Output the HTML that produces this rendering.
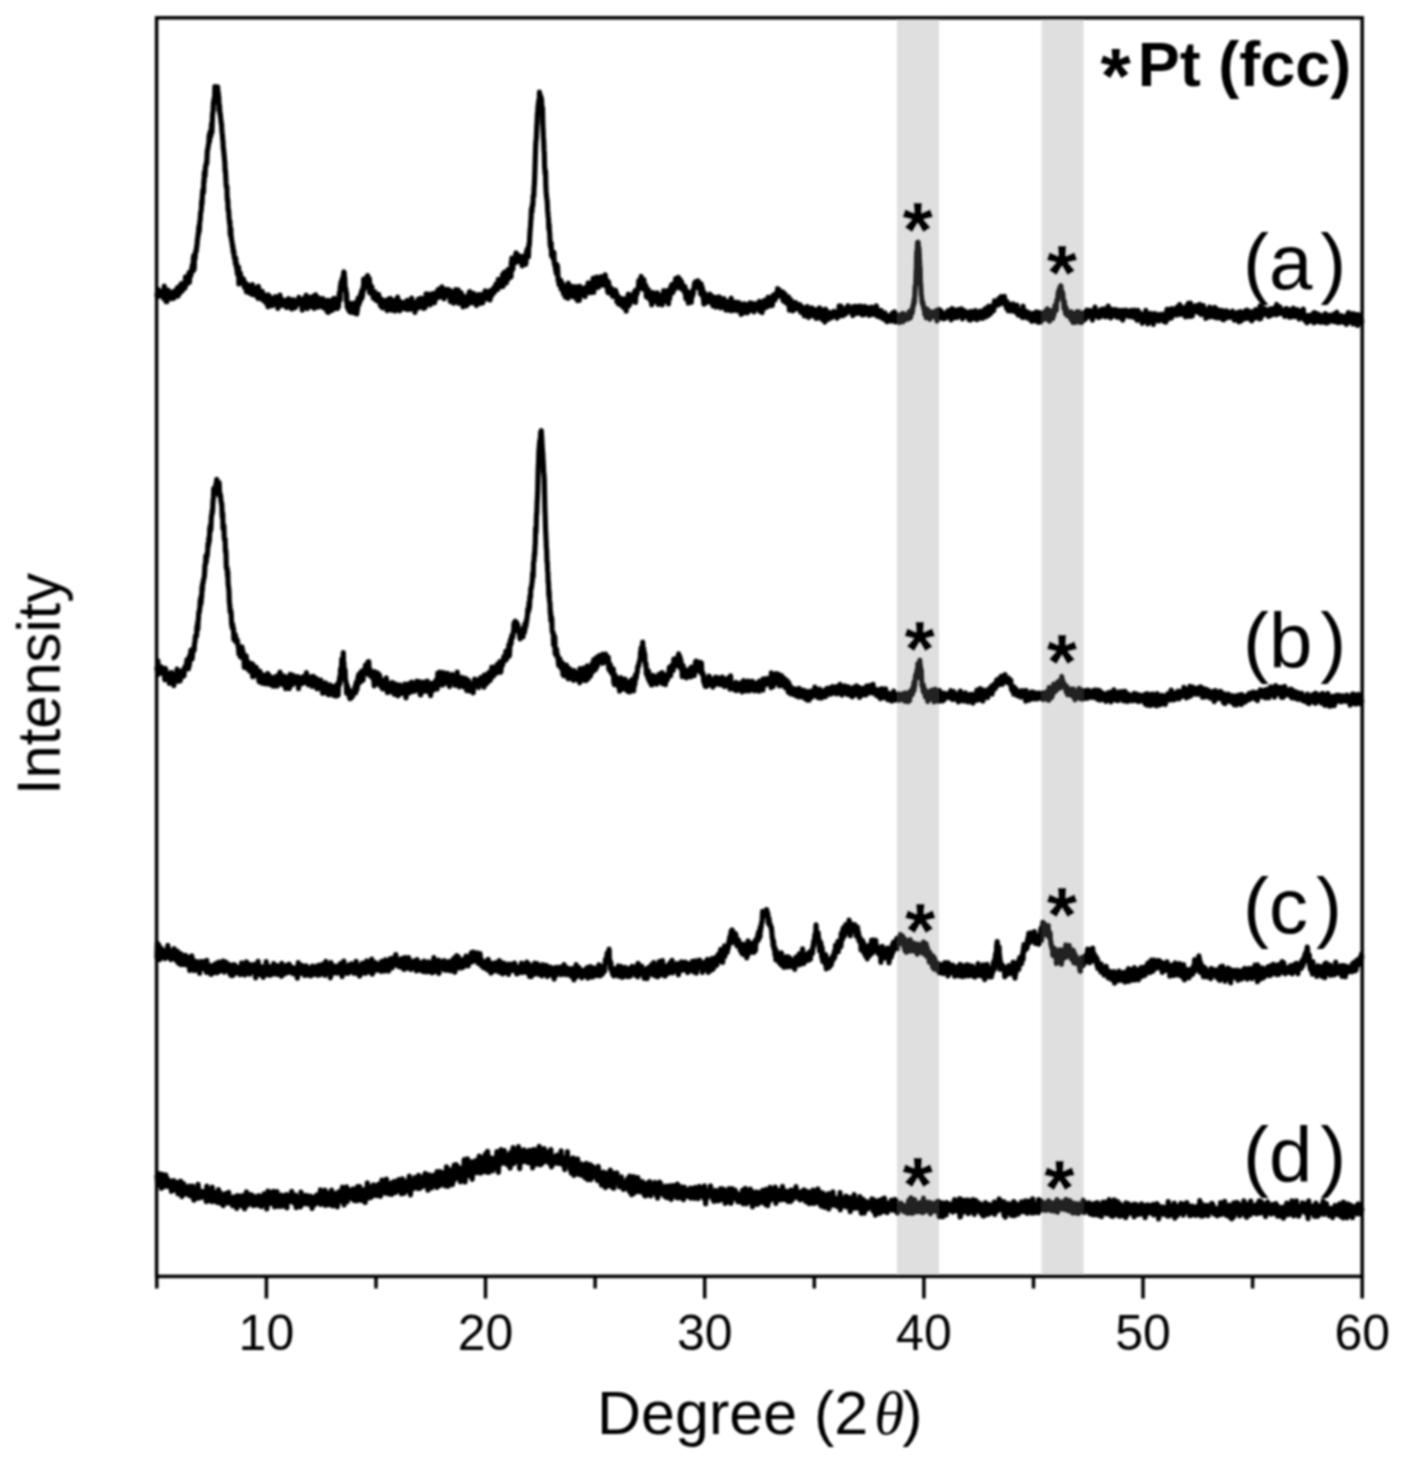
<!DOCTYPE html>
<html><head><meta charset="utf-8"><title>XRD patterns</title>
<style>
html,body{margin:0;padding:0;background:#fff;}
svg{display:block;}
text{font-family:"Liberation Sans",Arial,sans-serif;fill:#000;}
</style></head>
<body>
<svg width="1402" height="1464" viewBox="0 0 1402 1464">
<defs><filter id="bl" x="-5%" y="-5%" width="110%" height="110%"><feGaussianBlur stdDeviation="0.85"/></filter></defs>
<rect width="1402" height="1464" fill="#fff"/>
<g filter="url(#bl)">
<g fill="none" stroke="#000" stroke-width="5.2" stroke-linejoin="round" stroke-linecap="round">
<path d="M157 294.7l.3 1.5 .3-1.5 .3-5.3 .3 7.1 .3-1.5 .3-3.1 .3 3.6 .3-.7 .3-.2 .3-.8 .3 1.7 .3-4.1 .3 1.9 .3-1 .3 3.5 .3-1.7 .3-1 .3-1.5 .3 1.7 .3 .9 .3-.8 .3 5.1 .3-.9 .3-11.4 .3 2.3 .3 5.6 .3-.7 .3 2.1 .3 .1 .3 6.1 .3-10.2 .3 2.4 .3 7.8 .3-4.4 .3 .1 .3-3.7 .3-3.5 .3 5.8 .3-.1 .3-4.2 .3 1.8 .3 2 .3-2.8 .3 2.7 .3 .7 .3-.2 .3-1.7 .3 3.5 .3 .9 .3-1.8 .3-3.7 .3 4.9 .3-4 .3 4.3 .3-6.4 .3 6.3 .3-3.2 .3-4 .3 2.8 .3 1 .3 .5 .3-4.2 .3-.6 .3 3.9 .3-2.3 .3 2 .3 1.4 .3-7.9 .3 5.8 .3 2.8 .3-5.1 .3-1.9 .3 4.7 .3-1.9 .3 1.8 .3-4.3 .3-3.9 .3 4 .3-1.3 .3 3.6 .3-2.2 .3-6.1 .3 1.1 .3 6.3 .3-.9 .3-4.6 .3 1.7 .3 1.1 .3-.3 .3 .9 .3-2.4 .3-1.5 .3-1 .3 3.8 .3-11 .3 6.3 .3 0 .3-5.1 .3 5.1 .3-3.7 .3 4.3 .3-3.7 .3 1.9 .3 1.2 .3-3.3 .3-4.6 .3-2.7 .3 9.8 .3-6.7 .3-2.6 .3 1.9 .3-1.9 .3 2.6 .3-3.5 .3-1 .3-3.2 .3 2.8 .3-5.8 .3 4.4 .3 1.6 .3-10.8 .3-4.2 .3 8.7 .3 4.9 .3-12.8 .3-2.3 .3 4.3 .3-6.3 .3-.7 .3-1.3 .3 .9 .3-5 .3 .1 .3-3.6 .3-4.2 .3-.5 .3-4.2 .3 .7 .3-6 .3-2.5 .3 5.4 .3-7.5 .3-2.9 .3-1 .3-5.9 .3-2.3 .3-.7 .3-3.3 .3-7.4 .3 3.6 .3-7.4 .3-4.3 .3-2.4 .3-1.2 .3 3.6 .3-11.8 .3 1.5 .3-10.1 .3 4.1 .3 .1 .3-6.4 .3-4 .3 0 .3-1.2 .3-2.8 .3 1.6 .3-8.1 .3-5 .3-.8 .3-1.9 .3-1.5 .3-2.3 .3-1.1 .3-7.5 .3 6.3 .3-6.1 .3-3.5 .3 4.1 .3 .5 .3-4.5 .3-2.9 .3-5.6 .3 9.1 .3-8.1 .3-9.6 .3-2.5 .3-1.2 .3-9.1 .3 1.8 .3-5.2 .3 2.8 .3-2.4 .3-12.4 .3 7.4 .3-6.2 .3 7.9 .3-3.7 .3 .6 .3-5.6 .3 8.9 .3 .5 .3-9.6 .3 6.1 .3-.9 .3 5.2 .3-.5 .3 13.5 .3-5.8 .3 4.9 .3 5.3 .3-.9 .3 4.1 .3 1.7 .3 4.3 .3-.5 .3 5.3 .3 3.8 .3 2.7 .3 4.5 .3 2.2 .3 6.9 .3 .2 .3 4.4 .3 2.3 .3 4.4 .3 1.6 .3 9.7 .3-1.4 .3 5.2 .3 7.2 .3 3.9 .3 1.3 .3-1.3 .3 11.7 .3 3.3 .3-1.5 .3 10.6 .3-1.2 .3 2 .3 7 .3 2 .3 3.9 .3-3.1 .3 13.5 .3-5.2 .3-.6 .3 9.2 .3-.8 .3 4.3 .3 0 .3 3 .3 2.9 .3-1.3 .3 6.3 .3-1.9 .3 .4 .3 4.7 .3 2.8 .3-.5 .3-.4 .3 6.3 .3-6.1 .3 3.8 .3 4.9 .3-3.1 .3 5.7 .3 1 .3 4.2 .3-4.8 .3 2 .3 3.9 .3-8.1 .3 16.8 .3-9.9 .3 .6 .3 5.6 .3-2.3 .3-4.9 .3 8.2 .3 1.2 .3-3.7 .3 1 .3 2.9 .3-4 .3 4.7 .3-.3 .3-2.4 .3-1.9 .3 4.1 .3-1.8 .3 6.3 .3-2.4 .3 2.4 .3-1.8 .3 .7 .3-3 .3 4.9 .3 3.8 .3-6.4 .3-.7 .3 1.6 .3-.8 .3-.5 .3 2.9 .3-1.1 .3 5.7 .3-4.4 .3 1.2 .3 2.2 .3-3.8 .3 5.7 .3-6.4 .3-.4 .3 1.5 .3 1 .3-3.9 .3 4.5 .3-5.1 .3 9.9 .3-4.5 .3-1.6 .3-.7 .3 1.8 .3 .7 .3-2.5 .3 .6 .3 2.5 .3-.9 .3 4.8 .3 .8 .3-3.4 .3 1.7 .3-5.6 .3 6.5 .3-2 .3 1.9 .3 3.8 .3-12.2 .3 8.3 .3-4.1 .3 5.7 .3-5.9 .3 2.9 .3 2.4 .3 1.6 .3-1.5 .3-2.5 .3 1 .3 4.8 .3-2.6 .3-5.1 .3 8.3 .3-1.1 .3 1.7 .3-3.6 .3 3.9 .3-5.8 .3 5.4 .3-3.2 .3 3.9 .3 1.3 .3-5.4 .3 2.3 .3 .5 .3 3.8 .3-1.4 .3-6 .3 5.5 .3 1 .3 4.4 .3-11.9 .3 3.7 .3 6 .3-8.4 .3 .5 .3 5.6 .3 1.7 .3-5.3 .3 3.9 .3-1.2 .3 4.5 .3-4.7 .3 3.2 .3-6 .3 2.4 .3 .4 .3 4 .3-1.8 .3-4.1 .3 4.6 .3 .3 .3-2.7 .3-.4 .3 .2 .3-4.7 .3 6 .3 .2 .3-3.5 .3 5.2 .3-6.7 .3 2.6 .3 .3 .3 7.8 .3-11.4 .3 6.9 .3 1.2 .3-1.8 .3 2.6 .3-7 .3-4 .3 9.6 .3-6.2 .3 2.8 .3-2.7 .3 7 .3-.6 .3-5 .3 5.2 .3-2.5 .3-.8 .3 .6 .3-.8 .3 2.6 .3-1 .3-2.1 .3 4.3 .3-5.1 .3 2.8 .3 .4 .3 3.4 .3-6.3 .3 7.1 .3-4.9 .3-1.2 .3-1.5 .3 4 .3-1.7 .3-3.7 .3-.1 .3 1.8 .3-.3 .3 5.6 .3 .9 .3-1.6 .3-1.7 .3-2.5 .3 1.6 .3 2.6 .3 4 .3-3.9 .3-3.8 .3 1 .3-1.6 .3-1 .3 1.9 .3 1.2 .3 5.2 .3-5.6 .3 4.1 .3 1.3 .3-5.3 .3 4.8 .3-2.8 .3-3.6 .3 2.1 .3-.7 .3-.8 .3 .1 .3 1.1 .3 .9 .3-4.2 .3 2.8 .3-4.8 .3 5.6 .3 1.2 .3-1.5 .3 .4 .3 1 .3-4 .3 1.3 .3 2.4 .3 1.5 .3-1.9 .3 6.8 .3-8.4 .3 3.5 .3 .8 .3-4.5 .3-2.1 .3-1.2 .3 4.2 .3 3 .3-2.7 .3-.3 .3-1.8 .3 3 .3-8.6 .3 7.5 .3-.7 .3-4.5 .3 11.3 .3-11.4 .3 1 .3-.4 .3 7.3 .3-6.4 .3 4.9 .3-.3 .3-1.1 .3-5 .3 2.2 .3 7.2 .3-9.4 .3 1.4 .3 2.1 .3 3.1 .3-1.8 .3 1.5 .3-5.7 .3 6.3 .3-1.2 .3-6.8 .3 9.9 .3 2.3 .3-9.7 .3 2.6 .3 4.3 .3-9.2 .3-1.6 .3 2.2 .3 2.3 .3 0 .3 3.7 .3-1 .3-4.8 .3 5.8 .3 4.2 .3-2.1 .3-.6 .3-3 .3 3.2 .3-6.1 .3 5.5 .3-2.5 .3 4 .3-1.9 .3-4.8 .3 4 .3 3.6 .3-7.3 .3 2 .3-.5 .3-2.1 .3 8 .3 1.3 .3-1.4 .3-1.6 .3-.8 .3 1.2 .3-2.9 .3 5.3 .3 .7 .3-.2 .3-4.5 .3 2.2 .3-.6 .3 6.3 .3-4.9 .3-6.4 .3 7.4 .3 4.8 .3-3.6 .3 .7 .3-2.5 .3-6.3 .3 .6 .3 1.9 .3 3.6 .3 1.5 .3 1.2 .3-3.2 .3 4.1 .3-3.9 .3-1.3 .3 4.8 .3-5.7 .3-5.4 .3 4.7 .3 3.5 .3-8.8 .3 6.9 .3-.2 .3-3.7 .3-.5 .3 2.8 .3-.6 .3 5.3 .3-3.2 .3-6.6 .3 1.9 .3 4.5 .3 3.3 .3-5.3 .3-.7 .3 4.3 .3-6.9 .3-2.2 .3-5 .3 1.1 .3 6.7 .3-13.4 .3 2.4 .3-6.6 .3 2.7 .3 .3 .3-5.5 .3 1.3 .3-1.7 .3-2.2 .3 2.9 .3-3.7 .3-3.7 .3-1.1 .3 .5 .3 6 .3-.2 .3 12.1 .3 .7 .3-3.1 .3 3.1 .3 9.8 .3-8.1 .3 7.4 .3 6.9 .3-4 .3 2.6 .3 .8 .3 3.3 .3-1.5 .3 1 .3 .8 .3-1.6 .3 3.5 .3-5.7 .3-2.1 .3-.9 .3 .6 .3 3.4 .3 5.1 .3-2.6 .3-2.4 .3-1.4 .3 1.8 .3 .4 .3-.4 .3-2.7 .3 3 .3 4.8 .3-10.1 .3 6.1 .3-5.9 .3 7.2 .3-3.1 .3-4.5 .3 6.5 .3 4.9 .3-6.1 .3 2.6 .3-4.7 .3-7.4 .3 7.5 .3-3.8 .3-4.3 .3 6.2 .3-2.5 .3-3.5 .3 3.5 .3-6.4 .3 4 .3-5.8 .3 3.8 .3-6.1 .3 7.3 .3-5 .3 2.7 .3-8.1 .3 0 .3 3.2 .3-11.9 .3 4 .3 5.8 .3-2.6 .3 1 .3-4.6 .3 2.3 .3-4.3 .3-2.1 .3-1 .3 3.7 .3 .1 .3 0 .3-6 .3 2.2 .3 4.9 .3 3 .3-2.4 .3-.5 .3-4.1 .3 14.2 .3-9.4 .3 9.4 .3 .1 .3-3.5 .3-2.2 .3 2.8 .3-3.5 .3 5 .3-.3 .3 2.2 .3 1.8 .3 3 .3-6.2 .3 4.9 .3-5.3 .3 0 .3 1.3 .3-.8 .3 6.5 .3 .2 .3 1.5 .3-3.7 .3 1.3 .3-2.2 .3-1.5 .3 5.5 .3-.2 .3-3.9 .3 5.7 .3-6.9 .3 5.3 .3-1 .3 .7 .3-1.4 .3 6.8 .3-.9 .3 2.3 .3-3 .3-4.2 .3 3.2 .3-2.3 .3 5.5 .3 2.6 .3-2.6 .3-2.7 .3 .9 .3 2 .3-5.1 .3 5.2 .3 .2 .3-2.3 .3 .4 .3 1.9 .3-3.1 .3-.1 .3 5.1 .3-1.8 .3 4.6 .3-8.4 .3-2.5 .3 8.6 .3 0 .3-5.3 .3-2.3 .3 4.5 .3-5.4 .3 4.4 .3-5.8 .3 6.2 .3-6 .3 6 .3 5.5 .3-5.6 .3 3.2 .3-4.4 .3-.8 .3-1.9 .3 8 .3-3.5 .3 5.3 .3-8.9 .3 3.1 .3 .9 .3 4.2 .3 1.3 .3-7.8 .3-1.5 .3-1.9 .3 9.7 .3-4.5 .3-1.8 .3 1.9 .3-7.9 .3 2.6 .3 8.4 .3-1.7 .3-.8 .3-3.6 .3 5 .3 3.7 .3-9.4 .3 3.9 .3-1.4 .3 2.5 .3-1.1 .3-.5 .3-2.4 .3 2.8 .3-1.9 .3 1.5 .3 .2 .3 2.3 .3-3.9 .3 .8 .3 4.4 .3-4.1 .3-.1 .3 3.6 .3-1.9 .3-.6 .3 .4 .3-4.6 .3 5.4 .3 2.7 .3-2.3 .3-6.8 .3 5.8 .3-3.7 .3 2.1 .3 1.1 .3-4.2 .3 8 .3-4.5 .3 2.7 .3-.6 .3 2.2 .3-.5 .3-8.4 .3 4.7 .3-6.9 .3 5.3 .3 3.6 .3 .6 .3 1.1 .3-5.3 .3 2.1 .3-.8 .3 3.6 .3 1 .3-6.2 .3 9.3 .3-8.4 .3-1.2 .3 3 .3 .4 .3-.7 .3-3.9 .3 6.6 .3-4.5 .3 4.5 .3-.5 .3-8.5 .3 .8 .3-.1 .3 3.8 .3-.7 .3 .6 .3-3.5 .3 3.8 .3 3 .3-8.7 .3 3.4 .3 1.3 .3-1.2 .3-.4 .3 6.1 .3-1.6 .3-1.5 .3-5.1 .3 9.3 .3-6 .3-3.1 .3 .7 .3-.6 .3 8.1 .3-6.1 .3-.6 .3-7 .3 9 .3-5.8 .3-.3 .3 5.4 .3-4.8 .3 5.3 .3 .8 .3-9.3 .3 5.1 .3-4.6 .3 4.6 .3 3 .3-7.3 .3 9.8 .3-6.8 .3-2.8 .3 3.1 .3 2.8 .3-7 .3 4.2 .3-4.5 .3 8 .3-3.5 .3-2 .3 4.5 .3-7.5 .3 2.6 .3 6.9 .3-6.4 .3 4.5 .3-3.8 .3-3 .3 1.3 .3 .8 .3-1.6 .3-1.5 .3 0 .3-2.4 .3 4.9 .3 .7 .3 1 .3-8.2 .3 8.1 .3-2.8 .3-4.6 .3 4.7 .3 2.2 .3-1.1 .3 .5 .3 .6 .3-.2 .3-3.1 .3-6.5 .3 4.1 .3 3.4 .3-2.7 .3 3.6 .3 .3 .3-2.4 .3 5.7 .3-9 .3 6 .3-4.4 .3-1 .3 4.3 .3-3.8 .3 4.7 .3-6.3 .3 3.8 .3-2.7 .3 2 .3-.3 .3-2.3 .3 5.7 .3-5.9 .3 1 .3 6 .3 .4 .3-.8 .3-.9 .3 6.2 .3-10.8 .3 1.6 .3-.6 .3 6.1 .3-1.7 .3 2.7 .3-.3 .3-3.6 .3-1.7 .3-.4 .3 10.3 .3-3.8 .3-1 .3-2.8 .3 .6 .3-.3 .3 .2 .3-6.4 .3 7.4 .3-.9 .3 2.3 .3-.2 .3 2.1 .3-2.6 .3 2.6 .3-10.5 .3 4.6 .3 9 .3-9.2 .3 3 .3 3.2 .3-5 .3 5.1 .3-6.7 .3-1.4 .3 1.9 .3-1 .3 5.2 .3-.9 .3 2.1 .3-4.2 .3 11.3 .3-8.2 .3 .2 .3 1.6 .3-2.1 .3-1.2 .3 2.3 .3 2.7 .3-.8 .3 .9 .3-4.7 .3-.6 .3 8.8 .3-7 .3 2.3 .3 .8 .3 2.2 .3-8.7 .3 2.8 .3 .2 .3 .4 .3-6.6 .3 7.3 .3-7.8 .3 9.1 .3 .8 .3 .2 .3-5.7 .3 6.8 .3-5.7 .3-1.1 .3 .8 .3 .4 .3 3.2 .3 2.1 .3-9.2 .3 4.8 .3 4.6 .3-2.3 .3 1 .3-6.4 .3 7.7 .3-8 .3 5.5 .3 3.6 .3 1.6 .3-4.4 .3 1.1 .3-4.7 .3 .3 .3 5.1 .3-3.8 .3-.5 .3-4.1 .3 4.8 .3 1.5 .3-4.7 .3 .8 .3 6.5 .3-4.5 .3-1.6 .3-2.8 .3 1.5 .3 1 .3 5 .3-6.4 .3 7.4 .3-8.7 .3 1.7 .3 3.6 .3-3.5 .3-2 .3 2 .3 1.7 .3-7 .3 4.5 .3 .3 .3-1.1 .3 3.4 .3-4.3 .3 .5 .3 1.1 .3 2 .3-3.1 .3 5.2 .3-7.7 .3 6.7 .3-6.9 .3 2 .3 1.5 .3 5.1 .3-3.8 .3-4.3 .3 5.1 .3-5 .3-2 .3 3.6 .3-1.4 .3 2.4 .3-5 .3 2.6 .3 .4 .3-1.4 .3-1.3 .3-2.5 .3 4.7 .3-2.7 .3 .7 .3-3 .3 .8 .3-3.7 .3 3.1 .3 1.8 .3-2.5 .3 2 .3-2.1 .3 2.9 .3-5.2 .3-4.9 .3 6.1 .3-2.2 .3-2.9 .3 4.7 .3-1.5 .3 .2 .3-2.7 .3 1.3 .3-.1 .3 4.5 .3-8 .3 1.8 .3 .9 .3-6.8 .3 .1 .3 11.6 .3-12.6 .3 7.1 .3-4.7 .3 0 .3-4.1 .3 3.1 .3 5 .3-7.1 .3 6 .3-1.2 .3 5.1 .3-8.2 .3 5.2 .3-1.5 .3-4.1 .3-4.6 .3 9.5 .3-9.4 .3 2.4 .3 3.9 .3 .2 .3-6.7 .3 1.8 .3-1.5 .3 3.7 .3 3.3 .3-14.6 .3 7.7 .3-12 .3 7.2 .3-4.5 .3 8.8 .3-6.7 .3-3.6 .3-.1 .3-.9 .3 1.7 .3-1.6 .3 2.2 .3 2.5 .3-2.8 .3-6 .3-1.2 .3 2.9 .3 5.8 .3-4.1 .3-.8 .3 2.8 .3-4.7 .3 1.2 .3 5.4 .3-2.4 .3-.2 .3 2.5 .3-2.7 .3-.4 .3 .7 .3 3.3 .3-1.7 .3-4 .3 2.7 .3 2.9 .3 3.7 .3-9.6 .3 4.5 .3-2.1 .3 3.2 .3-1.4 .3 2.9 .3-3.2 .3-3.7 .3-.3 .3 2.6 .3-.4 .3 5.9 .3-2.7 .3-9.4 .3 4.3 .3-5.8 .3-1.5 .3 6.9 .3-1.2 .3-5.6 .3 7.7 .3-9.7 .3-3.5 .3 1.8 .3-5.9 .3-6.1 .3-4.4 .3-3.3 .3-4.6 .3-3.3 .3-8.3 .3-1.2 .3 3.4 .3-7 .3 1 .3-1 .3-8.3 .3-1.8 .3 1.5 .3-9.3 .3-2.4 .3-7.7 .3-9.5 .3-9.8 .3-9.1 .3-7.1 .3-1 .3-6.2 .3-8.2 .3-2.7 .3-9.9 .3 .8 .3-6.8 .3-2.7 .3-2.2 .3-2.4 .3 6.3 .3-14.4 .3 4.6 .3 2.8 .3-1.4 .3-2 .3 8.3 .3-6.1 .3 2.3 .3 9.3 .3-2.7 .3 1 .3 15.6 .3 6.1 .3 7.1 .3 3.7 .3 9.3 .3 3.1 .3 14.1 .3 2.4 .3 4.9 .3-3.5 .3 13.5 .3 6.8 .3 3.6 .3 3.1 .3 1.7 .3 3.1 .3 7 .3 3.2 .3 3.6 .3 2.2 .3 10.2 .3-5.1 .3 7.2 .3 1.8 .3 8.2 .3 4.2 .3 2 .3 .7 .3-4.9 .3 12.7 .3-3.2 .3-.4 .3 1.9 .3 .3 .3 3.8 .3 .9 .3-.9 .3-5.7 .3 9.1 .3 2.7 .3 1.2 .3-1.1 .3 3 .3 2.8 .3-3.6 .3 7.1 .3-9.6 .3 3.3 .3 2.2 .3-3.6 .3 5.6 .3 8.2 .3 1.1 .3-2.4 .3 6.2 .3-3.6 .3-1.2 .3 3.3 .3-.2 .3 3.6 .3-6.2 .3 8.6 .3-3.9 .3 4.7 .3-7 .3 3.9 .3 1.9 .3 2.7 .3-6.4 .3 9.2 .3-3.5 .3-3 .3 5.7 .3-3.4 .3 3.5 .3 3.8 .3-4.7 .3-3.9 .3 .5 .3 3.3 .3-.8 .3-3.4 .3 .7 .3 4.3 .3 5.3 .3-15.3 .3 10.5 .3-2.8 .3 3.2 .3 .4 .3-2.5 .3-3.3 .3-1.1 .3-1.4 .3 9.8 .3-4.4 .3-1 .3 .9 .3-3.3 .3 5.2 .3 3.2 .3-.5 .3-8.4 .3 9.2 .3-6.6 .3-3.6 .3 2.1 .3 .9 .3 3 .3-3.2 .3-1.5 .3 3.9 .3 6.8 .3-8.2 .3 3.6 .3-1.2 .3 7.8 .3-14 .3 9.3 .3-7.4 .3 2.1 .3 1.5 .3 8.4 .3-10.6 .3-3.5 .3 9.9 .3-6.7 .3 1.8 .3 .6 .3 .4 .3-.9 .3 1.3 .3 .3 .3 1.4 .3-4.1 .3-1 .3-1.1 .3 5.1 .3-2 .3 1.8 .3-.1 .3 3.5 .3-4.7 .3 1.6 .3-6.2 .3 .3 .3 2.3 .3-2.9 .3 5.9 .3-6.4 .3 4.3 .3-8 .3 4.2 .3 2.2 .3 .1 .3-4.9 .3 5.7 .3 2.5 .3-1.2 .3-4.4 .3 0 .3-2.2 .3 5.4 .3 2.2 .3-6.5 .3-4 .3 5.6 .3 1.2 .3-10.6 .3 8.2 .3 6 .3-4.5 .3-1.2 .3-.8 .3 1.8 .3-6.5 .3 .1 .3 3.6 .3-3.6 .3 2.8 .3-6.9 .3 8.2 .3 .1 .3-2.6 .3 .3 .3 4.4 .3-8.6 .3 .5 .3-.7 .3 2 .3-2 .3 3.2 .3-2.2 .3-2.6 .3-.4 .3 8.5 .3-4.1 .3-.5 .3 .7 .3-.4 .3 2.6 .3-.7 .3-3.6 .3-.7 .3-.9 .3-.5 .3 8.3 .3-7.2 .3-3.3 .3 3.9 .3 .4 .3 3.7 .3-3.5 .3 4.8 .3 0 .3 3.1 .3 3.2 .3 1.9 .3-3.5 .3-7.3 .3 2.8 .3 2.6 .3 6.2 .3-3.9 .3 2.2 .3-3.9 .3 2.9 .3 .8 .3-3.2 .3 4.2 .3 1.3 .3-3.5 .3 4.1 .3 2.3 .3-4.6 .3 .2 .3-.6 .3-.6 .3 2.8 .3-1.3 .3 .7 .3-1.1 .3-1.9 .3 2.2 .3 4.4 .3-4.3 .3 2 .3 7.6 .3-1.2 .3-5.3 .3 4.4 .3-3.5 .3 7.4 .3-6.5 .3 2.4 .3 4.4 .3-6.5 .3 7 .3-6.4 .3 3.6 .3-1.4 .3 1 .3 1 .3-.5 .3-2.7 .3 6 .3-.3 .3 2 .3 .4 .3-8.4 .3 8.3 .3 .1 .3-5.7 .3 4.9 .3 1.4 .3-6.3 .3-2.7 .3 3.1 .3 9.1 .3-7.4 .3-4.7 .3 2.9 .3-2.5 .3 1.7 .3 1.3 .3-8.4 .3 8.8 .3 3.1 .3-5.3 .3-.8 .3 4.3 .3-7.6 .3-.2 .3-.8 .3 3.6 .3 1.4 .3-1.8 .3 1.6 .3 .6 .3-1.4 .3-4.4 .3 1.4 .3 4.3 .3-7.4 .3 2.1 .3-.9 .3 .4 .3-3.1 .3-1.2 .3 11.8 .3-5.4 .3-5.6 .3 1.6 .3 1.7 .3-3.8 .3 2.4 .3-4.5 .3 .2 .3 .1 .3-1.8 .3-6.9 .3 7 .3 .1 .3 0 .3-5.2 .3 3.5 .3-.9 .3-6.7 .3-1.8 .3 7.9 .3-4.8 .3 5.8 .3 3.4 .3-8.6 .3-.3 .3 2.2 .3 2.5 .3-5.1 .3 8.1 .3-.1 .3-.2 .3-2.8 .3 5.5 .3 .8 .3-5.3 .3 11.2 .3-6.5 .3 3 .3-2 .3 3.5 .3 3 .3-5.7 .3-2.4 .3 4 .3-2.5 .3 2 .3 2.1 .3 .4 .3 4.4 .3-7 .3 4.5 .3-2.5 .3 6 .3 3.8 .3-6.8 .3 4.4 .3-6.7 .3-3.2 .3 1.2 .3-.8 .3 2 .3 2.4 .3 4.4 .3-1.3 .3-.6 .3-2.7 .3-.8 .3 2.4 .3 .4 .3 .4 .3 .5 .3-1.5 .3-5.6 .3 2.6 .3 .9 .3 7.9 .3-6.6 .3 3.4 .3 2.4 .3-3.5 .3-2.2 .3 .2 .3-2.3 .3 4.1 .3 2.6 .3-1.8 .3 .5 .3-.2 .3 3.9 .3-8.2 .3 2.4 .3 1.6 .3 1.6 .3-11.5 .3 5.8 .3 .9 .3-2.7 .3 5.8 .3-2.1 .3-2 .3-4 .3 .9 .3 .9 .3 4.3 .3-5.3 .3-2.7 .3 1.7 .3 2.5 .3 6.8 .3 2.3 .3-9.6 .3 4.1 .3 1 .3-.8 .3-4.9 .3-4.2 .3 2 .3-4.8 .3 5.9 .3 1.1 .3-8.9 .3 5 .3 .5 .3 2.3 .3-.2 .3-2.4 .3-5.3 .3 .4 .3 4.3 .3-6.2 .3 1.2 .3 4.5 .3-5 .3-5.1 .3 3 .3 2.5 .3-2.9 .3 3.9 .3 .1 .3-6.1 .3 .3 .3 1.2 .3-3.4 .3 5 .3-1.6 .3 3.2 .3-4 .3-.6 .3 8.8 .3-8 .3 1.4 .3 0 .3 1.9 .3-1.3 .3 3.3 .3-1.5 .3 1.5 .3 3.1 .3 1.7 .3-.1 .3-3 .3 4.1 .3-.9 .3 .7 .3-4.4 .3 8 .3-1.9 .3 6.2 .3-2.7 .3-5 .3-.4 .3 8.3 .3-6 .3 5.2 .3-2.8 .3 7.6 .3-6.1 .3 4.5 .3-.6 .3-5.7 .3 .2 .3 5.4 .3-5 .3-3.1 .3 5.9 .3 3.7 .3-8.7 .3 3.9 .3-5.5 .3 4 .3-5.7 .3 4.2 .3-3.2 .3-2.9 .3 .5 .3-3.1 .3-2.4 .3-.5 .3 2.6 .3-3.7 .3 4.2 .3-.2 .3-.5 .3-3.3 .3 1.5 .3-.4 .3 4.2 .3-6.5 .3 1.5 .3 .8 .3 .6 .3-1.4 .3 .9 .3 5.7 .3-4.5 .3 5.5 .3 4.2 .3-1.5 .3-8.8 .3 8.8 .3-.1 .3 1 .3-5.9 .3 8.2 .3-4.9 .3 8.1 .3 0 .3 5.2 .3-8.4 .3-2.9 .3 8.4 .3-.1 .3-3.6 .3 5.6 .3-1.9 .3-6 .3 3 .3-.2 .3 1.1 .3 1 .3-2.7 .3 1.6 .3 2.5 .3-2 .3-.5 .3-.1 .3 .7 .3-5.5 .3 6.4 .3-3.6 .3 3.5 .3-4.8 .3 7.4 .3-2.1 .3-4.8 .3 4.9 .3-3 .3 7.8 .3-3.9 .3-3.9 .3 3.1 .3-.7 .3 3.7 .3-2.5 .3 .5 .3-4.9 .3 5.8 .3 4 .3-4.3 .3-2.1 .3 .7 .3-3.3 .3 3.5 .3-3.9 .3 3.5 .3-1.2 .3-1.3 .3 4.4 .3-6.2 .3 4.4 .3-3.7 .3 9.6 .3 .5 .3-3.3 .3 3.3 .3-3.8 .3 0 .3-2.8 .3-1.3 .3 3.2 .3-1.9 .3 .5 .3 3.6 .3-2.4 .3-4.1 .3 4.1 .3-1.5 .3 1.6 .3-2.3 .3 7.1 .3 2.2 .3-8.9 .3 5.4 .3 0 .3-4.8 .3 3.6 .3 4 .3-1.5 .3 2.4 .3-8.2 .3 1.4 .3 3.2 .3 .2 .3-.9 .3-1.1 .3 0 .3-.6 .3 3.2 .3-9.1 .3 12.6 .3-6.3 .3-2.6 .3 5.9 .3-5.8 .3 5.3 .3-2.3 .3 3 .3 .6 .3 1.5 .3-5.3 .3 .7 .3 .8 .3-4.1 .3 6 .3-1.4 .3-4.3 .3 7.5 .3 .5 .3-7.9 .3 5.6 .3 2 .3-1.2 .3-5.3 .3-1.2 .3 3.8 .3-1.1 .3 1.4 .3-.2 .3 1.8 .3-3.1 .3 1.2 .3 8 .3-7.9 .3 2.5 .3-1.3 .3-.2 .3-3.2 .3 4.2 .3-1.7 .3 2.5 .3 3.7 .3-5.5 .3 1.7 .3-5.2 .3 3.4 .3 4.1 .3-4.6 .3-1.7 .3 2.5 .3-1.2 .3-.1 .3-.4 .3 6.9 .3-8.3 .3 1.3 .3-.4 .3 5.2 .3-4.4 .3 4.6 .3-3.3 .3-.5 .3-4.2 .3 7.7 .3-1.9 .3-.4 .3-1.5 .3-.8 .3-2.5 .3 6.4 .3-2 .3-1.8 .3-.8 .3 2.2 .3-.6 .3 5 .3-2.6 .3-3.9 .3-1.5 .3 2.5 .3-2 .3 2.8 .3 .9 .3 .6 .3-.7 .3-1.8 .3 2.2 .3-4.3 .3 2.3 .3 2.4 .3-1.5 .3-4.5 .3 .2 .3-1.4 .3 9.7 .3-9.7 .3 4 .3 5.5 .3-2.2 .3 .5 .3-5.2 .3 3.4 .3 5.1 .3-7.5 .3 1.1 .3-2.1 .3 .7 .3 1 .3 2.7 .3-6.6 .3-1.6 .3 4 .3 .4 .3 3.3 .3-2.1 .3-4 .3 3.3 .3 1.4 .3-2.5 .3-1.9 .3 2.7 .3-3.1 .3-4.4 .3 8.9 .3-7.5 .3 2.5 .3-.1 .3-.2 .3 0 .3-3.4 .3 5.3 .3-1.5 .3-.2 .3 2.8 .3-.1 .3 .5 .3 1.2 .3-4.1 .3-5.8 .3 4.6 .3-.9 .3-.2 .3-2.2 .3-1.2 .3 4.3 .3 0 .3-6.2 .3 4.2 .3-2.4 .3-1 .3 2.6 .3-2.4 .3-1.8 .3 1.4 .3-6 .3 3.6 .3 .2 .3-2.9 .3 4.3 .3 .1 .3-2.4 .3 1.2 .3 2.4 .3 1.1 .3-4.9 .3 3.2 .3 2.1 .3-2.7 .3-1.9 .3 .3 .3 1.5 .3-1.7 .3 8.7 .3-6.8 .3 3 .3-.2 .3 1.6 .3-2.4 .3-2.1 .3 8.4 .3-4.3 .3 1 .3 .6 .3 3.3 .3-.9 .3 1.5 .3-.6 .3-1.4 .3 .7 .3-2.4 .3-2.9 .3 5 .3-1.9 .3 10.3 .3-2.5 .3-.7 .3-4.4 .3 7.3 .3-10 .3 1.6 .3 1.3 .3-.3 .3 3.1 .3 .4 .3 4.8 .3-2.3 .3 .8 .3-2 .3-1.4 .3-1.3 .3-2.1 .3 1.9 .3 1.5 .3 3.2 .3-6.4 .3 1 .3 4.4 .3-3.3 .3 3.9 .3-1.9 .3-.8 .3-1.4 .3 3.5 .3-1.6 .3 .4 .3 .1 .3 2.3 .3 0 .3-4.8 .3 4.3 .3 1.6 .3 1.8 .3-.6 .3-1.4 .3-3.5 .3 1.1 .3 4.6 .3-4.2 .3 4.7 .3 .8 .3-6.2 .3 4.1 .3-1.4 .3 5.8 .3-3 .3-3.5 .3 2.5 .3-3.4 .3 2.1 .3 1 .3 0 .3 .5 .3-3.2 .3-2.4 .3 4 .3-1.3 .3 .6 .3 7.6 .3-2.5 .3-3.4 .3-3.3 .3 .5 .3 4.4 .3 2 .3-3.5 .3 1.2 .3 .4 .3 2.2 .3-7.7 .3 5.5 .3 .7 .3 1.5 .3-1.3 .3-3.9 .3 1.4 .3-2.4 .3 4.6 .3 .1 .3 .9 .3-3.8 .3-.4 .3 7.1 .3-3.4 .3 4.1 .3-3.3 .3-4.9 .3 6 .3 1.2 .3-4.4 .3-3.8 .3 6.9 .3-2.1 .3 1.2 .3-7.5 .3 8.1 .3-7.9 .3 4.5 .3 4.6 .3-7 .3 0 .3 3.7 .3 5.5 .3 0 .3-5.8 .3 4.3 .3-1.1 .3-.8 .3 .3 .3-2.8 .3 4 .3 .7 .3 4 .3-4.3 .3-8.8 .3 3.3 .3 4 .3-.7 .3-5 .3 4.5 .3-.5 .3 .8 .3-.2 .3 2.7 .3 1.4 .3-2.1 .3-4.7 .3 .7 .3 .4 .3 1.6 .3-1 .3 .1 .3-1.5 .3 4.8 .3-.3 .3 .2 .3-2.8 .3 1.3 .3-3.6 .3-.3 .3 1.1 .3 2.9 .3-2 .3-2.7 .3 3.1 .3 .8 .3-.8 .3-2.3 .3 1.8 .3-1.3 .3 .1 .3 .5 .3 2.1 .3 2.7 .3-.8 .3-2.6 .3-2.7 .3 .1 .3 0 .3 3.6 .3-9.9 .3 7.3 .3-5.9 .3 5 .3 3.4 .3-6 .3-3.6 .3 9.2 .3 .4 .3-2.7 .3 1.9 .3-5.5 .3 5.1 .3 1.2 .3-2.8 .3-1 .3 2.5 .3-.5 .3-4.9 .3 5.4 .3-1.7 .3-1.6 .3 2.9 .3-1 .3-.5 .3-3.3 .3 3.4 .3-5.1 .3 2.5 .3-4.1 .3 0 .3 5.6 .3-1.4 .3 .4 .3 1.3 .3-.6 .3-3.2 .3 2.5 .3-.4 .3-1.1 .3 1 .3-.6 .3-.8 .3 .9 .3 1.4 .3 4.8 .3-7.5 .3 3.5 .3-5.1 .3 7.9 .3-5 .3 1.2 .3 3 .3-.7 .3-6.5 .3 5.4 .3-2.1 .3 2.2 .3-1.2 .3 1.6 .3-1.2 .3-1.1 .3 3.5 .3-7.1 .3 2.9 .3-1.4 .3 2.2 .3-.8 .3 .8 .3-.9 .3 .1 .3-3.1 .3 4.2 .3 1 .3-2.4 .3-.1 .3 0 .3 6.1 .3-3.9 .3 .6 .3-1.8 .3-.5 .3-1 .3 6.3 .3-8.4 .3 5.3 .3-.9 .3-.6 .3-3.3 .3 .8 .3 5.8 .3-4.3 .3 4.1 .3-.5 .3-.2 .3 .5 .3-5.1 .3 1.9 .3 3 .3-5 .3 7.6 .3-5.7 .3 1.3 .3-2.5 .3 3.6 .3-2.8 .3 1.3 .3-2.3 .3 6.1 .3-7.3 .3 5.5 .3-.5 .3 .6 .3-3.7 .3 5.4 .3-.1 .3-2 .3 .5 .3-1.2 .3 2.2 .3-3.7 .3 3.7 .3-.3 .3-4.6 .3-3 .3 6.6 .3 0 .3 3.7 .3-2.9 .3-1.4 .3-2.1 .3 3.5 .3-1.2 .3-1.2 .3 2.7 .3 3.2 .3-2.4 .3-2.8 .3 3.7 .3-3.6 .3-1.1 .3 5.5 .3-2.6 .3 4.5 .3-1.9 .3-2.8 .3 2.8 .3 2.9 .3-3.7 .3-2.1 .3 1.1 .3-.2 .3-.8 .3-.2 .3 4.6 .3 1.9 .3-3.7 .3 3.1 .3 .4 .3 2.2 .3-4.8 .3-.3 .3 2.1 .3-.7 .3 .6 .3 2.7 .3-4.4 .3 1.7 .3-3 .3 2.2 .3-1.2 .3-.2 .3 1.5 .3-.6 .3 2.2 .3 1.2 .3-5.9 .3 6.5 .3-8.4 .3 6.5 .3 1.2 .3-3.5 .3 1.1 .3-1.4 .3 4.3 .3-9.1 .3 4.3 .3-2.6 .3 5.6 .3 2.8 .3-.3 .3-1.3 .3-1.2 .3-2.6 .3 5.1 .3-1.5 .3-3.9 .3-1.2 .3 1.7 .3 4.4 .3 .4 .3 .9 .3-6.2 .3 1 .3 4.5 .3-3.1 .3 1.4 .3-5.5 .3 2.4 .3 .8 .3-.9 .3-.2 .3-3.3 .3 8.4 .3-3.9 .3-4.2 .3 6.5 .3-2.7 .3 1.6 .3-2.5 .3-1.6 .3 0 .3 2.7 .3 1 .3-.8 .3 .3 .3 1.3 .3-2.5 .3 1.8 .3 .1 .3-2.2 .3-1.1 .3-1.1 .3-2.1 .3-1.1 .3 7.1 .3-3.9 .3-1.9 .3 5 .3-2.3 .3-3.2 .3 1.6 .3-4 .3 .4 .3 2.6 .3-3.2 .3-4.7 .3 1.2 .3-.2 .3-4.9 .3-2.3 .3 4.2 .3-8.7 .3-7.2 .3-1.8 .3-.7 .3-11 .3-6 .3-14.7 .3-1.8 .3-.4 .3-8.1 .3 2.3 .3-2.6 .3 1.2 .3 6.2 .3-1.6 .3 5.1 .3 7.1 .3 6.4 .3 1.3 .3 13.8 .3 3.2 .3 4.3 .3 6.5 .3 .6 .3 6.3 .3-1.3 .3 3.3 .3-2.6 .3 3 .3 3.1 .3-2.2 .3 1.9 .3 2.6 .3 4 .3-.2 .3 1.1 .3-1.1 .3 1.9 .3 1.8 .3-3.5 .3 .8 .3 .5 .3-6.6 .3 5.1 .3 1.4 .3 1 .3-2.7 .3 3.5 .3-4.2 .3 1.3 .3 4.9 .3-7.8 .3 3.4 .3-.1 .3 .2 .3-1.1 .3 3.1 .3-4.4 .3-.6 .3 4.7 .3-4.3 .3 4.1 .3-.9 .3-1.8 .3 .9 .3 .7 .3 1.4 .3-2.8 .3 1.1 .3-3.1 .3 3 .3-4.3 .3 4.9 .3-1.1 .3 6.6 .3-2.1 .3-3.7 .3 2.8 .3-1.7 .3-3.8 .3-3.3 .3 9.1 .3-1.9 .3-6.1 .3 6.7 .3 .7 .3-4.2 .3 3.8 .3-6.5 .3 3.8 .3 .6 .3 1.9 .3-1 .3-.5 .3 .8 .3-3.2 .3 5.5 .3-4.7 .3 2.9 .3-2.2 .3-.6 .3 2.1 .3-.4 .3 2.2 .3-.7 .3-4.3 .3 2.7 .3-1.1 .3-2.4 .3-.8 .3 3.5 .3-2.1 .3-2.3 .3 3.3 .3 .8 .3-.4 .3-3.4 .3 1.6 .3 5 .3-5.6 .3 1.1 .3 6.8 .3-5.1 .3-2.3 .3-3.8 .3 5.9 .3-4.5 .3 3.5 .3-2.2 .3-2.1 .3 8.6 .3-4.6 .3 2.7 .3-.5 .3-3.9 .3 2.2 .3-1.2 .3 3.4 .3-1.4 .3-2 .3 5.2 .3-2.9 .3-.2 .3-3.2 .3 3.1 .3-4.8 .3 5 .3-3.6 .3 2.9 .3-1.2 .3 1.4 .3 .3 .3-1 .3 0 .3-3.7 .3-1 .3 8.2 .3-1.7 .3-5.3 .3 8.8 .3-6.8 .3 3.3 .3-.2 .3-.8 .3 1.3 .3-5.1 .3 3.5 .3-.5 .3 .9 .3-.9 .3-.9 .3-.2 .3 4.3 .3-4.5 .3 3.2 .3 0 .3-1.1 .3 1.4 .3 .4 .3-2.8 .3 2.3 .3 4.1 .3-7.7 .3 2.1 .3-1.2 .3 7.2 .3-8.8 .3 3.7 .3 2.5 .3-4.7 .3 2 .3-1.5 .3-1.6 .3 3.3 .3 1.5 .3-2.2 .3 1.4 .3 1.4 .3 1.4 .3-6.3 .3 4.8 .3-3.2 .3-3.3 .3 2.9 .3 3.7 .3-.8 .3-3.7 .3 7.1 .3-3.2 .3-1.2 .3-1.2 .3 2.5 .3-2.1 .3 3.9 .3-2.2 .3 .8 .3-2.5 .3-3.1 .3 5.2 .3-4.1 .3 2.3 .3 .2 .3-2.1 .3 4.2 .3-6.1 .3 7.5 .3-5.5 .3 3.9 .3 .7 .3-5.7 .3 .2 .3 4.2 .3-2 .3-.5 .3-5 .3 .3 .3 5.5 .3 2.2 .3-5.7 .3-.6 .3 2.6 .3 .5 .3 .1 .3-2.8 .3-4 .3 8.6 .3-5.3 .3 4.4 .3-8.6 .3 5.9 .3-2.4 .3-1.7 .3 5.1 .3 .7 .3-5.1 .3 3 .3-4.6 .3 1 .3 .8 .3-.5 .3 2.3 .3-5 .3 5.4 .3-.4 .3-3.4 .3-2.8 .3-3.5 .3 5.6 .3-2.1 .3 1.7 .3-3.5 .3 2.3 .3-.6 .3-.2 .3 .3 .3-.5 .3 1.4 .3-4.9 .3 3.5 .3-1.8 .3-1.8 .3-1.8 .3 6 .3-3.3 .3-2.1 .3 1.3 .3-.2 .3-1.4 .3-2.2 .3 4 .3-.8 .3-.2 .3 3.4 .3-5.7 .3 1.1 .3 3.1 .3 1.9 .3-.3 .3 .6 .3-7.3 .3 7.3 .3 .1 .3 1 .3-3.2 .3 3.4 .3 1.6 .3 1.9 .3-3.2 .3-3.7 .3 3.8 .3 1.9 .3-.1 .3 3.9 .3-5.2 .3-1.8 .3 1.2 .3 3.5 .3-3.5 .3-.5 .3 .7 .3 5.5 .3-2.3 .3-1.3 .3 3.2 .3-.2 .3-4.1 .3 4.8 .3-1.3 .3-5.8 .3 2.4 .3 3.9 .3 .8 .3-1.9 .3-1.6 .3 3.3 .3-5.2 .3 6.3 .3-1.7 .3 .4 .3-1.5 .3 4 .3-8 .3 3.8 .3 3.8 .3-3.2 .3 5.7 .3-2.6 .3-2.9 .3 4.9 .3-3 .3 1.9 .3-3 .3 .1 .3 3.5 .3-1.5 .3-2.1 .3-.2 .3 4.1 .3 2.9 .3-6.6 .3 4 .3-8.5 .3 3.4 .3 5.4 .3 2.4 .3-3.8 .3 1.4 .3-.7 .3 2 .3-5.3 .3 4.5 .3-2.6 .3 .3 .3 1 .3-.5 .3-1.3 .3 1.4 .3-1.7 .3 6.3 .3-1.9 .3-2.8 .3 5.2 .3-.7 .3-2 .3-2.5 .3 2.1 .3 .8 .3 2.2 .3-4 .3-.9 .3 7.4 .3-2.2 .3-2.7 .3-3.1 .3 3.6 .3 1.7 .3-.9 .3 .3 .3-2 .3 2.9 .3-4.5 .3 .5 .3-.1 .3-.3 .3 6.7 .3-9.4 .3 5 .3-3.1 .3-.6 .3 3.5 .3-4.3 .3 3.8 .3 6.2 .3-6.2 .3 1.5 .3-3.3 .3 3.4 .3-5.1 .3 4.4 .3-.8 .3 5.9 .3-5.8 .3-.8 .3-.5 .3-1.6 .3 5 .3 1.8 .3-4.8 .3 2.8 .3-2.8 .3 1.9 .3 .1 .3-4.9 .3 1.7 .3 4.3 .3-7.4 .3 4.9 .3-1 .3-1.6 .3 2.5 .3 .5 .3 .6 .3-8.3 .3 11 .3-5.7 .3 3.8 .3-3.1 .3-1.3 .3 1.2 .3 6.8 .3-2.8 .3-5.1 .3 1.3 .3 2.2 .3-1.6 .3-1.4 .3-.9 .3-2.5 .3 4.6 .3 .7 .3 2.8 .3-7.4 .3 2.9 .3-2 .3 3.1 .3-4.1 .3-2.1 .3-3.6 .3 5.2 .3-2.7 .3 1.3 .3-5.7 .3 6.7 .3-10.1 .3 1.7 .3-1.7 .3 .3 .3-4.7 .3-3.3 .3-1.5 .3 3.6 .3-2.9 .3-.3 .3-3.7 .3 2 .3-.1 .3 1 .3-5.1 .3 2.4 .3 7.4 .3-4.4 .3 2.1 .3 .7 .3-1.2 .3 2.8 .3 5.5 .3-1 .3 8.7 .3-7.5 .3 .4 .3 5.4 .3-.9 .3 7.7 .3-4 .3 2.9 .3-4.7 .3 5.7 .3 .3 .3 1.9 .3-2.4 .3 1.1 .3-.6 .3 2.2 .3-3.2 .3 2.8 .3-2.7 .3 3.6 .3-2.3 .3-.7 .3 .1 .3 5.8 .3-7.7 .3 .4 .3 5.7 .3-4.1 .3 1.6 .3 .1 .3 7.3 .3-7.5 .3 0 .3 .9 .3 1.8 .3 .7 .3-5 .3 5.1 .3 3.9 .3-9.6 .3 6.1 .3 .6 .3-1.6 .3-.9 .3-5.6 .3 9.2 .3-4 .3 .3 .3 3.7 .3-9.3 .3 5.9 .3 1.6 .3 .3 .3-.3 .3 3.6 .3-4.6 .3 1.9 .3-.8 .3-5.9 .3 1.8 .3 7.3 .3-6.2 .3 .5 .3-3.4 .3 2.5 .3-2.6 .3 1.7 .3 2.9 .3-3.7 .3 .5 .3 4.9 .3-2.3 .3 0 .3 1.1 .3-4.1 .3 .3 .3-4.4 .3 7.1 .3-2.5 .3 .4 .3-3 .3 4.4 .3-.1 .3-1.3 .3-4.7 .3 1.8 .3 2 .3-2.2 .3 3.1 .3 1.5 .3-4.7 .3 1.4 .3-1.4 .3 4.4 .3-.5 .3 4.4 .3-6.9 .3-2.5 .3 3.4 .3-1.7 .3 1 .3 2.7 .3-4.1 .3 2.6 .3-7.5 .3 8.2 .3-2.4 .3-1 .3-.8 .3 5 .3-5 .3 4.6 .3-4.7 .3 1.4 .3 .8 .3 4.4 .3-4.6 .3-.1 .3-.7 .3-.7 .3-.7 .3 6.2 .3-.8 .3-5.6 .3 2.2 .3-3.5 .3 5.5 .3-.6 .3-1.5 .3-2.4 .3 4.1 .3-.4 .3-2.1 .3 2.4 .3-5.4 .3 2 .3-.9 .3 2.8 .3 4 .3-4.2 .3 2.8 .3-3 .3-1 .3 3.8 .3-1.3 .3 2.3 .3-1.1 .3-4.6 .3-4.5 .3 6.9 .3-3.4 .3-.5 .3-.2 .3 2.2 .3 1.1 .3 .6 .3 5.3 .3-8.4 .3 3.1 .3-3.2 .3 .7 .3 2.7 .3 1 .3-4.4 .3 6.3 .3-5.4 .3 5 .3-2.7 .3 2.6 .3-.9 .3-2.2 .3 2 .3-4.7 .3 .1 .3 2.5 .3 4.5 .3-5.5 .3 .4 .3 5.9 .3-4.2 .3-.1 .3-2.7 .3 2.9 .3 1.4 .3-1.6 .3 2.1 .3-1.1 .3 1.9 .3-.5 .3-2.5 .3 2.6 .3 2.5 .3-3.9 .3-3.9 .3 3.6 .3-.9 .3 7.2 .3-4.7 .3-4.8 .3 2.4 .3 4.3 .3-6.8 .3 1.7 .3 1.3 .3-.3 .3-1.2 .3 1.9 .3-3.9 .3 2.1 .3 0 .3 .8 .3 .1 .3 .8 .3-.9 .3-.2 .3 2.1 .3 1.4 .3 .2 .3-5.4 .3 3.7 .3 1.3 .3-2.6 .3 2 .3-1.8 .3 1.6 .3-4.9 .3 5.3 .3-2.4 .3-.6 .3 1.1 .3 3.4 .3 0 .3-1.8 .3 1.7 .3-3.3 .3-2.1 .3-1.5 .3 4.8 .3-.2 .3 .5 .3 .1 .3 3.1 .3-5.5 .3 .4 .3 7.1 .3-2.9 .3-2.8 .3-4.4 .3 3.1 .3 1.4 .3 .7 .3 .8 .3-1 .3 3.6 .3-6 .3 2.4 .3-1 .3 3.9 .3-1.5 .3 1.6 .3-1.8 .3 6.7 .3-4.9 .3-3.8 .3 2 .3-.9 .3 3 .3 .6 .3-1.4 .3-1.5 .3-1.2 .3 6 .3-1.2 .3-9.6 .3 6.9 .3-2.3 .3 1.3 .3 5.4 .3-7.3 .3 .2 .3 9.2 .3-7.6 .3 .6 .3 3.7 .3-4.3 .3 1.4 .3 .6 .3 3.1 .3-7.9 .3 2.1 .3 1.8 .3 2.7 .3-4 .3 2.9 .3-2.5 .3 .3 .3 4.3 .3-3.9 .3 7.4 .3-5.9 .3 2 .3-1 .3-6 .3 0 .3 5.3 .3-4.2 .3 1.4 .3 .5 .3-1.5 .3 5.4 .3-1.1 .3-1.6 .3 1 .3-3.9 .3 4.6 .3-4.5 .3 6.2 .3-5.8 .3 .2 .3 4.4 .3-1.4 .3-4.2 .3 4 .3-1.7 .3 0 .3 1.5 .3-.1 .3 1 .3-1.5 .3-.4 .3-1.2 .3 4.1 .3-6 .3 6.9 .3 .6 .3-.1 .3-6.1 .3 5.8 .3-2.6 .3-.3 .3 3.9 .3-6.3 .3 .9 .3-4.9 .3-2.6 .3 6.4 .3 .3 .3 .6 .3-1.1 .3-6.1 .3 6.1 .3 1.9 .3 1 .3-6.6 .3 0 .3 .4 .3 .1 .3-2.7 .3 2.4 .3 5.8 .3-7 .3-2.2 .3 4 .3-.6 .3 2.9 .3-3.8 .3 1.4 .3-1.8 .3-.4 .3 3.4 .3-.8 .3-.5 .3 1.4 .3-3.6 .3 2.1 .3 .4 .3 2.4 .3-8.1 .3 4 .3 2 .3-2.8 .3 1.6 .3 1.5 .3-.6 .3-5.8 .3 1.2 .3-3.6 .3 8.3 .3-1.2 .3 2.9 .3-3.5 .3-3.2 .3 5.7 .3-6.3 .3 3.4 .3-.6 .3 2.5 .3 .3 .3-3.5 .3-.9 .3 1.7 .3-1.4 .3 3.9 .3-1.5 .3 2.6 .3 3.1 .3-9.1 .3 .6 .3 2.8 .3-.2 .3-2 .3-3.6 .3 11.1 .3-6.5 .3-3.3 .3-3.2 .3 9.9 .3-2.8 .3-.9 .3-2.7 .3 2.4 .3-.7 .3-5.5 .3 13.3 .3-5.7 .3-2 .3-1.6 .3 .9 .3 8 .3-5.3 .3-4.6 .3 5.9 .3-1 .3 .1 .3-1.7 .3-.1 .3 1 .3-1.1 .3-3.1 .3 1.1 .3 2.7 .3-4.2 .3 3.9 .3-.5 .3 2.8 .3-1.5 .3-1.1 .3 0 .3 2 .3 1.3 .3-5.2 .3-1.2 .3 2.2 .3-4.1 .3 4 .3 4.3 .3 .5 .3 1.5 .3-3.8 .3 .3 .3-1.9 .3 .2 .3 2.2 .3 1.7 .3-1.2 .3-6.4 .3 6.7 .3-1.3 .3-1.5 .3 2 .3 2 .3-1.9 .3-2.2 .3 8.8 .3-8.4 .3 2.9 .3 2.2 .3-5.5 .3 3.7 .3-3.6 .3 1.6 .3-1.2 .3 6.7 .3-8.2 .3 5.1 .3-1.2 .3-5.3 .3 9.9 .3-6 .3 .9 .3 1.3 .3-2.9 .3 .4 .3 2 .3-2.1 .3 2.6 .3 3.2 .3-5.9 .3-1.5 .3 3.9 .3 1.5 .3 .7 .3-4.5 .3-3.2 .3 8.5 .3-.4 .3 2.2 .3-6.4 .3 4 .3 1.3 .3-7.4 .3 7.6 .3 1.1 .3-2.2 .3 0 .3 .6 .3-2.6 .3-3 .3 1.4 .3 2 .3-1.7 .3 5 .3-3.7 .3 .8 .3-4.2 .3 5.7 .3-2.8 .3 5.8 .3-8.4 .3 5.4 .3-1.8 .3 .1 .3 5.5 .3-1.9 .3-4.7 .3 5.9 .3-5.3 .3 3.9 .3-6.6 .3 3.7 .3 .2 .3-.1 .3-3.2 .3-.8 .3 4.9 .3 1.7 .3-1.5 .3-.9 .3-3 .3 3.3 .3-.8 .3-.4 .3 2.4 .3 0 .3 .6 .3-1.7 .3-1.4 .3 1.6 .3-.2 .3-3.5 .3 3.4 .3-3.4 .3-.8 .3 3 .3 .5 .3 3.4 .3-2.6 .3 2.2 .3 2.4 .3-3.5 .3 .7 .3-2.8 .3 4 .3-2 .3 0 .3-3.2 .3 .5 .3 .7 .3 2 .3 2.6 .3-6.8 .3 2.9 .3 .1 .3 6.7 .3-6.4 .3-.9 .3 3.3 .3-4.9 .3 4.3 .3-5.8 .3 9.6 .3-5.4 .3-1.1 .3-2.3 .3 3 .3 .5 .3-2.1 .3 4.9 .3-4 .3 1.1 .3 .5 .3 2.7 .3-4.6 .3 1.2 .3 .5 .3 .8 .3-6.4 .3 7.7 .3-3.4 .3-1.6 .3 1.8 .3-5 .3 3 .3 2.4 .3 3 .3-3.8 .3 1.2 .3-1.9 .3 3 .3-3.4 .3 2.2 .3-2.1 .3-1.7 .3-.1 .3 .8 .3 4.7 .3 3.7 .3-7.4 .3-1.5 .3 3.3 .3-.2 .3-2.7 .3 6.3 .3-2.7 .3 .1 .3-2.4 .3 .1 .3 2.2 .3-6.2 .3 1.4 .3 2.3 .3-4.1 .3 8 .3-5.9 .3 .4 .3 1.9 .3 3.1 .3-4.1 .3-2 .3-.5 .3 3 .3-2.2 .3 7.7 .3-3 .3-10.1 .3 4.3 .3 3.3 .3 5 .3-11.3 .3 4.1 .3 4.2 .3-5 .3 1.9 .3-1.5 .3 3 .3-4.7 .3 2.9 .3-3.9 .3 6.3 .3-1 .3-1.7 .3 .1 .3 0 .3-1.1 .3 1.3 .3 .5 .3-1.1 .3-1.4 .3 .4 .3-.2 .3 2.4 .3-.8 .3 4.7 .3-5.7 .3 .7 .3-1.9 .3 1.9 .3-1.5 .3-1.1 .3 2.7 .3 3.7 .3-6.4 .3 .5 .3 1.6 .3 .7 .3 2.7 .3-5.1 .3 1.4 .3-1.8 .3-.2 .3 1.1 .3-1.7 .3 4 .3 1.6 .3-4.1 .3-.5 .3 5.3 .3-4 .3 4.4 .3-10.5 .3 6.3 .3-2.2 .3 1.2 .3 3.5 .3 .8 .3-3.3 .3 2.9 .3-5.3 .3 3.7 .3-1.1 .3-4 .3 6.8 .3-4.1 .3 2.9 .3-3 .3 2.4 .3 1.2 .3-1.5 .3-1.2 .3 2.8 .3-1 .3-1.6 .3 1.3 .3-.3 .3-.6 .3 3.3 .3 2.2 .3-5.8 .3 1.1 .3-2.1 .3-1 .3 6.5 .3-4.6 .3 2.7 .3-4.4 .3 1.9 .3 3 .3 0 .3-.5 .3 .5 .3-.4 .3 2.1 .3 1.8 .3-2.9 .3-1.6 .3-2.4 .3 1.5 .3 .5 .3 4.6 .3-7.6 .3 2 .3-.6 .3 5 .3-4 .3-2.9 .3-.5 .3 6.2 .3-4.9 .3 7.1 .3 0 .3-5.6 .3 2.1 .3 1 .3-3.9 .3 .8 .3 1.6 .3 1.6 .3 .9 .3-5.5 .3 5.5 .3-.8 .3-.4 .3-.4 .3 3.9 .3 1.5 .3-5.2 .3 .8 .3-3.6 .3 3.2 .3 2.9 .3-2 .3 1.2 .3-1.1 .3 .6 .3 1.6 .3 .3 .3-7 .3 4.6 .3-6.1 .3 6.8 .3-1.4 .3 0 .3 5.6 .3-3 .3 2.1 .3-1.3 .3 2.8 .3-4.9 .3 0 .3 .5 .3 6.6 .3-7.4 .3 1.3 .3 3.5 .3-1.1 .3-3.7 .3 5.9 .3-3.2 .3 2.5 .3-2.1 .3 .5 .3-3.9 .3 5.6 .3-5.4 .3 2 .3 2.7 .3-3.7 .3 1.2 .3-.2 .3 .4 .3 1.2 .3-5.4 .3 2.5 .3 6.8 .3-10.5 .3 3.5 .3 3.7 .3-6.8 .3 2.6 .3 .1 .3 6.2 .3-6.3 .3 3.9 .3-3.3 .3 1.7 .3-2.9 .3-.9 .3 2.6 .3-2.3 .3 3.1 .3 .8 .3 .8 .3 2.9 .3-.3 .3-6.5 .3 .9 .3 6.4 .3-4.6 .3-.8 .3 3.8 .3-4.4 .3 4.1 .3-3.2 .3 4.1 .3-3.7 .3 2.5 .3 .7 .3 1.4 .3-6.2 .3 1.1 .3-2.7 .3-.8 .3 3.2 .3 1.7 .3 2.9 .3-4.4 .3 6.1 .3-4.5 .3 1.9 .3-3 .3-2.6 .3 7.4 .3-4.8 .3 3.6 .3-3.8 .3 2.5 .3-2 .3-.4 .3 .5 .3 2.2 .3-4.9 .3 .6 .3 5.1 .3-4.5 .3 2.4 .3-3.9 .3 2.9 .3 3.4 .3-2.6 .3 .3 .3-1.5 .3 1.3 .3-4.9 .3 .4 .3 5.3 .3-5.6 .3 8 .3-1.2 .3-5.4 .3-2.5 .3-.6 .3 7.1 .3-1 .3 3.7 .3-2.2 .3 2.8 .3-1.8 .3-4.7 .3 2 .3-1.7 .3 1.4 .3-.6 .3 .8 .3 4.1 .3-4.9 .3-1.7 .3 1.5 .3 .4 .3-.3 .3 1.1 .3-.7 .3 4.1 .3-.5 .3-4.4 .3 4.6 .3 1.1 .3-3.7 .3-2.2 .3 3.4 .3-1.4 .3 1.1 .3-3.6 .3 8.2 .3-5.9 .3 1.9 .3-2.9 .3 1.9 .3-6.3 .3 2.6 .3-3.1 .3 9 .3-6.1 .3-.5 .3 7 .3-4.2 .3 .9 .3 3.2 .3-1.5 .3-.5 .3 .9 .3-6.7 .3 8.4 .3 .1 .3 1.4 .3-10.3 .3 3.3 .3 .7 .3 5.9 .3-2.9 .3 3.1 .3-3.4 .3-2.8 .3-1.8 .3 1.9 .3 5.2 .3-5.9 .3-2.4 .3 5.4 .3 2.8 .3 2.8 .3-3.1 .3-.7 .3-7.2 .3 3.7 .3 0 .3 1.3 .3-2.8 .3 4.5 .3 1.2 .3-3 .3-1 .3 1.3 .3 .4 .3 1.1"/>
<path d="M157 669.2l.3-2.3 .3 .4 .3-6.5 .3 13.6 .3-2.1 .3-4.7 .3 3.5 .3-1.5 .3-2.6 .3 5.1 .3-4 .3 .1 .3-1.3 .3 4.2 .3-1.5 .3 2.3 .3-3.5 .3 2.7 .3-3 .3 5.8 .3-1.7 .3 .7 .3 .6 .3-4.2 .3 6.1 .3 4.4 .3-11.5 .3 .1 .3 1 .3 7.9 .3-2 .3 3.4 .3-.8 .3-1.4 .3 .6 .3-1.2 .3 3.6 .3-6.2 .3 2.5 .3 2.4 .3 5.2 .3-8.1 .3-.8 .3 1.8 .3 5 .3-3.8 .3 5 .3-10.2 .3 9.6 .3-.3 .3-7.9 .3 5 .3 3.4 .3-3.7 .3 2.9 .3 4.3 .3-6.7 .3-1.9 .3-1.6 .3 4.4 .3-2.8 .3 0 .3 .1 .3 2.3 .3-5.6 .3-1.6 .3-3 .3 11.4 .3-3.7 .3 4.4 .3-5 .3-2.5 .3 3.8 .3-2 .3-3.9 .3 1 .3 8.3 .3-4.7 .3 0 .3-2.4 .3-1.6 .3 4.9 .3-3.4 .3-2.3 .3 1.7 .3-2.8 .3 3.2 .3 2.5 .3-6.8 .3 6.7 .3-7.2 .3 2 .3-3.8 .3 1.3 .3 .2 .3-2.3 .3-1.5 .3-.7 .3-1.2 .3-3.1 .3 3.4 .3 1.4 .3 1 .3-1.6 .3 5.1 .3-7.4 .3-3.1 .3 6.8 .3-9.9 .3 5.8 .3-6.7 .3 3.6 .3-8.1 .3 8.6 .3-4.1 .3-3.2 .3 7.7 .3-3.7 .3-3.1 .3-3.4 .3 1.4 .3-1.4 .3 1.8 .3-.9 .3-6.1 .3-1.3 .3-1.7 .3-4.5 .3 .4 .3-.6 .3 .3 .3-.3 .3-9.1 .3 2.1 .3-5.4 .3 5.8 .3-9 .3-.3 .3-6.8 .3-1.8 .3 1.1 .3-4.1 .3 .1 .3-8.4 .3 4.8 .3-7.3 .3 6.1 .3-8.7 .3 2.2 .3-10.3 .3 3.6 .3-6.4 .3-1 .3-.6 .3-3.3 .3-.4 .3-.7 .3-2.5 .3-4.6 .3-6.4 .3-.4 .3-.3 .3-8.4 .3 6.9 .3-5.4 .3-2.2 .3 1.6 .3-3.1 .3-3.6 .3-6 .3 2.1 .3-2 .3-6.1 .3 4 .3-3.9 .3-10.2 .3 4.4 .3-6.8 .3 5.2 .3-3.6 .3-8.9 .3-2.6 .3-.3 .3-4.7 .3 1.9 .3-6 .3-6.6 .3-.3 .3-10.9 .3 5.6 .3 .5 .3-4.4 .3-2.7 .3 3.1 .3 3.6 .3-6.4 .3-4.9 .3 7.7 .3-11.1 .3 7.4 .3-3.6 .3 4.8 .3-5.3 .3 7.5 .3-2.5 .3-5.4 .3 .4 .3 6.6 .3 6.5 .3-2.2 .3 1.4 .3 .6 .3 5 .3 1.3 .3 2.5 .3-.9 .3 10.3 .3 4.2 .3-4.8 .3 15.2 .3-1.3 .3-.3 .3-1.2 .3 11.5 .3 2.9 .3-.4 .3-.6 .3 12.6 .3-2.1 .3 3.8 .3 13.3 .3 2.2 .3 0 .3-.6 .3 8 .3-4.7 .3 12.4 .3 1.9 .3 2.8 .3 3.1 .3 10.2 .3 1.8 .3 3.4 .3 5.2 .3-2.5 .3 1.6 .3 .8 .3 7.1 .3 5.7 .3-.9 .3 4.3 .3-4.2 .3 3.8 .3 .4 .3-.1 .3 11.2 .3-2 .3-4 .3 1.2 .3 3.3 .3-3.4 .3 7 .3-4.6 .3 3.9 .3-1.2 .3 2.6 .3-1.9 .3 0 .3 2.7 .3 1.7 .3 2 .3 1.8 .3 5.4 .3-1.6 .3-2.7 .3 3.7 .3-3.8 .3 7.4 .3-2.3 .3-5.5 .3 7.3 .3 .8 .3-10.4 .3 6.5 .3 1.4 .3-4.2 .3 3.3 .3 .8 .3 5.1 .3-.2 .3 7.8 .3-9 .3 5.3 .3-3 .3 1.1 .3-4.1 .3-2 .3 4.1 .3 5.3 .3 3 .3-2.7 .3 0 .3-3.8 .3 7.9 .3-.2 .3-5.6 .3 1.9 .3-2.6 .3 8.2 .3-3 .3-1.3 .3 2 .3 .4 .3-2.4 .3-2.3 .3 .2 .3-1.1 .3 7.3 .3 5.9 .3-12.2 .3 6.2 .3 1.1 .3-4.1 .3 4 .3-3.8 .3 7.5 .3-5.4 .3 2.5 .3 2.1 .3-3.3 .3-4.1 .3 4.3 .3 4.4 .3-2.4 .3 1.3 .3-3.9 .3 4.1 .3 2.2 .3-2 .3 6.3 .3-6.5 .3-2.4 .3-1.6 .3 9.1 .3-3.6 .3 3.7 .3-1.6 .3 4 .3-.9 .3-5 .3 2.2 .3 2.8 .3-7.1 .3 8.7 .3-.6 .3-.5 .3-3.6 .3 1.7 .3-4.4 .3 3.9 .3-1.9 .3 2.2 .3-1.7 .3 2.5 .3 2.9 .3-7.8 .3 7.1 .3-9.2 .3-.6 .3 6.5 .3 .4 .3 1.4 .3-6.6 .3 5 .3 .6 .3 3.6 .3-4.3 .3 2 .3-4.8 .3 2.5 .3-.8 .3 3.6 .3-5.3 .3 .4 .3 4.5 .3 3.9 .3-4.5 .3-.2 .3-2.1 .3 4.6 .3-1.8 .3 3.8 .3-4.4 .3-4.1 .3 1.2 .3-1.3 .3-.9 .3 8 .3-1.4 .3-6.5 .3 9.6 .3-4.9 .3-3.8 .3 4.2 .3-1.4 .3-2.3 .3-3.7 .3 6.3 .3 .8 .3-9.1 .3 10 .3 .2 .3-3.5 .3 1.9 .3-1.3 .3-1.8 .3 1.6 .3 5.4 .3-8.9 .3 5.4 .3-.2 .3-2.8 .3 .8 .3-3 .3 1.7 .3 2.7 .3 1 .3-3.9 .3 11.2 .3-10.1 .3 2.2 .3-1.1 .3-.6 .3 5.4 .3-5.6 .3 5.7 .3-.6 .3-6.9 .3 6.6 .3-5.4 .3 10.4 .3-9.5 .3-1.8 .3-3.1 .3 2 .3 2.3 .3-1.4 .3-.7 .3 1.7 .3 1.5 .3 5.3 .3-10 .3 3.6 .3-1.2 .3-1.8 .3 .8 .3 1.1 .3 5.2 .3-2.9 .3-1.1 .3 3.6 .3-1 .3-1.6 .3 1.9 .3-3.8 .3 4.6 .3-.5 .3-2.8 .3-2.6 .3 8.7 .3-4.5 .3 8 .3-10.4 .3 4.8 .3-4.1 .3 2.2 .3 1.8 .3-5.1 .3 2.2 .3 .8 .3-.1 .3 1.5 .3 1.4 .3-.7 .3-1.8 .3-1.9 .3-2.5 .3 1.3 .3 .6 .3 3.9 .3-3.4 .3-2.7 .3 5.9 .3-4.5 .3 .1 .3 1.7 .3 2.2 .3-9.2 .3 4.1 .3 4.2 .3-1.8 .3-1.5 .3 1 .3 6.1 .3-5.8 .3 3.7 .3 .2 .3-3.9 .3 2.8 .3-2.8 .3-.5 .3-1.7 .3 6.4 .3-4 .3-.4 .3-1.8 .3 9.4 .3-3.2 .3-2.7 .3-1.6 .3-2.5 .3 6 .3 .2 .3-5.2 .3 8.3 .3-1 .3-5.3 .3 1.6 .3 .6 .3 2.1 .3-.7 .3-4.5 .3 10.1 .3-3.4 .3 3.2 .3 .2 .3-4.4 .3 2 .3 1.5 .3 .3 .3-2.8 .3-1.2 .3 2.3 .3-2.5 .3 .9 .3-4.5 .3 6.8 .3-3.4 .3 1.6 .3 1.8 .3 1.2 .3 5.1 .3-5.2 .3-5 .3 5 .3-2.1 .3 3.2 .3-3.3 .3 .1 .3 .7 .3-.2 .3-3.7 .3 3.8 .3 2.1 .3 4 .3-4.6 .3-.1 .3 3.1 .3 0 .3 3.4 .3-3.1 .3-1.8 .3 4.4 .3 .7 .3-6.3 .3 2.1 .3-5.7 .3 4.3 .3-1.6 .3 2.2 .3-.8 .3 1.1 .3 .3 .3 1.9 .3-.8 .3-2.4 .3-2.3 .3 8.1 .3 .6 .3-5.9 .3 3.3 .3-6.6 .3-.1 .3 4.1 .3 5.5 .3-7.9 .3 .7 .3 7.6 .3-11.3 .3 7.6 .3-1.1 .3-3 .3 .4 .3 6.6 .3-12.9 .3 1.5 .3-.9 .3-2.6 .3-3.5 .3 7.3 .3-6.7 .3-8.9 .3 .6 .3 .7 .3-2.8 .3-8.3 .3 2.1 .3-.6 .3-.7 .3-.4 .3-6.5 .3 12.9 .3-3.1 .3 7.6 .3 5.5 .3-5.5 .3 0 .3 10 .3-.1 .3 2 .3 .7 .3 10.5 .3-5.6 .3-2.3 .3 3.7 .3-1.5 .3 4.8 .3-1.2 .3-1.5 .3 5.8 .3-3.5 .3 4.7 .3 2.1 .3-4.9 .3-.7 .3 2.9 .3 2.2 .3-2.8 .3 .3 .3-.7 .3 .7 .3 .6 .3-4.7 .3 .2 .3 1.1 .3-2.9 .3 1.8 .3 .6 .3-2.6 .3-2.6 .3-1.3 .3 7.1 .3-3.5 .3-7.2 .3 .1 .3 7.8 .3-1.9 .3-5.1 .3 2.6 .3-9 .3 4.1 .3 1.8 .3-8.7 .3 2.9 .3 4.5 .3 .5 .3-5.9 .3 2.2 .3 3.6 .3-6.8 .3-3.5 .3 3.5 .3-1.6 .3 4.8 .3-4.1 .3-3.5 .3 9.6 .3-9.6 .3 2.7 .3 .2 .3 0 .3-2.3 .3 .9 .3-2.3 .3-4.6 .3 3.6 .3-.1 .3-.1 .3 .9 .3-2.5 .3 6.2 .3 .8 .3-11.8 .3 7.2 .3-2.1 .3-5.7 .3 9.9 .3-2.9 .3 1.2 .3-.5 .3 6 .3 .9 .3-2.5 .3 1.8 .3-2.1 .3 1.3 .3-2.2 .3 2.9 .3-1.9 .3 3.9 .3 1.9 .3-1.2 .3 3.1 .3 4.8 .3-14.5 .3 6.9 .3-1.6 .3 .6 .3-2.6 .3 4.7 .3-.8 .3-1 .3 1.4 .3-.8 .3-5.4 .3 11 .3-4.1 .3-1.9 .3 4.2 .3-2.9 .3-4.6 .3 9.8 .3-7.9 .3 4.8 .3 1.2 .3 4 .3-.3 .3-3.1 .3-2.8 .3 1.3 .3 4.9 .3 2.4 .3-3.8 .3-3.6 .3 5.4 .3-4.2 .3 0 .3 .6 .3 2.9 .3-.8 .3 2.4 .3 1.1 .3-2.3 .3-8.8 .3 2.2 .3 6 .3-.5 .3 7.2 .3-6.7 .3-.2 .3 3.7 .3 .5 .3-3.9 .3 2.5 .3-4.9 .3 .8 .3 7.1 .3-8.2 .3 7.6 .3-.6 .3 .5 .3 .6 .3-.9 .3-8.3 .3 3.7 .3 1.5 .3 4.9 .3-6.3 .3 1.5 .3 1.2 .3 5.5 .3-8.6 .3 .4 .3 6.4 .3-8.6 .3 7.9 .3-2.4 .3-3.5 .3 3.7 .3-1.8 .3 3.8 .3 .6 .3 3.6 .3-4.7 .3 .3 .3-2.1 .3 1.7 .3 3.4 .3-9.5 .3 8.2 .3-3.8 .3 1.9 .3 .7 .3 1.6 .3-2 .3-2 .3 2.1 .3-1 .3-.7 .3 1.2 .3 2 .3-2.4 .3 0 .3-4.6 .3 3.5 .3-5.5 .3 8 .3-5.3 .3 6.9 .3 4.1 .3-9.6 .3 5.4 .3-3.1 .3-3.1 .3-1 .3 4.3 .3 2.6 .3-3.4 .3-6 .3 1.4 .3 2.5 .3 4.9 .3-3.5 .3 0 .3 2.7 .3-4.6 .3 .3 .3-.4 .3-5.1 .3 7 .3-.2 .3 1.7 .3-6.9 .3 1.1 .3 5.4 .3-2 .3 3.3 .3-7.1 .3 3.3 .3-2.8 .3 3 .3-2.5 .3 3.2 .3 1.7 .3-1.3 .3-7.9 .3 8.7 .3-1.6 .3-4.7 .3 .5 .3 2.8 .3 1.8 .3-3.2 .3-3.7 .3 6 .3-.3 .3 7.2 .3-11.8 .3 12.1 .3-2.5 .3-4.5 .3 4.3 .3-4.9 .3 2.8 .3-5.4 .3 2.6 .3-3.4 .3-1.7 .3 4.1 .3-1.2 .3 3.9 .3 2.2 .3-4.5 .3 .8 .3 .4 .3-5.9 .3 6.2 .3-.8 .3-.2 .3-3.3 .3-2.7 .3 5.4 .3 1.8 .3 3.3 .3-.7 .3 1.1 .3-3.4 .3 2.4 .3-4.3 .3 2.7 .3 .9 .3 5.2 .3-7.5 .3-4.8 .3 8.2 .3-7 .3 2.1 .3-.9 .3-2.2 .3 6.9 .3-2.6 .3-4.1 .3 1.9 .3-1.9 .3 3 .3-3.4 .3-1.6 .3 .1 .3 .3 .3 2 .3-4.2 .3 2.3 .3 1.3 .3 5.7 .3-5 .3-11.2 .3 6.2 .3 .1 .3 1.9 .3 3.7 .3-2.9 .3-9.8 .3 7.9 .3-.8 .3 .7 .3 2.8 .3-7.9 .3 6.8 .3-8.8 .3 5.3 .3 .9 .3 6 .3-9.4 .3-3.1 .3 7.5 .3-4.3 .3 7 .3-7.1 .3-.5 .3 6.7 .3-3.7 .3 2.9 .3-7.6 .3 9.7 .3-7 .3 4.5 .3-5.8 .3-1.6 .3 4.1 .3 1.4 .3 4.4 .3-3.8 .3 1.2 .3-.2 .3 6.2 .3-10.7 .3 6.5 .3-4.3 .3 1.3 .3-2.5 .3 5.4 .3-7.5 .3-.2 .3 3.6 .3-3 .3 5.9 .3 .8 .3-5.2 .3 4.9 .3-4.5 .3 2 .3 .2 .3 6 .3-5.9 .3-2.8 .3 .1 .3 6.7 .3-9 .3 3.9 .3 .3 .3-6.4 .3 6.3 .3 4.7 .3-2.4 .3-3.4 .3 5.1 .3-.4 .3 4.9 .3-8.5 .3 1.3 .3 1.6 .3-.4 .3 .9 .3-.3 .3-1.6 .3-2.7 .3 3.6 .3-2.4 .3 1.3 .3 1.9 .3 3.5 .3 1.4 .3-5.7 .3 4.4 .3 1.8 .3-2.5 .3-4.8 .3-1.4 .3 9.5 .3 .5 .3-1.8 .3-4 .3 8 .3-.7 .3-3.9 .3-.4 .3-5.5 .3 8.6 .3-7.5 .3 7.2 .3 .2 .3-2 .3 4.6 .3-6 .3 2.8 .3 .6 .3-1.7 .3-2.2 .3 5.1 .3-2.6 .3-2 .3 0 .3 .9 .3 6.7 .3-7 .3-1.1 .3-2.7 .3-.6 .3-2.3 .3 6.6 .3-.7 .3-3.5 .3-1.5 .3 3.5 .3-.7 .3-2.7 .3 5 .3-.6 .3-.8 .3 2.5 .3-4.7 .3 6.2 .3-7.6 .3 4.7 .3 .2 .3-3 .3 1.8 .3-5.3 .3-.8 .3 3.9 .3-1.8 .3 4 .3-1.9 .3 1.7 .3-1.1 .3-.5 .3-.5 .3-1.6 .3-.5 .3 7.7 .3-12 .3 4.7 .3 3.6 .3-2 .3 2.9 .3-2.9 .3-5.9 .3 2.8 .3-3.6 .3 7.3 .3 1.2 .3-6.1 .3 2.8 .3-3.2 .3-3.4 .3 2.8 .3-3.8 .3 3 .3 2.2 .3 1.4 .3 1.5 .3-5.4 .3 1.5 .3 .4 .3 .1 .3-10 .3 5.3 .3 4.6 .3-6.3 .3 4 .3 1.6 .3-8.9 .3 5.1 .3 1 .3-1 .3-5.2 .3 5.6 .3-3.1 .3 4 .3-1.6 .3-3.4 .3 2 .3-3.1 .3-.3 .3-3.1 .3 3.8 .3 3 .3-2.5 .3-.8 .3-2.3 .3 0 .3 3.6 .3-7.4 .3 10.8 .3-7 .3 6.6 .3-3.5 .3-5.4 .3 3.2 .3-1.9 .3 .2 .3 .6 .3-4.6 .3-.7 .3 .2 .3-3.4 .3 3 .3 1 .3-.4 .3-.7 .3-2.3 .3 3.2 .3-9.5 .3 4.7 .3-.4 .3 3.3 .3-1.3 .3-.2 .3-3.1 .3 2.3 .3-6.8 .3 2.7 .3-7.5 .3 11.3 .3-1.2 .3-7.8 .3-1.9 .3-5.1 .3 .4 .3 3.8 .3-2.3 .3-5.7 .3 1.5 .3-2 .3 2 .3-.7 .3-4.4 .3-.3 .3-1.6 .3-7.6 .3 6.1 .3-1.6 .3 1.9 .3-8.5 .3 8 .3-4.4 .3 2.9 .3 3.1 .3-8.1 .3 .8 .3 7.6 .3-6.3 .3 1 .3 5.4 .3-2.1 .3 3.6 .3-1 .3-.5 .3 3.6 .3 4.2 .3-6.8 .3 5.3 .3-.7 .3-3 .3 1.3 .3-4.3 .3 1 .3 2.7 .3-1.3 .3 3.8 .3-8.7 .3 2.4 .3-1.9 .3 .7 .3 3.1 .3-8.5 .3 5.3 .3-5.7 .3-.5 .3 2.9 .3-5.4 .3 1.7 .3-3.1 .3-2.3 .3-1.9 .3-5.7 .3 1.4 .3 1.2 .3-1.8 .3-7.3 .3 5.8 .3-3.6 .3-8.1 .3-1.6 .3 2.4 .3-9.6 .3 .6 .3-.5 .3-2.9 .3-2.5 .3-1.5 .3-6.8 .3-2.2 .3 4.6 .3-14.3 .3-.7 .3-2.1 .3-6.4 .3 1.6 .3-8.2 .3-2.9 .3-15.8 .3 5.4 .3-6.5 .3-12.7 .3-.3 .3-10.1 .3-5.8 .3-5.8 .3-14.2 .3-12.1 .3-4.6 .3-10.3 .3-3.1 .3-4 .3-3.6 .3 2.5 .3-3.6 .3-7 .3 6.1 .3-7.8 .3 5.2 .3 4.5 .3 7.7 .3 2.7 .3 3.7 .3 7.5 .3 3 .3 8.1 .3 1.2 .3 6.5 .3 14 .3 14.1 .3 7.8 .3 10.6 .3 6.7 .3 6.5 .3 7.9 .3 1.9 .3 12.2 .3-.4 .3 8.8 .3 1.5 .3 11.2 .3-1.6 .3 13.6 .3-4.6 .3 8.9 .3 2.5 .3 1.3 .3 10.1 .3-1.9 .3 9 .3-4.8 .3 3.6 .3-1.1 .3 10.5 .3 3.5 .3 .1 .3 .8 .3-.4 .3 12.1 .3-3.1 .3-6.3 .3 6.5 .3-5.2 .3 14.5 .3 2.8 .3-.1 .3-3.3 .3-.3 .3-1.3 .3 7.3 .3-2.9 .3 2.2 .3 .1 .3 1.9 .3 4.5 .3 3.2 .3-4.1 .3 .2 .3-2.9 .3 .3 .3 1.1 .3 6.7 .3-1.4 .3 2.8 .3-1.1 .3-2.1 .3-2.1 .3 3.2 .3-2.9 .3 11.2 .3-5 .3-1.6 .3 7.9 .3-7.1 .3 3.3 .3-2 .3 2 .3-2 .3 3 .3 3.2 .3-8.2 .3-2.8 .3 11.4 .3-3.6 .3 2.4 .3-3.5 .3 6 .3 1 .3-9.2 .3 5.9 .3-3.9 .3-3 .3 4.3 .3 2.9 .3-6 .3 .4 .3 8.1 .3-3.7 .3 1.3 .3-4.7 .3 1.6 .3 2.6 .3 .3 .3 0 .3 4.6 .3-4.4 .3-5.2 .3 2.1 .3 2.7 .3 4.3 .3-6.1 .3 1 .3 1.2 .3-2.1 .3-.3 .3 1.9 .3 3.9 .3-1.5 .3-2.4 .3 2.2 .3-5.3 .3 7.2 .3-.8 .3-1.4 .3-6 .3 11.5 .3-14.1 .3 4.5 .3 .2 .3 5.1 .3-7 .3 5.4 .3-1.3 .3-.6 .3 3.5 .3 1.7 .3-3.4 .3-2.3 .3-6.4 .3 11.6 .3-5.8 .3-5 .3 6.1 .3 3.9 .3-5.3 .3-3.4 .3 10.5 .3-5.4 .3-1.1 .3 1.9 .3-10.3 .3 6.4 .3-.6 .3 7.4 .3-9.2 .3-.2 .3-2.9 .3 1.5 .3 1.7 .3 1.2 .3-1.7 .3 6.7 .3-5.1 .3 .2 .3 2 .3-2.5 .3-3.9 .3-3.5 .3 5.7 .3-4 .3 6.5 .3-6.9 .3-5 .3 6.8 .3 2.9 .3-4.4 .3 .8 .3-.5 .3 4.5 .3-4.9 .3-1.5 .3-2.3 .3-3.7 .3 9.3 .3-1.3 .3-7 .3 4.6 .3-1.3 .3-2.6 .3-.1 .3 3.1 .3-6.4 .3 1.9 .3 1.2 .3 .1 .3-.7 .3 1.3 .3 1 .3-4.5 .3 3.1 .3-2 .3 6.5 .3-9.3 .3 3.7 .3 3 .3-3.1 .3-.2 .3-.6 .3 2.7 .3-4.7 .3 3.4 .3 0 .3-4.3 .3 5.7 .3-2.1 .3 2.8 .3 2.1 .3-1.1 .3-4.3 .3 5.4 .3-5.5 .3 3.4 .3 8.4 .3-4.4 .3 5.7 .3-4.7 .3 1.5 .3-2.7 .3 7.3 .3-2.7 .3 3.4 .3 .3 .3 1.1 .3 .1 .3-.4 .3 .8 .3-1.5 .3-3.9 .3 8.8 .3 5.5 .3-2.7 .3 4.3 .3-5.4 .3-4.1 .3 .3 .3 5.9 .3-.8 .3-1.2 .3 3.3 .3-4.7 .3 4.8 .3-2.1 .3 1.7 .3 3.6 .3-3.8 .3 5.1 .3 .2 .3-6.3 .3 10 .3-10.9 .3 3.8 .3 2.9 .3-9.3 .3 10.6 .3 .5 .3-3.9 .3 1.3 .3-.1 .3-1.3 .3 4 .3-4.5 .3 1 .3 1.3 .3 1.5 .3 .8 .3-8.1 .3-1.8 .3 6 .3 .3 .3-3.3 .3 4.4 .3 1 .3-.8 .3 4 .3-8.4 .3 3.3 .3 6 .3-3.9 .3-5.7 .3 4.2 .3 3 .3 2.9 .3-4.5 .3 1.6 .3-7.2 .3 2.7 .3 4.6 .3-6.8 .3 2.8 .3-5.7 .3 10.6 .3-5.1 .3 2.2 .3-6.5 .3 .5 .3 9.7 .3-7.2 .3-1.2 .3 2.5 .3-.7 .3-9 .3 1.9 .3 2 .3-1.5 .3-.3 .3-3.9 .3-1 .3 .1 .3-4.3 .3-1.9 .3-.4 .3 .5 .3-1.7 .3-2.4 .3-.8 .3-1 .3-.5 .3-1.6 .3-6.8 .3 5.5 .3-9.6 .3 5.4 .3-5.1 .3 3.1 .3 .8 .3-9.7 .3 7.8 .3-.5 .3-1.2 .3 4.2 .3-.8 .3 4 .3-1.4 .3 8.1 .3 1.5 .3 2.5 .3-2.8 .3 9.2 .3 1.8 .3-5 .3 .3 .3 1.5 .3 4.8 .3 2.4 .3-4.3 .3-2.9 .3 8.8 .3-.7 .3 1.4 .3 1.5 .3-4.8 .3 3.7 .3-1.1 .3 2.1 .3 2.7 .3-3.9 .3-2.7 .3 6.6 .3-1.7 .3-2.9 .3-5 .3 2.9 .3 3.1 .3 1.3 .3-3.4 .3 3 .3-3.4 .3 .6 .3 3 .3-2.6 .3 1.3 .3 2.2 .3 .8 .3-5.4 .3 1 .3-3.4 .3 0 .3 4.9 .3-2.6 .3-4.2 .3 7.4 .3-4.3 .3 1.6 .3 2.2 .3-.1 .3-1.5 .3-6.1 .3 7.9 .3-3.7 .3-2.6 .3-2.6 .3 11 .3-3.8 .3-.1 .3 1.5 .3-2.3 .3-4.4 .3 6.6 .3 1 .3-1.6 .3 3.1 .3 1 .3-8.5 .3 .9 .3 3.9 .3-2.5 .3-.2 .3 1.8 .3-1 .3-4.1 .3 1.2 .3-3.1 .3 1.1 .3-3.5 .3-3.2 .3 3.9 .3-.9 .3 4 .3 1.4 .3-5.4 .3 .7 .3-4.1 .3-1.6 .3 1.4 .3-.7 .3 1.2 .3-1.1 .3 4.2 .3-6.4 .3-5 .3 5 .3-2.9 .3 2.2 .3 2.5 .3-5.8 .3 1.4 .3 1.6 .3-4.7 .3 3.4 .3 .9 .3 .8 .3 1 .3-1.6 .3-.3 .3-5.3 .3-3.4 .3 5.4 .3 7.8 .3-3.6 .3-6.8 .3 6.2 .3 3 .3-6.3 .3 8.2 .3-4.7 .3 7.4 .3-2.5 .3 8.7 .3-11.6 .3 5.6 .3-4.9 .3 8.8 .3-2.6 .3 3 .3-2.1 .3-3.4 .3 2 .3-1.5 .3 .9 .3 4 .3 3 .3-.5 .3-1 .3-3.4 .3 3.3 .3-4.3 .3 3.2 .3 1.8 .3-3.3 .3-1.1 .3-.1 .3 3.1 .3-3.1 .3-3.7 .3 2.8 .3-2.3 .3 7.7 .3-4.9 .3-4.9 .3 5 .3 1.1 .3-1.4 .3-2.6 .3 1.2 .3 .1 .3 1.9 .3-2.3 .3 5.5 .3-8 .3 5.1 .3-5 .3-5.6 .3 1.3 .3-2.3 .3 .1 .3 8.8 .3-6 .3 3.7 .3-4.8 .3 2.5 .3-3.3 .3 5.8 .3-3.6 .3-.7 .3 .9 .3 7.2 .3-5.1 .3 1.6 .3-5.9 .3 2.6 .3 3.8 .3-5.7 .3 10.9 .3-2.1 .3 .4 .3 .6 .3 1.2 .3 .4 .3 7.1 .3-1 .3 2.7 .3-3.7 .3-.9 .3 7.6 .3-7.3 .3 2.2 .3 4.3 .3 1.1 .3-7.3 .3 3.1 .3 .9 .3-.5 .3-2.2 .3 4.6 .3-3.7 .3 .8 .3-6.1 .3 6.4 .3-5.6 .3 8 .3-.7 .3-3.1 .3 1.9 .3-.2 .3-.8 .3 1.4 .3-1.5 .3-1.2 .3-1 .3 7.4 .3-4.6 .3-.7 .3 2.2 .3-3.4 .3-.1 .3 3.1 .3 1.1 .3-1.2 .3-6.5 .3 4.5 .3-.2 .3 1.3 .3-4 .3-.6 .3 2.8 .3-2.3 .3-.6 .3 3 .3 3 .3-2.4 .3 2.9 .3-6.3 .3 5.1 .3-2.1 .3-2.6 .3 1.4 .3-1.3 .3 2 .3-1.6 .3 6 .3-4.7 .3-3.2 .3 3.7 .3 1.8 .3-2 .3 3.5 .3-5.1 .3 .2 .3 7.4 .3-4.7 .3 1.6 .3 0 .3 .3 .3-1.5 .3-.6 .3 3.8 .3-4.5 .3 1.8 .3 1.8 .3-3.1 .3-3.3 .3 6 .3 1.9 .3-2.3 .3-5.6 .3 6.9 .3 4 .3-10.2 .3-3 .3 7.2 .3 1.1 .3 2.3 .3 .4 .3-1.9 .3 1.5 .3-.3 .3-.3 .3-.3 .3 0 .3 2.7 .3-.6 .3-2.1 .3 4.6 .3-5 .3 1.6 .3 1.3 .3-5.7 .3 4.5 .3 3.7 .3 0 .3-5.7 .3 1.1 .3-.7 .3 2.4 .3 .5 .3-4.4 .3 5.5 .3-.7 .3-.5 .3-1.7 .3 1.4 .3-4.6 .3 5.7 .3-.1 .3-.9 .3-3.1 .3 7 .3-.5 .3-8.6 .3 6.5 .3-.8 .3-7.7 .3 8.7 .3 .3 .3 .2 .3-1.6 .3-2.4 .3 .3 .3 2.9 .3 1.8 .3-4.7 .3 .5 .3 2.7 .3-8.1 .3 7.3 .3-2 .3-5.6 .3 8.3 .3-4.8 .3 4.8 .3 1.6 .3-7.5 .3 .1 .3 3.3 .3-4.9 .3 6.9 .3-1.6 .3 2.2 .3-8 .3 5.7 .3 .6 .3-6.4 .3 7.5 .3-6.4 .3 4.3 .3-4.2 .3 5.8 .3 2.5 .3-4.7 .3-.1 .3 3.4 .3-4.9 .3 1.3 .3 2 .3-1.2 .3 3.2 .3-1.2 .3 1.9 .3-5.5 .3 3.1 .3-5.5 .3 4.7 .3 2.3 .3 1.6 .3-10.2 .3 2.9 .3 2.4 .3-4.6 .3 3.9 .3-.2 .3-2.9 .3-.3 .3-1.2 .3 3.3 .3 2.6 .3-2.9 .3 6.2 .3-11.3 .3 2.4 .3 3.3 .3-5.1 .3 4 .3 1.2 .3-1.9 .3-1.2 .3 3.1 .3-1.6 .3 .8 .3-.6 .3-3.5 .3-1.3 .3 1.9 .3 1.5 .3-1.2 .3 3.1 .3-2 .3 1.9 .3-2.4 .3-2.4 .3 4.2 .3-1 .3-3.8 .3 1.2 .3 8.1 .3-14.7 .3 10.6 .3-3 .3-.4 .3-.6 .3-.7 .3 7.9 .3-7.7 .3 .3 .3 3.1 .3-1.2 .3-1.5 .3-.3 .3-2.9 .3 6.6 .3-5.8 .3-3.8 .3 9.5 .3-.8 .3-1.1 .3-2.3 .3 4.7 .3-6.3 .3-3 .3 6.5 .3 1.8 .3-.5 .3 4 .3-3.4 .3-2.9 .3 .1 .3 3 .3-2.6 .3-.1 .3-4.5 .3 4 .3-2.6 .3 4.2 .3-.3 .3 1.7 .3 3 .3-5.2 .3 4.7 .3-6.8 .3 3.8 .3 2.5 .3 3.1 .3-7.9 .3 2.7 .3 1.5 .3-.2 .3-1.8 .3-1.4 .3 1.6 .3 3.6 .3-2.9 .3 8.9 .3-1 .3-8.1 .3 4.3 .3 5.4 .3 .7 .3-.6 .3-6.6 .3 3.2 .3 4.7 .3-3 .3-1.4 .3 2.8 .3 1.4 .3-2.1 .3 .4 .3 2.4 .3-4.3 .3-.8 .3 4.6 .3-5.2 .3 4.8 .3-3.2 .3 4.3 .3-5.3 .3 6.4 .3-2.2 .3-1.5 .3-1.4 .3 2 .3-1.9 .3-.7 .3 6.3 .3-1.2 .3 1.8 .3-6.9 .3-1.5 .3 1.1 .3 6.1 .3 .5 .3-7.1 .3 7.8 .3-3.8 .3-2 .3 3.1 .3 1.7 .3-2 .3 .2 .3-1.8 .3-1.5 .3 2.9 .3-3.3 .3 6 .3-3.9 .3 5.8 .3-7.7 .3 8 .3-6.1 .3 0 .3 3.2 .3 1.6 .3-2.5 .3-.9 .3 6.3 .3-4 .3-4.5 .3 2.5 .3 5.1 .3-3.6 .3 1.3 .3 3.2 .3-7 .3 2.5 .3-2.7 .3 1.7 .3 1.4 .3-5 .3 3.9 .3 0 .3 2.3 .3-4.4 .3-1.8 .3 4.4 .3-4.1 .3 3.4 .3 1 .3-3.8 .3 1.9 .3-2.5 .3-4.1 .3 2.9 .3-1.7 .3 5.5 .3-2.9 .3 2.4 .3 .2 .3 2.8 .3-3.7 .3-.2 .3 2.3 .3 2.8 .3-4.4 .3 1 .3-1.4 .3-1.4 .3-2.3 .3 3.8 .3-.6 .3 0 .3 5.8 .3-6.1 .3 1.6 .3-1.8 .3 3.9 .3-3.8 .3 5.5 .3-5.6 .3 2.7 .3 .5 .3-3.3 .3 2.8 .3-2.1 .3-2.2 .3 .1 .3 2.6 .3 3.7 .3-6 .3 2.7 .3-3.6 .3 2.7 .3-4.1 .3 1.3 .3 2 .3-2 .3 1.2 .3 3.3 .3-3.1 .3-1.6 .3-1.3 .3 1.7 .3 4.4 .3-3.3 .3-.2 .3 2.2 .3 .3 .3 .4 .3-3.6 .3-1.5 .3-2 .3 2.5 .3 .8 .3 2.9 .3-1.1 .3-2.4 .3 3.8 .3-5.6 .3 .5 .3-.4 .3 .2 .3 2.2 .3-1.6 .3 .2 .3 5.5 .3-7.3 .3 1.1 .3 2.1 .3 1.7 .3 .1 .3-1.9 .3-.3 .3 .3 .3 2.6 .3-4.3 .3-3.7 .3 6.6 .3-3.6 .3 2.9 .3 3.8 .3-3.4 .3 4.5 .3-8.9 .3 4.8 .3 .4 .3 1.1 .3-4 .3 2.3 .3-.1 .3-.1 .3-3.8 .3-.9 .3 5.9 .3-.5 .3-.8 .3 1.5 .3 1.2 .3-5.8 .3 5 .3 1.9 .3-1.2 .3-1.1 .3 .3 .3-5.6 .3 2.4 .3 4 .3 1.2 .3-2.7 .3-2.3 .3 .8 .3 2.6 .3 3 .3-3.2 .3-3.4 .3 3 .3-.5 .3 5.1 .3-4.6 .3-1.5 .3-.3 .3-3 .3 .5 .3 1.5 .3-.9 .3 2.6 .3-.2 .3 2.2 .3 1.5 .3-3.6 .3-.9 .3-4.3 .3 5.8 .3 .7 .3-3.7 .3 1 .3-.8 .3 4.6 .3-1.2 .3 1.6 .3-6.3 .3 9.8 .3-8.9 .3-.4 .3 3.1 .3-1.9 .3 6.1 .3-5.8 .3-.7 .3 4.3 .3 .7 .3-5.4 .3 .9 .3 .4 .3 .5 .3 4.8 .3-1.1 .3-.5 .3 .5 .3-3.3 .3 2.2 .3-2.4 .3-1.8 .3 6.3 .3-8.9 .3 4.6 .3-1.5 .3-2.9 .3 3.4 .3 1.1 .3 1 .3-3.3 .3 4.1 .3-1.2 .3 1.3 .3-7.1 .3 3.8 .3-.4 .3 3.1 .3-3.4 .3 .6 .3-1.6 .3-.1 .3 .7 .3 5 .3-5.3 .3-3.5 .3 7.2 .3-1.9 .3 2.7 .3 0 .3-2.1 .3-.2 .3-.3 .3 1.5 .3-1.9 .3 2.7 .3 3.2 .3-5.3 .3 .3 .3 .1 .3 3.3 .3 .3 .3 2.1 .3-1.7 .3-1.4 .3 1 .3-4.5 .3 5 .3-.9 .3 5.1 .3-1.7 .3-5.5 .3 .8 .3 3.9 .3-7.6 .3 3.2 .3 3.4 .3 .9 .3-1.1 .3 2.7 .3-3.6 .3 1.1 .3-.6 .3-2.2 .3 3 .3-1.4 .3 1.8 .3-6.9 .3 7.2 .3-1.6 .3-.1 .3 1.8 .3-1.2 .3 3.7 .3 .9 .3-.8 .3 .2 .3-1.4 .3-.8 .3-3.4 .3 2.4 .3 4.2 .3-1.1 .3-3.2 .3 1.5 .3 2.5 .3-3.1 .3 4.6 .3-6.2 .3 4.1 .3-.3 .3-1.3 .3 .3 .3 .6 .3-7.3 .3 7.1 .3 1.8 .3-2 .3 2 .3-6.1 .3 2.9 .3 1.1 .3-1.6 .3 3.8 .3-1.8 .3-2.6 .3 3.4 .3 0 .3-3.2 .3 2.7 .3-.6 .3-.1 .3-4.1 .3 6.5 .3-1.6 .3-1.8 .3 1 .3 0 .3-1.7 .3-.7 .3 1.8 .3-1.8 .3 .3 .3-1.8 .3 2.3 .3 3.3 .3-2 .3-.5 .3-.9 .3-.3 .3-2.8 .3 8.2 .3-6.2 .3-2 .3 4.9 .3-.3 .3-2 .3-2.5 .3 .2 .3 7.7 .3-4.4 .3-1.4 .3 6.5 .3-6.2 .3-1 .3 3.8 .3-.6 .3 2.9 .3-8.5 .3 4.4 .3-5.7 .3 4.9 .3-3.6 .3-.3 .3-1.6 .3 3.2 .3 1 .3-5.4 .3-1.5 .3-1.7 .3 1.6 .3-5.2 .3 8.4 .3-8.4 .3 4 .3-5.1 .3-5 .3-1.5 .3 1.7 .3-2.2 .3-.3 .3-3.9 .3 7.6 .3-2.2 .3-11.7 .3 4.6 .3 .6 .3-5.1 .3-.5 .3 2.8 .3-1.7 .3-4.3 .3 7.6 .3-2.4 .3 8.8 .3-4.2 .3-.1 .3 9.6 .3 6 .3 .9 .3 1.2 .3-1.6 .3 5.6 .3-6.6 .3 7.6 .3-4.6 .3 2.2 .3-1.3 .3 1.6 .3 6.8 .3-6.5 .3 3.9 .3-2.2 .3 5.1 .3-6 .3 3.8 .3 2.6 .3 3.7 .3-9 .3 .9 .3 2.1 .3 4 .3-6.5 .3 4.8 .3-3.8 .3-1.1 .3-1.5 .3 4.6 .3 2.2 .3-2.9 .3-5.3 .3 4.1 .3 4.1 .3-.3 .3-1.6 .3 3.2 .3-7.2 .3 .1 .3 9.5 .3-4.5 .3-2.3 .3-.8 .3-5.3 .3 8.8 .3-7.7 .3 .3 .3 5.1 .3 4.1 .3-5 .3 2 .3-2.2 .3 2.2 .3-5.4 .3 10 .3-8.2 .3 4.1 .3-6.9 .3 10.1 .3-3.5 .3 4.1 .3-7 .3 4.5 .3-3.3 .3 .4 .3 3.6 .3-5.9 .3 4.4 .3 3.2 .3-.5 .3-1.8 .3-2 .3-3.4 .3 6.4 .3-5.6 .3 5 .3-4.1 .3 .9 .3 0 .3 1.6 .3-2.8 .3 1.7 .3-1.9 .3 2.8 .3-.6 .3 .4 .3-3.4 .3 3.1 .3-.7 .3 1.4 .3-1.4 .3-2.7 .3 4.5 .3-3.7 .3 2.6 .3-6.2 .3 6.8 .3 .4 .3-4.1 .3 4 .3-2.5 .3 4.6 .3-1.9 .3-5 .3 2.8 .3-4.1 .3 3.8 .3 2.3 .3 .8 .3-2.4 .3-.4 .3 1.1 .3-2 .3 2.5 .3 2.1 .3-2.4 .3 1.8 .3-4.3 .3 .8 .3 2.2 .3 4.5 .3-2.7 .3 1.9 .3-4.4 .3 3.2 .3-7.7 .3 5.9 .3-6.9 .3 8.8 .3-2 .3 1.9 .3-2 .3-2.4 .3-.6 .3 2.5 .3 3.4 .3-2.2 .3-3.1 .3-.1 .3-.3 .3 1.3 .3 .3 .3-1 .3 1.3 .3-4.2 .3 8.3 .3-3.4 .3 3.3 .3-3.2 .3-1.3 .3 .7 .3 .4 .3-2.3 .3 .7 .3 6 .3-2.5 .3-3.9 .3 2.7 .3-3.6 .3 5.9 .3-6.3 .3 4.9 .3-2.3 .3 0 .3-2.2 .3 1.4 .3-1.4 .3-.3 .3 3.5 .3 5.3 .3-7.5 .3 3.5 .3-2.7 .3-1.9 .3 5.3 .3-1.9 .3 1.3 .3-2.8 .3 .1 .3-2.6 .3 1.4 .3 5 .3-10.4 .3 6.9 .3 2.8 .3-1.8 .3 .1 .3-3.1 .3 3.6 .3 0 .3-3.2 .3 4.4 .3-5.7 .3-5.3 .3 6.4 .3-.3 .3-2.1 .3 1 .3-.3 .3-3.5 .3 8 .3-3.3 .3 6.5 .3-6.8 .3 1 .3-5.1 .3 6.6 .3-5.6 .3 4.1 .3 .9 .3-.5 .3-4.2 .3-.1 .3 4 .3 1 .3 .6 .3-3.9 .3-.3 .3 4.8 .3-6.3 .3 3.4 .3-2.9 .3-3 .3 .6 .3 3.9 .3-.8 .3 .5 .3-2.4 .3-.7 .3 1.8 .3-1.5 .3-4 .3 2.7 .3 5.3 .3-6.8 .3 3.1 .3-2 .3 1.8 .3-4.5 .3-1.5 .3 4.2 .3-3.4 .3 1.3 .3-1.1 .3 3 .3-2.2 .3-.7 .3-3.3 .3-1.9 .3 1.5 .3 4 .3-.8 .3-.6 .3-2.9 .3-2 .3 5.3 .3-2.8 .3 .6 .3-4.2 .3 .4 .3 3.1 .3 0 .3-4.8 .3 3.1 .3-4 .3 6 .3-1.6 .3 4 .3-2.1 .3-5.8 .3 2.1 .3-1.8 .3 1.5 .3 1.7 .3-2.1 .3 .2 .3-3.6 .3 5.1 .3-1.4 .3 1.9 .3 1.3 .3-2.3 .3 2 .3-3 .3 4.4 .3-2.1 .3-1.1 .3 1.4 .3-2.6 .3 2.5 .3 1.1 .3 1.7 .3 .2 .3-.9 .3 1.7 .3-4.5 .3 6.3 .3 1.8 .3 1.1 .3 1.3 .3-2.8 .3 .9 .3-.5 .3 .4 .3 2.1 .3 3.6 .3-7.4 .3 3.5 .3 2.4 .3-2.9 .3 3.9 .3-4.3 .3 2.9 .3-3.1 .3 5.1 .3-2.6 .3 3.8 .3-2.3 .3-1.7 .3 1.5 .3 1.4 .3-.3 .3-.5 .3-.2 .3 1 .3 2.2 .3-3.6 .3 2.7 .3-4.5 .3 5.9 .3-1.4 .3-1.8 .3 .1 .3-3.5 .3 4.7 .3-.8 .3-2.9 .3 2.5 .3 2.7 .3-1 .3 .3 .3-2.1 .3 3.7 .3-2.2 .3 2.3 .3 3.5 .3-10.8 .3 3.9 .3 1.4 .3-1.9 .3 4.6 .3-3.5 .3 5.3 .3-2.4 .3-.8 .3-1.1 .3 2.3 .3-.9 .3 2.6 .3-2.7 .3 1.6 .3-1.6 .3-.1 .3-4.9 .3 4.1 .3 1 .3-4 .3-.5 .3 2.8 .3 1.6 .3-5.2 .3 5.2 .3 1.7 .3-3.1 .3 1.3 .3 .6 .3-2.9 .3 3.3 .3-.4 .3-4.3 .3 4.5 .3 .9 .3-5 .3 5 .3-2.9 .3-2.8 .3 .8 .3 .4 .3 3.7 .3-2.6 .3 .2 .3-2.3 .3 3.3 .3-3.3 .3 1.5 .3 3.2 .3 .1 .3-3.1 .3 1.2 .3 1.4 .3-1.4 .3 3 .3 .3 .3-3.7 .3-3.1 .3 2.7 .3 3.8 .3-.7 .3 .1 .3-.3 .3-4.3 .3 1.9 .3 2 .3-2.3 .3 1.5 .3-5 .3-.7 .3 8.2 .3-3.3 .3-.6 .3 2.1 .3 1.8 .3 .8 .3-13.1 .3 7.1 .3 1.5 .3-7.8 .3 .1 .3 4 .3 5.2 .3-2.6 .3 2.9 .3-5 .3 1.9 .3 .9 .3-2.9 .3-1.5 .3 .2 .3-7.3 .3 7.4 .3-5.9 .3 2.5 .3 3.8 .3-1 .3-6.5 .3 6.2 .3 .2 .3-1.9 .3 .8 .3-.8 .3-6.5 .3 3.4 .3-.8 .3-3 .3 2.6 .3-2.5 .3 1.4 .3-2.5 .3 4.6 .3 2.7 .3-7.5 .3 1.5 .3-.1 .3 1 .3-1.5 .3-5.2 .3 6.9 .3-1.1 .3-2.2 .3 2.6 .3-.5 .3 2.3 .3-1 .3 .5 .3 1.4 .3 .9 .3-.2 .3 3.5 .3-1.9 .3-2.1 .3 7 .3-3.7 .3 4.3 .3-6.3 .3 4.7 .3 3.5 .3-.7 .3-2.7 .3-1.3 .3 .3 .3 1.4 .3-1.7 .3 .9 .3-.4 .3 .2 .3 3.3 .3-5.1 .3 5.1 .3 1.4 .3-4.2 .3 .1 .3 2.4 .3-.1 .3 2.6 .3-7.6 .3 5 .3 3.9 .3-3.4 .3 4.4 .3 1.1 .3-7.1 .3 5.3 .3-2.5 .3-1.4 .3-.6 .3 .1 .3-1.7 .3 1.9 .3 2.9 .3 .9 .3-4.3 .3 2.4 .3-.1 .3-7.4 .3 8.1 .3-5.1 .3 .2 .3 5.2 .3 2.2 .3-7.2 .3 .6 .3-.2 .3 1.1 .3 .4 .3-1.1 .3-2.1 .3 8.8 .3-5.9 .3-.6 .3 4.3 .3-3.3 .3 3.8 .3-.8 .3 .6 .3-3.6 .3 2.7 .3-5.7 .3 .5 .3 3.7 .3-.9 .3 4.3 .3-4.2 .3-3.9 .3 4.8 .3-1 .3 1.3 .3-3.5 .3 1 .3 2.2 .3 1.8 .3-.9 .3 .9 .3-5.7 .3 3.2 .3 1.2 .3 1.9 .3-1.8 .3-1.3 .3 .4 .3 0 .3-3.4 .3 3.8 .3 2 .3-.2 .3-6.7 .3 4.8 .3-3.9 .3 6.8 .3-1.4 .3 .4 .3-3.5 .3-3.3 .3 2.3 .3 1.8 .3-2.9 .3 1.2 .3 7.2 .3-7.9 .3 4.8 .3-6.2 .3 5.5 .3 1.5 .3-1 .3 2 .3 1.6 .3-8.3 .3 4.3 .3 .7 .3-.2 .3 3 .3-3.4 .3 2.4 .3-.1 .3-2.6 .3 1.1 .3-3.4 .3 2.8 .3-.3 .3-.9 .3-.8 .3 3.8 .3-2.8 .3 6.2 .3-2.5 .3-1.4 .3-3.5 .3 3.9 .3-2 .3-.1 .3-3 .3 4.3 .3-.8 .3-1.9 .3-.5 .3 1.1 .3-2.7 .3 2 .3 5 .3-5.3 .3 7.8 .3-9.5 .3 6.3 .3 0 .3 .2 .3-1.5 .3-5.7 .3 7.2 .3-.2 .3-2.6 .3-6.3 .3 9 .3-5.2 .3 1.7 .3 3.9 .3 .3 .3-2.5 .3-2.4 .3 5.9 .3-1.5 .3-3.3 .3-2.1 .3 3.2 .3-4.2 .3 8.1 .3-3.3 .3-2.2 .3 2 .3-5.4 .3 4.2 .3-1.5 .3-2.5 .3 2.5 .3 2.6 .3-4.7 .3 3.3 .3-3.3 .3 4.3 .3-5.1 .3 6.5 .3-.1 .3 .4 .3 2.6 .3-4.3 .3-.1 .3 1.3 .3-2.8 .3-3.7 .3 1.7 .3 0 .3 3.7 .3-2.1 .3 .6 .3 2.6 .3-1 .3 4.7 .3-5.3 .3-2.3 .3 5.8 .3-4.4 .3 .9 .3 2.8 .3-2.1 .3 1.4 .3-3.4 .3 .8 .3 2.5 .3-3 .3 .4 .3 .9 .3 4.3 .3-.3 .3-3.2 .3-.4 .3-1.9 .3 5.3 .3-2.4 .3 1.4 .3-6 .3 5.8 .3-1.7 .3 1.6 .3 .8 .3-2.6 .3-1 .3 2.8 .3-4.9 .3 6.9 .3-2.8 .3-3.7 .3 6.3 .3-.8 .3 1.5 .3-1.3 .3-1.3 .3-1.4 .3-2.6 .3 4.8 .3-.4 .3-2.6 .3 2.7 .3-3.8 .3 5.1 .3-2.3 .3 .3 .3-2.5 .3 4.4 .3-2 .3-1.9 .3 2.5 .3-1.5 .3 3.3 .3-6.6 .3 1 .3 8.3 .3-6.5 .3 2.6 .3-2.3 .3 1.6 .3 6 .3-11.6 .3 6.6 .3-1.3 .3 0 .3-2.1 .3-.4 .3 6.1 .3-2.2 .3-4.4 .3 3.1 .3-3.4 .3 10 .3-5.5 .3-5.7 .3 7.2 .3-.8 .3-.8 .3-.3 .3-1.9 .3 1 .3-4.8 .3 8.7 .3 1.9 .3-3.9 .3 .3 .3-5.2 .3 2.5 .3-2.6 .3 .3 .3 4.8 .3 2.3 .3-3.8 .3 6.6 .3-4.3 .3-8 .3 4.8 .3 4.5 .3-3 .3 2.3 .3-7.1 .3 7.7 .3-6.4 .3 3.9 .3 4.6 .3-5.3 .3-.8 .3 2.5 .3-4.2 .3-.3 .3 5 .3-6.5 .3 .6 .3 7.8 .3-7.9 .3 4.4 .3 1.7 .3-3.1 .3-2.7 .3 4.9 .3-4.7 .3 7.9 .3 .2 .3-8.5 .3 4.1 .3-3.4 .3 2.8 .3-1.7 .3-2 .3 3.8 .3-5.7 .3 5 .3-1.3 .3-1.7 .3 4.3 .3-2.3 .3-1.1 .3 .4 .3-.2 .3 2.9 .3-3.3 .3-6.2 .3-.1 .3 4 .3-.6 .3 2.5 .3-2.9 .3 1.3 .3 5.5 .3-7 .3 5.6 .3-2.7 .3 3.7 .3-1.2 .3-2.3 .3 2.6 .3-2.3 .3-3.6 .3 4.1 .3 0 .3-1.7 .3 .8 .3-1.9 .3 1.9 .3-1.6 .3-3.4 .3 3.2 .3 4.8 .3-2.1 .3 1.6 .3-4 .3-1.1 .3-1.8 .3 3 .3 2.2 .3-.6 .3-.3 .3-3.4 .3 1.6 .3-2.4 .3 4.1 .3-.7 .3-3.3 .3 1.9 .3-6.4 .3 7.7 .3-4.1 .3 1.1 .3 2.5 .3 .1 .3-3.6 .3 5.8 .3 1.1 .3-1.6 .3-.4 .3-3.4 .3 3.4 .3-5.9 .3-.7 .3 3.2 .3 .2 .3-3 .3 6.9 .3-8.5 .3-1.7 .3 4.3 .3 5.3 .3-2.4 .3-1.1 .3-.6 .3 1.1 .3-.7 .3-.6 .3-.6 .3-3.9 .3 6.7 .3-3.7 .3 2.1 .3 .3 .3 1.4 .3-4.8 .3 4.2 .3 0 .3-2.5 .3 .2 .3 .5 .3-3.1 .3 1.5 .3-1.7 .3 6 .3-5.1 .3-.7 .3 3.2 .3 1 .3-2.3 .3-1.5 .3 3.6 .3 1.1 .3-6.4 .3 6.6 .3-6.9 .3 6.4 .3-2.8 .3 .5 .3 2.6 .3 1.9 .3 1.7 .3-1.8 .3-1.7 .3-5.2 .3 2.5 .3 1.5 .3-1.9 .3 3.2 .3-2.1 .3 5.3 .3-5 .3-2.8 .3 2.1 .3-.5 .3 3.8 .3 1.9 .3-.9 .3 .1 .3-4.4 .3-1 .3 .9 .3 2.2 .3-.9 .3 1.8 .3 2 .3-2.4 .3 4.3 .3-6.3 .3 3.8 .3-1.8 .3 2.9 .3-2.6 .3-1.2 .3 1.2 .3-1.9 .3-.5 .3 5 .3-3.5 .3 4.8 .3 3.5 .3-7.4 .3 3.3 .3-2.4 .3-4.6 .3 4.8 .3 4.2 .3-7 .3 2.9 .3 0 .3-3.2 .3 4.7 .3-1.1 .3 2 .3-1.3 .3-3.8 .3 4.2 .3 1.3 .3-2.1 .3 2.2 .3 0 .3-6.9 .3 7.3 .3-6.9 .3 2 .3 3.1 .3-2.1 .3 .5 .3 5.1 .3-5.6 .3 5.9 .3 1.8 .3-1.1 .3-6.4 .3-1.1 .3 4.3 .3 5.4 .3-6 .3-.9 .3 1.2 .3 2.4 .3 1.2 .3-3.1 .3-.2 .3 1.7 .3-1.2 .3-1.1 .3-3.5 .3 5 .3-1.9 .3 1 .3-.1 .3-1.5 .3 3.8 .3 1.4 .3-1.4 .3-3 .3 2.1 .3 1.4 .3-2 .3 2.1 .3-5.5 .3 3.1 .3 4.3 .3-1.1 .3-2.9 .3 .6 .3 5.3 .3-2.7 .3-4.7 .3 2.6 .3-2 .3-.3 .3-1.6 .3 4.9 .3 3.9 .3-3.5 .3-5.7 .3 4.8 .3-5.2 .3 4.3 .3 2.2 .3 1.1 .3-3.6 .3 .5 .3-.9 .3-.5 .3 4.5 .3-6.6 .3-1.7 .3 8.7 .3 1.2 .3-10 .3 6.5 .3-.4 .3-3.2 .3-1.5 .3 2.8 .3-1.3 .3 2.9 .3-3.8 .3 4.7 .3-4.8 .3 5.8 .3-2 .3 .6 .3-4 .3 .3 .3 .3 .3 3.2 .3-4.8 .3-.4 .3 1.4 .3 1.4 .3-1.2 .3-.1 .3-3.3 .3 1.8 .3-1.3 .3 5.4 .3-2.9 .3 1.8 .3-5.3 .3 3.3 .3 1 .3-3.8 .3 .9 .3 .3 .3 1.6 .3 .3 .3-4.5 .3 4.5 .3-.4 .3 .1 .3-3.1 .3 2 .3 3.4 .3-.4 .3-4.7 .3 5.7 .3-5.4 .3-1.3 .3 5.2 .3-2.2 .3 5.1 .3-6.7 .3 .9 .3 1.5 .3-1.4 .3-1.8 .3 1 .3-.1 .3-.1 .3-.1 .3-4 .3 6.2 .3-4 .3 .9 .3-1.5 .3 1.4 .3 3 .3 .7 .3-2.5 .3-.5 .3-1.9 .3 .6 .3 1.3 .3-1.1 .3-2.3 .3 2.7 .3-3 .3 8.1 .3-4.7 .3-2.3 .3 2.6 .3-3.2 .3 1.2 .3 4.6 .3-.7 .3-6.5 .3 .1 .3 1.5 .3 7.2 .3-5.8 .3 .5 .3-2.1 .3 4.8 .3-1 .3-7.1 .3 2.3 .3-2.6 .3 1.7 .3 .8 .3-1.4 .3 1.8 .3 3.5 .3 1.1 .3-2.7 .3 1.6 .3-5.5 .3 7.4 .3 2.1 .3-6.4 .3 1.8 .3-.5 .3-6.6 .3 8.3 .3-1.4 .3-5.5 .3 3.1 .3 4.1 .3-1.5 .3-5.1 .3 2.1 .3-.3 .3 2.2 .3-2.2 .3 2 .3-.6 .3-3.4 .3 5 .3-.4 .3-2.4 .3 3.7 .3 4.1 .3-10 .3 4.7 .3 1.7 .3-2.1 .3-1.5 .3 7.2 .3-6.9 .3 1 .3-1.3 .3 4.9 .3-8.7 .3 3.3 .3 1.2 .3 2.1 .3 .2 .3 1.7 .3-2.8 .3-1.5 .3 1.8 .3-2.1 .3 1 .3 .2 .3 2.1 .3 1.5 .3-5 .3 1.4 .3 1.6 .3 .2 .3-.6 .3 2.2 .3-1.9 .3-3.9 .3 8 .3-6.6 .3 7.6 .3-3.4 .3 .2 .3-4.5 .3 4.6 .3-1.2 .3-1.5 .3 3.7 .3 .6 .3 1.2 .3-6.1 .3 1.2 .3 5.7 .3-2.1 .3 .8 .3-3.3 .3 2.4 .3 1.2 .3-5.1 .3 1.5 .3 2.5 .3 3 .3-4.6 .3 3 .3-3.8 .3-.8 .3 4.8 .3-4.2 .3 2.8 .3-1.4 .3 2.8 .3-4.4 .3-.3 .3 0 .3 3.2 .3 3.9 .3-1.1 .3-1.5 .3-.8 .3 3.6 .3-3.3 .3 3 .3 .9 .3-1.7 .3-.6 .3 0 .3-1.1 .3 1 .3-2.9 .3 .2 .3 6.2 .3-4.3 .3-3.9 .3 7.8 .3 .1 .3-2.3 .3-4.2 .3 8.2 .3-2.2 .3 .5 .3-3.8 .3 1.8 .3-1.8 .3 .2 .3-2.4 .3 1 .3 .8 .3 1.4 .3 2.5 .3-1.1 .3-6 .3 7.3 .3-6.5 .3 5.1 .3-1.7 .3 .6 .3-1.4 .3-1.4 .3 6.8 .3-10.4 .3 4 .3 5.6 .3-3.4 .3 .1 .3-2.2 .3-.7 .3 4.4 .3-2 .3 1.3 .3 1.1 .3-6.4 .3 1.8 .3 .9 .3 2.3 .3 1.2 .3-4.4 .3 2.1 .3 .3 .3-.1 .3 4.3 .3-5.9 .3 2.3 .3-6.3 .3 5.6 .3 .6 .3 1.5 .3-3.1 .3-.1 .3-1.7 .3 1.8 .3 7.5 .3-10.6 .3 0 .3 4.7 .3-2.7 .3 5.6 .3-7.1 .3 8.2 .3-5.4 .3-3.1 .3-1.5 .3 3.4 .3 .7 .3 2.6 .3-4.3 .3 10.2 .3-4.7 .3-2.6 .3-1 .3 8.3 .3-8.8 .3 3.9 .3 1.9 .3-6.2 .3 3.9 .3-2.8 .3 4.9 .3 .1 .3-2.3 .3-1 .3-3.6 .3 9.5 .3-2.4 .3-2 .3 2 .3-3.8 .3-3 .3 5.4 .3-5 .3 1.1 .3 3.4 .3-6.1 .3 4.2 .3-.9 .3-2.2 .3-.1 .3 2.5 .3-.2 .3 1.2 .3-4.3 .3 4.1 .3-3.5 .3 1.2 .3 4.6 .3-4.3 .3 .5 .3-.8 .3 2.1 .3 2.2 .3-3.1 .3 2.6 .3-5.1 .3 4.6 .3-1.5 .3 .5 .3-2.6 .3 .8 .3 2.4 .3-3.9 .3 5.1 .3-3.1 .3 2.3 .3-4.1 .3-1.3 .3 5.9 .3 .1 .3-1.9 .3 1.8 .3-1.7 .3 1.7 .3-1.3 .3-2.9 .3 5.4 .3-5.4 .3 8.4 .3-6.3 .3-2 .3 1.8 .3 .8 .3 .2 .3 1.1 .3-3 .3-3.8 .3 3.1 .3 3.4 .3 1.7 .3-8 .3 5.4 .3 2.6 .3-6.5 .3 8.1 .3-6.5 .3 1.7 .3-.9 .3 5.9 .3-2.3 .3-2 .3-1.3 .3-3.4 .3 3.6 .3-.8 .3 1.2 .3-4.6 .3 8.2 .3-.9 .3 1.8 .3-5.7 .3 1.5 .3-3.1 .3 5.5 .3-2.9 .3 4.9 .3-2.4 .3 .1"/>
<path d="M157 957.8l.3-14.7 .3 9.5 .3-3.1 .3 .4 .3 .7 .3-5.8 .3 5.8 .3-2 .3 11.1 .3-7.6 .3-1.8 .3 .2 .3-1.2 .3-1.1 .3 2.1 .3 2.9 .3-2.2 .3 3.9 .3-3.7 .3 .8 .3 5 .3-3.1 .3-3.3 .3 1.1 .3 2.4 .3 4.6 .3-7 .3 .2 .3 4.1 .3-5.9 .3 2 .3 3.9 .3-.8 .3-1.5 .3 2 .3-10.3 .3 11.7 .3-6.2 .3-2.1 .3 6.3 .3 1.5 .3-3.5 .3-1.9 .3 3.7 .3-.1 .3 4.8 .3-2 .3-1.6 .3 3.1 .3-4.1 .3-2.2 .3 5 .3 .1 .3-2.4 .3-1.6 .3 3.3 .3-8.5 .3 10.3 .3-.5 .3-6.7 .3 5.6 .3-3.2 .3 5.6 .3-8.8 .3 3.7 .3 5.4 .3 1.5 .3-10.5 .3 5.4 .3 2.8 .3-2.9 .3 7.1 .3-8.8 .3 5.1 .3-4.4 .3 7.9 .3-4.4 .3-1 .3-4.3 .3 11 .3-2.8 .3 .1 .3 1.3 .3-2.4 .3-3.1 .3-.4 .3 .1 .3 7.1 .3-8.9 .3 2.8 .3 1 .3 1.9 .3 1.2 .3-5.7 .3-1.4 .3 5.6 .3 4 .3-1.3 .3-1.7 .3-1.6 .3 2.1 .3-1.6 .3 3.5 .3-5 .3 3 .3-.6 .3 2.2 .3-.9 .3 7.5 .3-3.2 .3 .1 .3-11.2 .3 5.5 .3-.7 .3 3.7 .3-8.9 .3 11.2 .3-.3 .3-7.4 .3 1.1 .3 .7 .3 2.8 .3 2 .3 4.6 .3-7.1 .3 3.2 .3-1.9 .3 5.3 .3-3.2 .3 2.1 .3-7.7 .3 2.9 .3-1.9 .3 7.5 .3-2.6 .3-3 .3-.4 .3 3.1 .3-3.7 .3-.7 .3 4.6 .3 6.4 .3-8.5 .3-1 .3-1.9 .3-.4 .3 6 .3 1.1 .3-2.6 .3 1.1 .3-.6 .3 .1 .3-5.3 .3 3.5 .3 1.9 .3-2.8 .3 1 .3-1 .3 1.6 .3 3.8 .3-4 .3 .8 .3 3.2 .3-.5 .3 3.4 .3-12.1 .3 9.4 .3-4.2 .3 2 .3 2.3 .3 .8 .3-.2 .3-2.8 .3 4.7 .3-6 .3 .5 .3 3 .3-4.3 .3 8.7 .3-3.6 .3 3.7 .3-7.1 .3-1.1 .3 1.8 .3 1.8 .3-4.2 .3 3.1 .3-1.2 .3 5.2 .3-7.2 .3 5.4 .3-5.3 .3-1 .3 .8 .3-1.5 .3 4.2 .3 2.9 .3-2.8 .3 1.5 .3 3.3 .3-4.4 .3-.2 .3-1.5 .3-4.3 .3 7.6 .3-8 .3 7.7 .3-2.1 .3 3.7 .3-3.8 .3-2.5 .3 3.8 .3-2.9 .3 1.2 .3 .8 .3-.6 .3-.1 .3-2.1 .3 2.1 .3-6.3 .3 6.4 .3-3.3 .3 7.4 .3 .5 .3-10.3 .3 6.7 .3-.8 .3-3 .3 5.1 .3-3.2 .3-4.1 .3 4.8 .3 .4 .3 .8 .3-4.3 .3 5.9 .3 .4 .3-6 .3 1.6 .3 1.9 .3-1.6 .3 7.4 .3-4.9 .3-3.9 .3 .8 .3 2.3 .3 7.5 .3-7.9 .3 1 .3 1.3 .3-1.8 .3 7.5 .3-9 .3 4.1 .3-1.9 .3 1.5 .3-5.7 .3 9.4 .3-6 .3 .5 .3-3.1 .3 .7 .3 4.1 .3 1.4 .3-.7 .3 1.4 .3-1.5 .3-2.2 .3 2.6 .3-.8 .3-2.2 .3 2.7 .3 1.8 .3-3.4 .3-1.8 .3 3.4 .3 3.8 .3-6.7 .3 .4 .3-.1 .3 4.3 .3-9.7 .3 7 .3 2.7 .3-6.4 .3 7.4 .3-3 .3-3.5 .3 2.4 .3-5.5 .3 3.1 .3 7.7 .3-8.7 .3 8.8 .3-6.2 .3 3.5 .3-3 .3-7.3 .3 5.3 .3 2.5 .3-4.3 .3-.6 .3 5.5 .3-3.2 .3-3.3 .3 3.2 .3 5 .3-4.3 .3 4.6 .3 1.9 .3-4.8 .3-3.7 .3-.5 .3 4.1 .3 2.9 .3-1.9 .3 .9 .3-3.2 .3 2.4 .3-2.5 .3 .5 .3-3 .3-.9 .3 3.5 .3-2 .3 .5 .3 5.2 .3-2.5 .3 8.7 .3-5.3 .3-5 .3 4.5 .3-1.3 .3-3.3 .3 5.7 .3-6 .3-5.8 .3 10.8 .3-4.5 .3 6.8 .3-6.9 .3-1.6 .3 8.7 .3-8.4 .3 4.1 .3 4 .3-4.3 .3-.6 .3 .6 .3 2.4 .3-5.3 .3 4.5 .3-.1 .3 5.7 .3-8.6 .3-1.8 .3 5.3 .3-3.7 .3 2.2 .3-.5 .3 3.3 .3-5.8 .3 1.8 .3-7.9 .3 5.4 .3 7.7 .3-7.1 .3 0 .3-1.7 .3 5.8 .3-1.3 .3-4.4 .3 5.9 .3-1.3 .3 1.6 .3-4.5 .3 7.7 .3-4.3 .3-1.7 .3-1.3 .3 .9 .3 3.5 .3-3.6 .3 4.4 .3-1.6 .3 2.4 .3-1.7 .3-2.8 .3-5.9 .3 7.1 .3 1.5 .3-2 .3 1.3 .3-3.3 .3 .3 .3-1.8 .3 7.4 .3-3.9 .3-2.1 .3-2.7 .3 3.8 .3 5.1 .3-3.1 .3-3.8 .3 6.9 .3 0 .3-1.5 .3-.6 .3 1.2 .3-2 .3 .8 .3-5 .3 7.3 .3-4.1 .3 5.8 .3-13 .3 8.8 .3 .8 .3-4.2 .3 2.5 .3 1 .3-.6 .3-3.5 .3 1.2 .3 3.8 .3 .8 .3-3.8 .3-.1 .3 .4 .3 2.7 .3-6.7 .3-.9 .3 4.7 .3-3.9 .3 1.6 .3 2.2 .3 1.2 .3-4.9 .3 6 .3-8.3 .3 7.4 .3-6.7 .3 .9 .3 6.2 .3-3.4 .3-1.2 .3 1.1 .3 2.9 .3-1.7 .3 .1 .3 3.5 .3-5.7 .3 .8 .3-.2 .3 5.4 .3-.5 .3 .9 .3-4.2 .3-.4 .3 3.2 .3-4 .3 4 .3-.4 .3-4.5 .3 1.9 .3-.1 .3 5.9 .3 2.8 .3-8.6 .3 .3 .3-7.3 .3 8 .3-.7 .3-3.4 .3 5.9 .3-7.5 .3 4.3 .3 1.1 .3-4.4 .3 6.7 .3 .7 .3-7.8 .3-.1 .3 6.4 .3-2 .3-3.8 .3 3 .3 .6 .3-.2 .3 3.1 .3-1.4 .3 4.5 .3-1.3 .3-2.2 .3 1.2 .3 .8 .3-1.9 .3-6.2 .3 6.7 .3-2.6 .3 5 .3-4.9 .3 1.4 .3-.6 .3 4.3 .3-4.8 .3-1.5 .3 1.9 .3-2.4 .3 1.9 .3-.5 .3 .9 .3 5.3 .3-7.5 .3 1.4 .3-.7 .3 2.8 .3-6 .3 1.6 .3 2.1 .3 1.8 .3-1.8 .3-1.5 .3-1.2 .3 4.4 .3 3 .3-3.6 .3-.4 .3 .8 .3-4.4 .3 2 .3 .1 .3 1.8 .3-1 .3-3.8 .3 7.5 .3 1.8 .3-6.2 .3 2.1 .3-.4 .3 1.6 .3-7.2 .3 9.9 .3-6.7 .3 5.5 .3-3.7 .3-1.5 .3 .8 .3 3.3 .3-5.7 .3 1.6 .3-.3 .3-4 .3 9.6 .3-2.3 .3-1.9 .3 3.8 .3-6.8 .3 2.8 .3 5.8 .3-2.4 .3-10.3 .3-1.2 .3 5 .3 6.7 .3-4.9 .3 .8 .3 2.6 .3-4.8 .3 3.5 .3 1.9 .3-1.1 .3-.2 .3-3.2 .3 3.5 .3-3 .3 5.5 .3 4.1 .3-10.6 .3-4.6 .3 5.5 .3 2.6 .3 2.1 .3 .1 .3-6 .3 0 .3 6.6 .3-7.6 .3 7 .3-4.3 .3 3.2 .3-.2 .3 .2 .3 .1 .3-5.8 .3 4.1 .3-.9 .3 .9 .3 2.9 .3-4.8 .3-1.4 .3-.1 .3 1.3 .3 3.4 .3-5 .3 6.3 .3-2.8 .3-1.7 .3-3.6 .3 5.1 .3 1.4 .3-7.9 .3 9.4 .3 1.5 .3-4.2 .3 .4 .3 6.2 .3-3.8 .3-6.9 .3 2.8 .3-.4 .3 0 .3-7.1 .3 9.9 .3-4.4 .3 2.5 .3-1 .3 3.2 .3-3.7 .3-1.6 .3 4.2 .3 2.8 .3-5.6 .3 5.4 .3-3.5 .3-2.6 .3 6.6 .3-7.6 .3 5.9 .3-4.9 .3 3.1 .3-5.4 .3 1.2 .3 6.1 .3-2.8 .3-.5 .3-1.6 .3 2.8 .3-5.9 .3 .9 .3 3.1 .3-2.2 .3 .4 .3 2 .3-.2 .3-.3 .3 6 .3-2.1 .3 .7 .3-4 .3-1.6 .3-3 .3 3.5 .3-5.6 .3 4.8 .3 4.3 .3 2.8 .3-2.1 .3-5.9 .3 4.3 .3-4.1 .3 5.2 .3-3 .3 3 .3 5.5 .3-5.3 .3 4.5 .3-6.9 .3-1.6 .3 5.3 .3 1.2 .3-7.3 .3 2 .3-4.8 .3 3.9 .3 3.5 .3-3.1 .3-1.6 .3-2.7 .3 5.7 .3 1.4 .3-.7 .3-1.1 .3-4.9 .3 9.7 .3-5.8 .3-.3 .3 2.8 .3-9.3 .3 6.7 .3-.3 .3 1.6 .3 3.2 .3-2.9 .3-7.4 .3 4.8 .3 1.7 .3-.2 .3-4.5 .3-1.3 .3 7.1 .3-.7 .3-1.2 .3-5.5 .3 11.2 .3-14 .3 7.2 .3 7.8 .3-7.2 .3 1.2 .3-4.5 .3 8.1 .3-8.5 .3 4.9 .3-.4 .3-3.8 .3 6.2 .3-7.4 .3 2.3 .3 2.1 .3-1.3 .3 2.8 .3 1.5 .3-4 .3-.8 .3 .1 .3 .4 .3 3.8 .3-3.3 .3 1.9 .3-1.6 .3-2.5 .3 5.5 .3-6.2 .3 3.3 .3 4.7 .3-8.3 .3 3.3 .3-5 .3 3.4 .3-3.2 .3 3.6 .3-.7 .3 2.1 .3 4.6 .3-4.3 .3 1.2 .3-2.4 .3-.7 .3-1.9 .3-3.2 .3 5.9 .3 4.9 .3-3.8 .3-3.3 .3 6.9 .3-6.7 .3-.7 .3-2 .3 .7 .3 2.2 .3 7.1 .3-7.1 .3-2.8 .3 1.3 .3 1.2 .3-4.9 .3 5.8 .3 1.8 .3-1.3 .3 .8 .3-6.2 .3-1.3 .3 9.4 .3-.7 .3-8.5 .3 5.5 .3-.6 .3 1.6 .3-1.2 .3-2.3 .3 2.1 .3-.1 .3-.8 .3-5.8 .3-2.5 .3 5.8 .3-2.8 .3 6 .3 1.4 .3-1.5 .3-2 .3 1.3 .3 3.5 .3-6.1 .3 5.3 .3-.7 .3-1.5 .3 3.8 .3-7 .3 5.3 .3-6 .3 .5 .3-.9 .3 4.8 .3-4.4 .3 3.2 .3-3.8 .3 7.1 .3 2.5 .3-5.1 .3 4.6 .3-3.5 .3 5.2 .3-6.5 .3-5.3 .3 9.9 .3-5.1 .3-2.9 .3 1.3 .3-3 .3 4.7 .3-2.8 .3 8.3 .3-2.5 .3-7.4 .3 .6 .3 3.1 .3-4.2 .3 5.9 .3 .3 .3-2.2 .3 .8 .3 3.4 .3 3.1 .3 .3 .3-4.5 .3 2.7 .3-5 .3 3.8 .3-4.3 .3 5.5 .3-6.2 .3 1 .3 3.2 .3 1.9 .3-6.3 .3 3 .3 2.2 .3 .4 .3-3.3 .3 3.1 .3-1.1 .3 5.4 .3-2.6 .3-6 .3-2.7 .3 7.4 .3 3.5 .3-3.1 .3 2.3 .3-4.3 .3-2.8 .3 6.8 .3-2.1 .3 1.9 .3-6.5 .3 5 .3-2.6 .3 4.6 .3-4.5 .3 0 .3 0 .3 5.9 .3-3.9 .3-2.6 .3-.8 .3-.1 .3 8 .3-10.5 .3 3.1 .3 4.7 .3 1.7 .3-4.2 .3 3 .3-.2 .3 .8 .3-3.1 .3 5.1 .3-4.6 .3 4.3 .3-8.5 .3 6.5 .3-7 .3-.8 .3 6.3 .3-4.2 .3 4 .3-4.9 .3 8.6 .3-5.2 .3-3.6 .3 4.1 .3 2.2 .3-5.3 .3 4.1 .3 4.9 .3-3.8 .3-2.9 .3-1.8 .3 3.6 .3-6.7 .3-3.7 .3 6.3 .3-1.3 .3 9 .3-5.2 .3-3.6 .3-.6 .3 5.2 .3-4.3 .3 .8 .3 1.5 .3 .6 .3-.1 .3 .1 .3 3.7 .3 1.3 .3-10.8 .3 13.3 .3-7.7 .3 3.6 .3-6.4 .3 3.3 .3-.4 .3-.3 .3 2.3 .3-.7 .3-5.3 .3 2.8 .3 2.7 .3-.2 .3-3.3 .3 .1 .3 .4 .3-3.1 .3-.6 .3 9.1 .3-6.3 .3 1.5 .3-2.7 .3 6.5 .3 1.4 .3-6.3 .3 2.3 .3-4.1 .3 8.1 .3-2.7 .3-5.7 .3 6.6 .3-2.8 .3 .1 .3-.2 .3-3.3 .3 .4 .3 3.7 .3-2.2 .3-2.8 .3 9.5 .3-7.2 .3-1.1 .3-.5 .3 4.4 .3 .9 .3-2.3 .3 2 .3-7.6 .3 3.6 .3-.3 .3 1.5 .3 1.5 .3-8.1 .3 14.6 .3-10.9 .3 3.9 .3 1.5 .3 .1 .3-2 .3-9.3 .3 5.1 .3 5.9 .3-5.4 .3-.5 .3-4.1 .3 11.4 .3-2.3 .3-4.5 .3 2.4 .3 .1 .3-3.3 .3 2.7 .3 1.7 .3 .9 .3 2.3 .3-4 .3-1.6 .3 2.8 .3-3.4 .3-2 .3 7.7 .3-4.9 .3 1.6 .3 1.6 .3-5.6 .3 5.6 .3-.7 .3-1.8 .3 1.6 .3-3.8 .3-4.8 .3 6 .3-2.2 .3 5.5 .3-2.2 .3-2.7 .3 1.5 .3 3.9 .3-1 .3-2.7 .3-.1 .3-2.6 .3 .1 .3 2 .3-2.6 .3 1 .3-4.8 .3-2.1 .3-.4 .3 3.8 .3 5.4 .3-.7 .3-7.2 .3-2 .3 7.3 .3-1.2 .3-5.9 .3 7.7 .3-2.9 .3 3.7 .3-3.1 .3 1.8 .3-1.7 .3-3.9 .3 2.4 .3-1.2 .3 5 .3-5.6 .3-1.5 .3 7.4 .3 1.7 .3 1.3 .3-.9 .3-8 .3 2.9 .3 .8 .3 2 .3-6.5 .3 7.2 .3 1.3 .3-3.7 .3 3.8 .3 3.7 .3-3.4 .3 3.5 .3 .2 .3-1.7 .3 .1 .3-2.2 .3 5.3 .3-5.3 .3-.5 .3 4.6 .3-4.4 .3 3.8 .3 2.1 .3-2.9 .3 .2 .3 2.7 .3-.4 .3-7.2 .3 .9 .3 8.6 .3-2.9 .3-7.8 .3 2.5 .3 4.5 .3-3.1 .3 4.7 .3-1.2 .3 1.4 .3-5.2 .3 5.8 .3 4.4 .3-8.8 .3 6.8 .3-1 .3-1 .3-2.2 .3-3.5 .3 .9 .3 5.3 .3 .7 .3 .8 .3-.8 .3-.1 .3-4.3 .3-2.4 .3 4.5 .3 1 .3-1.3 .3-5.2 .3 3.3 .3-3.1 .3 5.2 .3-3.8 .3 2.9 .3 1.6 .3-.6 .3 4 .3-7.9 .3-3.5 .3 10.1 .3 1.4 .3 .1 .3-3.6 .3 .8 .3-1.3 .3-4.5 .3 2.3 .3 3.4 .3-3.4 .3 8 .3-11 .3 3.5 .3 5 .3-5.5 .3-1.7 .3-.7 .3 2 .3 7.2 .3-3.5 .3 .4 .3-3.3 .3 4.3 .3-2.3 .3-3.3 .3 1.5 .3 2.1 .3 3.1 .3-3.9 .3 1.8 .3 4.9 .3-9 .3-1.4 .3 7.1 .3-1.7 .3-1.7 .3 1.1 .3-1.9 .3 2.7 .3-2.7 .3 3.7 .3-6.3 .3 1.1 .3 3 .3-1.8 .3 3.7 .3-2.4 .3-1.5 .3 2.4 .3-2.4 .3-3.3 .3 1.4 .3 1.1 .3 1.1 .3 1.8 .3 2.6 .3-1.1 .3 3.9 .3-1.6 .3-4.7 .3 5.9 .3-1.4 .3-5.3 .3 2.5 .3 2.5 .3-2.7 .3 2.5 .3-2 .3 1 .3-3.2 .3 2.2 .3-2.3 .3 3.3 .3-7.5 .3 6.5 .3 2.9 .3-2.1 .3-1.9 .3 1.8 .3-4.4 .3 .1 .3 1.5 .3 .7 .3 3.6 .3-6 .3 6.1 .3-8.2 .3 2.5 .3 2.5 .3 3.8 .3-5.6 .3-4.9 .3 8.2 .3-1.4 .3-3.4 .3 .2 .3 1.1 .3 2.6 .3 1.8 .3-6.8 .3 12.1 .3-7.5 .3-1 .3 3.4 .3-1.8 .3 7.1 .3-3.9 .3-4.7 .3 0 .3-.4 .3 .6 .3 3.2 .3-4.2 .3 7.3 .3-5.4 .3-.2 .3 3.5 .3-9.3 .3 3.3 .3 5 .3-1.9 .3 0 .3 1.3 .3-3.2 .3 1.4 .3-3.8 .3-1.6 .3 10.1 .3-7 .3 .7 .3 6.8 .3-1.1 .3-5 .3 0 .3 1.4 .3-2.7 .3 4.8 .3-1.3 .3 0 .3 2 .3-.1 .3 3.7 .3-1.1 .3-10.3 .3 8.4 .3-6.4 .3-1 .3 6.9 .3-4.5 .3 1.2 .3 4.5 .3-5.5 .3-.7 .3 3.9 .3 2.9 .3-2.2 .3-6.7 .3 2.9 .3 1.7 .3 6.6 .3-3.2 .3-.2 .3 1.2 .3-4.8 .3 2.5 .3 .1 .3-4.7 .3 3.1 .3 1.9 .3-5.3 .3 6.1 .3-.1 .3 .9 .3-5.8 .3 2.8 .3 4.4 .3-2.1 .3-5.1 .3 3.3 .3 3.8 .3-4.7 .3 1.5 .3 7 .3-8.3 .3-.2 .3-2.9 .3 1.1 .3 6.9 .3-5.2 .3-3.3 .3 .8 .3 3.1 .3 2.4 .3-4.8 .3 4.7 .3-3.9 .3 2.8 .3 .5 .3 .3 .3-3.3 .3 .8 .3 2.2 .3-5.7 .3 4.7 .3 1.1 .3 1.7 .3-3.4 .3-.5 .3 1.1 .3-2.8 .3 1.7 .3 2 .3-.4 .3-4.3 .3 2.3 .3-5.7 .3 9.4 .3-4.3 .3 2.5 .3-4.3 .3 3.3 .3 1.7 .3 1.7 .3-7.4 .3 7 .3-3.2 .3-1.9 .3 4 .3-2.4 .3 0 .3-1.3 .3 3 .3-.6 .3-.7 .3-2.4 .3 1.4 .3 2.9 .3 2.9 .3-4.2 .3 4.6 .3-4.5 .3-3.4 .3 5.5 .3-5.1 .3 4.4 .3 2.2 .3-4.4 .3 .7 .3 8.2 .3-7.1 .3 .1 .3 1.7 .3-2.8 .3 0 .3 1.6 .3-8.9 .3 12.2 .3-7.9 .3 0 .3 5.2 .3-1.7 .3-4 .3 4.7 .3-4.3 .3 1.4 .3-2.6 .3 2.2 .3 3.9 .3-.8 .3 .6 .3 2 .3-3.1 .3-2 .3 1.3 .3 6.1 .3-5.1 .3 .9 .3-1.3 .3 1.1 .3 .6 .3-1.4 .3-.4 .3-2 .3-.2 .3 4 .3 1.1 .3 .6 .3-2.8 .3-2.8 .3 4.6 .3 0 .3-6.8 .3 7.4 .3-.7 .3 3.5 .3-9 .3-.4 .3 6.6 .3-8.3 .3 3.4 .3-1.2 .3 .3 .3-2.9 .3 5.3 .3 3.9 .3-1.7 .3-.1 .3-2.5 .3 5.7 .3-3 .3 1.6 .3-8.3 .3 6 .3-4.8 .3 4.7 .3-.5 .3-4.3 .3 4.1 .3 3.1 .3-2.2 .3 .2 .3-4.7 .3 .5 .3-1.4 .3 3.9 .3 3.3 .3-2.5 .3-1.5 .3-3.7 .3 4.9 .3-2.3 .3-5.4 .3 .4 .3 4.4 .3-1.9 .3 8 .3-5.3 .3-3.6 .3 1.6 .3 6.5 .3-8.2 .3 5.3 .3-1.2 .3 3.2 .3-3.2 .3-3.1 .3 2.5 .3-2 .3 2.1 .3-4.3 .3 5.4 .3-7.8 .3 .5 .3-4.8 .3 1.3 .3-1.5 .3-.6 .3 1.3 .3-5.4 .3-1.6 .3 5.8 .3-4.6 .3-1 .3 6.3 .3-.5 .3-9.9 .3 8.4 .3 4.9 .3 1.6 .3-2.9 .3 8 .3-6.1 .3 3.1 .3 2.3 .3 .6 .3 3.3 .3 1.2 .3-3.2 .3 4.7 .3-6.6 .3 1.5 .3 6.2 .3-5.1 .3 3.1 .3-4.7 .3 .5 .3 .6 .3 .9 .3-1.6 .3 1.1 .3 2.2 .3 1.7 .3-3.5 .3 1.8 .3 .8 .3-6.3 .3-1.5 .3 10.2 .3-1 .3-4 .3 1 .3-4.1 .3-1.4 .3 5.5 .3-5.8 .3 7.7 .3-5.1 .3 3.1 .3 5.3 .3-.1 .3-6.9 .3 4.3 .3-6.7 .3 1.4 .3 3.1 .3 3.3 .3-6.3 .3 3.6 .3-1.4 .3-4.3 .3 3.6 .3 5.2 .3-5.1 .3 1.9 .3 1.1 .3-5 .3 6.3 .3 .9 .3 .3 .3-.9 .3-5.7 .3-.4 .3-.6 .3-.4 .3 .4 .3 5.7 .3 1.5 .3-6.7 .3 4.6 .3-6.6 .3 3 .3-2.1 .3-2.1 .3 5.4 .3 .1 .3-1.6 .3-.3 .3-1.5 .3 2.7 .3-1.5 .3 2.7 .3-4.6 .3 4.6 .3 .9 .3 2.3 .3-.6 .3-2.8 .3-2.7 .3-3.7 .3 5.8 .3 4.5 .3 .8 .3-13.4 .3 5.7 .3 1.3 .3-2.2 .3 3.9 .3-.5 .3-1.8 .3 1.5 .3-5 .3 2 .3 .2 .3 5.7 .3-8.1 .3 4.5 .3 3.2 .3-2.7 .3 2.8 .3-4.8 .3 3.5 .3 1.5 .3 4.2 .3-4.8 .3 2.2 .3-4.6 .3 .3 .3 4.6 .3-3.1 .3 2.6 .3-2.3 .3 4.5 .3 .8 .3-10.3 .3 8.6 .3-4.6 .3 .1 .3-2 .3 2.7 .3-5.9 .3 1.2 .3-.2 .3 3.4 .3 1.9 .3-.6 .3-1.2 .3-3.1 .3-3.8 .3 6.9 .3-.9 .3 .7 .3 3.4 .3-5.2 .3-.1 .3-6.8 .3 9.1 .3-2 .3-2.2 .3 3.6 .3-4.7 .3 1.6 .3 8 .3-3.9 .3 .5 .3-.6 .3-.4 .3-1.5 .3 6.7 .3-7.6 .3 2.6 .3-3.1 .3-.5 .3-6.7 .3 1.6 .3 11.1 .3-.2 .3-6.2 .3 1.2 .3 2 .3-5.1 .3 8.8 .3-9 .3 1 .3-6.2 .3 13.2 .3-4.7 .3 5 .3-8.4 .3 4.2 .3-.8 .3 .3 .3 6 .3 .6 .3-2.9 .3-5.7 .3 4.1 .3 1.4 .3-2.5 .3 0 .3-.4 .3-4.4 .3 3.6 .3 4.3 .3-8.3 .3 3.4 .3 2.4 .3-7.1 .3 3.9 .3-5 .3 3.4 .3-2.6 .3 1.6 .3 1.3 .3 .6 .3 .2 .3-7 .3 12.7 .3-6 .3-2.7 .3 1.5 .3 3 .3-4.3 .3 1.9 .3-.2 .3 3.2 .3-4.2 .3 3.8 .3-.3 .3-1.7 .3 4.5 .3-4 .3-3.8 .3 4.7 .3-.6 .3-.6 .3 .9 .3 6.7 .3-6.8 .3 .7 .3-2.3 .3 5 .3-4.4 .3-2.4 .3-1.4 .3 5.6 .3 .6 .3-7.5 .3 2.8 .3 4.3 .3 1.2 .3-7.5 .3 2.9 .3 3.9 .3-4.4 .3 .3 .3-.3 .3-2.5 .3 4.3 .3 .8 .3-5.5 .3 4.8 .3 3.2 .3-2.9 .3 2.4 .3-4.8 .3 6.1 .3-6.9 .3 8.5 .3-7.5 .3-.9 .3-.5 .3 1.5 .3-.3 .3-.6 .3 1.1 .3 3.2 .3 .7 .3-3.9 .3 5 .3-7.2 .3-.1 .3-.3 .3 5.5 .3-6.9 .3 .5 .3 8.5 .3 1.4 .3-1.2 .3-9.1 .3 4.8 .3 2.7 .3-2.4 .3-5.5 .3 4.1 .3-4.4 .3 1.5 .3 10.8 .3-4.7 .3-6.9 .3-.1 .3 6.3 .3-3.5 .3 3.8 .3-3.9 .3 1.4 .3 1.4 .3-4.1 .3-2.8 .3 2.3 .3 1.6 .3 1.5 .3 .5 .3-.1 .3 1.9 .3-4.5 .3 7.3 .3 1.9 .3-5.2 .3-.6 .3 3.3 .3-1.9 .3-1.5 .3-1.1 .3-1.9 .3-1.4 .3 5.9 .3 1.6 .3-7.2 .3 3.1 .3 1 .3-2.1 .3-1.1 .3 1.1 .3-5 .3 6 .3-.7 .3 7.7 .3-3.9 .3-4.1 .3 1.1 .3 5.4 .3-.3 .3-4.7 .3-1 .3-4.4 .3 3.5 .3 .3 .3-2 .3 7.7 .3-11.7 .3 5.3 .3 1.5 .3-.2 .3 3.7 .3-10.1 .3 1.8 .3 2.4 .3-.2 .3-2 .3-1.6 .3 5.6 .3-7.1 .3 1.1 .3 6.1 .3 .6 .3-3.1 .3-5.8 .3-.3 .3-.5 .3-1.1 .3 2 .3 5.1 .3-3.7 .3-3.4 .3-.3 .3-1.6 .3 7.4 .3-10.6 .3 7.1 .3-5.7 .3 1 .3-1.7 .3 7.6 .3-3.6 .3 8.4 .3-11.9 .3-.5 .3 5.1 .3-.4 .3-3 .3-5.9 .3 10.8 .3-3.2 .3-.9 .3-3.5 .3 3.5 .3-4.3 .3 1.5 .3-1.3 .3 3.9 .3-6.5 .3-.6 .3 3.5 .3-4 .3-2.1 .3-1.9 .3 2.6 .3-6.3 .3 2.5 .3 4 .3-6.1 .3-4.4 .3-1.8 .3 4.1 .3-4.4 .3-1 .3 2.9 .3-.7 .3 6.7 .3-7 .3 10.3 .3-6.9 .3 3.3 .3 2.4 .3-.8 .3 2.2 .3-4.9 .3-3.5 .3 7.1 .3-4.3 .3 3.9 .3 5.2 .3-3.2 .3-.9 .3-1.3 .3 3.1 .3 .7 .3-4.1 .3 6.4 .3-4 .3 4.6 .3-1.8 .3 5 .3-.1 .3-2.4 .3-.1 .3 2 .3 3.3 .3-.8 .3-2.7 .3 .7 .3 4.2 .3-10.2 .3 7 .3-4.6 .3 7.3 .3-6 .3 1.3 .3-3.2 .3 3.6 .3 2.4 .3 2.8 .3-9.4 .3 2.6 .3 9.8 .3-5.5 .3-3 .3 1.6 .3-10 .3 13.4 .3-4.8 .3-5.1 .3 8.2 .3-5.8 .3-1.4 .3 4.9 .3-.5 .3-2.8 .3 1.1 .3-4.2 .3-.4 .3 7.3 .3 1.3 .3-3 .3-.3 .3-2.6 .3 .7 .3-2.8 .3 8.4 .3-7.9 .3 2.7 .3-1.8 .3-5 .3 10.1 .3-8.1 .3-2 .3 2.1 .3-4 .3 2.2 .3-3.9 .3 4.1 .3-2.4 .3-5.4 .3 6.9 .3-3.7 .3-5.2 .3 3.5 .3-1 .3 3.2 .3-10.1 .3 4.1 .3-4.5 .3 .8 .3-4.3 .3-.8 .3 .3 .3-6.8 .3-4.3 .3 5.5 .3-2.6 .3 .6 .3 .9 .3-3.6 .3 3.8 .3-4.4 .3 .1 .3 2.1 .3-.7 .3-2 .3 1 .3-2.5 .3 1 .3 2.9 .3 3 .3-3.3 .3 5 .3 4.4 .3 1.6 .3-5.8 .3 4.4 .3-.4 .3 1.6 .3 1.2 .3 .1 .3 2.3 .3-.5 .3 .4 .3 3.7 .3 2.9 .3 4.6 .3-.5 .3 3.5 .3 4.4 .3-5.3 .3 4.2 .3 4.4 .3 0 .3-1.9 .3 7.5 .3-2.6 .3-2.4 .3 10 .3-9.6 .3 4.6 .3-1.6 .3 3.1 .3 1.9 .3-4 .3 2.8 .3 .3 .3-2.4 .3 7.3 .3-2.8 .3-1.1 .3-.9 .3 1.3 .3 1.9 .3-1.7 .3 5.8 .3-12 .3 1.6 .3 6.3 .3-4.9 .3 5.9 .3-1.7 .3 4.2 .3-.3 .3 3.1 .3-1 .3 1.3 .3-2.2 .3 2 .3-1.7 .3-3.3 .3-2 .3 .2 .3 5.6 .3-9.2 .3 8.3 .3-3 .3 4.8 .3-1.7 .3-3.1 .3 2.4 .3-7.4 .3 8.1 .3 .5 .3-7.5 .3 8.6 .3-3.3 .3 .8 .3-5.2 .3 6.4 .3-.3 .3-2 .3-3.3 .3 5.4 .3 1.4 .3-2.9 .3 1.8 .3-5.3 .3 2.2 .3 .5 .3-.9 .3 7.4 .3-6.9 .3-3.4 .3 4.3 .3-6.4 .3 4.5 .3 1.1 .3-4.2 .3 .3 .3-2.2 .3 3.3 .3-2.8 .3 7.6 .3-3.7 .3-3 .3-4 .3 10.9 .3-2.5 .3-2.8 .3-1 .3-.2 .3-2.2 .3 7.4 .3-5.4 .3-5.4 .3 2.4 .3-6.2 .3 10.3 .3 .2 .3 3.2 .3 1 .3-9.3 .3 3.9 .3 1.7 .3-.7 .3-4.2 .3 4.1 .3-1 .3 2.7 .3-4.5 .3-.7 .3-.9 .3 .3 .3-1.3 .3 1.3 .3 2.7 .3-.3 .3 2.7 .3-.8 .3-1.6 .3-5.8 .3 5.4 .3 1.8 .3-8 .3 .5 .3 .3 .3-.4 .3 2 .3-3 .3 3 .3-6.8 .3 1.6 .3-3.3 .3-3.7 .3 4.2 .3-5.5 .3-.5 .3-4.8 .3 1.5 .3-1.9 .3-3.6 .3-5.9 .3 8 .3-.2 .3-1.1 .3 1.1 .3 .8 .3 1.7 .3-2.3 .3 4.8 .3 3 .3-1.1 .3 .8 .3 10.9 .3-2.3 .3-1.3 .3 .8 .3-5.7 .3 4.8 .3 4.4 .3 5.6 .3-10.1 .3 4.9 .3 9 .3-3.4 .3-.3 .3 3.1 .3-3.7 .3 .3 .3 3.4 .3 .9 .3-5.7 .3 8.7 .3-10.1 .3 3.7 .3 10.7 .3-9.5 .3 4 .3-5.1 .3 2.4 .3-1.2 .3 1.2 .3 3.4 .3 3.5 .3-2.8 .3 2.1 .3-6.8 .3 6.2 .3-3.1 .3 2.3 .3-6 .3 .2 .3 4.8 .3-2.8 .3-2 .3-3 .3 1.4 .3 1.4 .3 .2 .3-4.6 .3 .1 .3 1.9 .3-5.5 .3 6 .3-3.7 .3-1 .3-7.9 .3 2 .3 1.2 .3 .8 .3-2.3 .3 4.1 .3-1.3 .3-1.9 .3-6.2 .3 10.4 .3-6 .3 2.2 .3-4.8 .3 1.4 .3 1.4 .3-2.3 .3 1.5 .3-4.5 .3 6 .3-13.3 .3 3.4 .3 4 .3-4.8 .3-1.4 .3-5.1 .3 8.7 .3-10.6 .3 7 .3-1.6 .3 1.6 .3 1.3 .3-7.3 .3-.7 .3 1.3 .3-4.6 .3 7.9 .3-4.1 .3 1.6 .3-4.3 .3 3.5 .3-2.2 .3 1.5 .3-3.4 .3 6.7 .3-5.5 .3-6.3 .3 10.1 .3-3.1 .3-2 .3 10.8 .3-8.3 .3-4.2 .3 2.3 .3 3.1 .3-2 .3 4.7 .3-.6 .3-6 .3 2.7 .3 2 .3-3.2 .3 .1 .3 4.6 .3-1 .3-5.5 .3 3.2 .3 1 .3 1.5 .3-1.4 .3 7.3 .3-6.8 .3 .3 .3 4.8 .3-7.2 .3 4.6 .3 6 .3-5.6 .3 2.2 .3 6.8 .3-1.3 .3-.7 .3 1.1 .3-2.4 .3 3.7 .3-1.1 .3 9.3 .3-5.7 .3-2.1 .3 1.5 .3 1 .3-3.9 .3 2.4 .3 8.2 .3-8.7 .3 3.2 .3 5.8 .3 2.1 .3-7.5 .3 8.4 .3-5.3 .3 6.9 .3-3.4 .3-2.2 .3 3.5 .3-.3 .3-4.2 .3 9.4 .3-8 .3 4.7 .3-5.4 .3-4.6 .3 2 .3 2.9 .3 2.2 .3 3 .3-5.8 .3-1.7 .3-3.5 .3 3.3 .3 .6 .3-8.5 .3 10.8 .3-1 .3 3.2 .3-10.6 .3 2.7 .3-.4 .3-4.6 .3 1.3 .3-.6 .3 4.7 .3-.3 .3 3.1 .3-5.3 .3-2.7 .3 6.4 .3 .4 .3 1.7 .3 2.6 .3-5 .3 5.3 .3-4.9 .3 4.5 .3 2.5 .3-1.8 .3 1.7 .3-4.6 .3 2.8 .3 2.9 .3-4.2 .3 1.1 .3 10.5 .3-7 .3-3.4 .3-.7 .3 7.7 .3-12.6 .3 7 .3 3 .3-3.8 .3 3.5 .3-5.1 .3 3.3 .3 .2 .3-.1 .3 .4 .3-.4 .3 3.5 .3-4.4 .3-1.1 .3 1 .3-.1 .3-3.9 .3-1.2 .3 1.8 .3 5.2 .3-3.1 .3 .9 .3 10 .3-5.1 .3-4.3 .3-1.4 .3 6.3 .3-7.1 .3 6.1 .3-2.5 .3 2 .3-7.3 .3 4.6 .3-9.3 .3 4.6 .3 3.3 .3-1.9 .3-8.8 .3 7.4 .3-1.4 .3-2.2 .3-2.6 .3 .9 .3-1.3 .3 4.5 .3-1.9 .3 1.5 .3-1.6 .3-6.7 .3 4.2 .3 6 .3-10.8 .3 4.2 .3-3.8 .3-.6 .3 3.2 .3 2 .3-.6 .3-1.2 .3 1.4 .3-8.3 .3 7.8 .3-1.3 .3-1.9 .3 .7 .3-2.5 .3 6.7 .3-5.9 .3-2 .3 5 .3-1.5 .3 2 .3 5.5 .3-4.9 .3 1.2 .3 7.3 .3-11.4 .3 6.1 .3 3 .3 1.5 .3 2.7 .3-9 .3 4.4 .3-2 .3-.9 .3-.7 .3-2.2 .3 5.9 .3 1.4 .3-5.7 .3 6 .3-4.1 .3-1.4 .3-4.5 .3 11.5 .3-1.1 .3-3.3 .3-.1 .3-2.9 .3 6 .3-1.8 .3 2 .3-1.1 .3-5 .3-.5 .3 6.4 .3-6.7 .3 6.3 .3 2.1 .3-7 .3 6.3 .3-2 .3 1.6 .3-3.8 .3 2 .3 1.3 .3 4.5 .3-3.6 .3-.8 .3-5.9 .3 5.2 .3-3.4 .3 1.9 .3 1 .3 2.1 .3-1.3 .3-1.4 .3-.9 .3 4.5 .3-7.3 .3 2.9 .3 4.2 .3-5.1 .3 3.3 .3 .2 .3 3.4 .3-2.7 .3-8.9 .3 5.5 .3 1.1 .3 2 .3-1.2 .3 5.2 .3-2.1 .3-6.9 .3 2.2 .3-4.1 .3 12.8 .3-5.5 .3 .5 .3-4 .3 4.2 .3 3.4 .3-2.1 .3 .6 .3-.2 .3 9 .3-7.7 .3-2.4 .3 3.5 .3 .9 .3 1.2 .3 0 .3-2.4 .3 3.4 .3 2.3 .3-5.3 .3 11.4 .3-.4 .3-10.9 .3 5.2 .3 4.9 .3 1.5 .3 1.9 .3-11.3 .3 2.8 .3 2.3 .3 3.8 .3-4.9 .3 5.2 .3 .4 .3 1.1 .3-6.3 .3 5 .3-.2 .3-1.5 .3 5.7 .3-5.1 .3 5.7 .3-6.5 .3 7.5 .3-.1 .3-8 .3 3.9 .3 0 .3-4.2 .3 5.8 .3-.5 .3-4.8 .3 3.2 .3 2.7 .3-3.4 .3-1.7 .3 7.7 .3-8.5 .3 4.3 .3 2.6 .3-1 .3-8.5 .3 4.9 .3 .7 .3-.2 .3 2.7 .3-.2 .3-1.3 .3 .5 .3 2.5 .3 .8 .3-10.2 .3 13.3 .3-8.9 .3 4.4 .3-7.8 .3 3.6 .3-2.4 .3 7.7 .3-.6 .3-2.9 .3-.5 .3 1.8 .3-4.2 .3 1.1 .3-.5 .3 5.2 .3-2.6 .3-4.2 .3 5.3 .3 .7 .3 2.8 .3-6.3 .3 3.2 .3 5.5 .3-7.8 .3-.1 .3 2.9 .3-3.3 .3 1.7 .3-1.6 .3-.9 .3 5.5 .3-4.1 .3-2 .3 2.4 .3 .5 .3 1.5 .3 2.1 .3 2.7 .3-9.7 .3 3.2 .3-5 .3 6.6 .3 1 .3-3.7 .3-.9 .3-.2 .3-1.6 .3 6.9 .3 4.2 .3-9.8 .3 9 .3-5.7 .3-4.1 .3 6.4 .3 .6 .3-1.1 .3-2.1 .3 6.3 .3-6.3 .3 3 .3 0 .3-5 .3-3 .3 .4 .3 4.3 .3 2.5 .3-6.9 .3 3.4 .3 7.3 .3-10.8 .3 7.4 .3-.4 .3 1.4 .3-7.3 .3 5.9 .3-5.6 .3 8.8 .3-7.1 .3 4 .3-3.8 .3 3 .3-5.4 .3 5.9 .3 1 .3-2 .3 5.3 .3-4 .3 1.3 .3-.9 .3 4.5 .3-8.2 .3 1.2 .3 .2 .3 2.7 .3-1.2 .3 1.9 .3-1.7 .3-2.7 .3 1.5 .3 1.6 .3-8.8 .3 11.9 .3-6.3 .3 .7 .3 2 .3-1.7 .3-3.9 .3 4 .3 5.3 .3-1.1 .3 .6 .3-5.8 .3 1.1 .3 4.1 .3 1.5 .3-4.8 .3-3.2 .3-3.1 .3 10.9 .3-9.6 .3 6.4 .3 1.5 .3 5.5 .3-7.8 .3-1 .3 1.9 .3 .2 .3 2.7 .3-2.1 .3-4.8 .3-4.4 .3 7.9 .3-3.2 .3 6.9 .3-8.9 .3 4.9 .3-3 .3-.5 .3 8.4 .3-5 .3-1.1 .3 2.9 .3-5.1 .3 1.2 .3-1.2 .3 8.4 .3-5.8 .3 .7 .3 1.2 .3-4.8 .3-.4 .3-5.4 .3 6.5 .3-1.3 .3-2.8 .3 4.6 .3-11.2 .3 5.3 .3-8.4 .3-2 .3 .2 .3 2.4 .3-10.8 .3-1.4 .3-2 .3 10.2 .3-4.5 .3 .9 .3 7.5 .3-3.6 .3-5.1 .3 8.2 .3 .6 .3 13.4 .3-9.2 .3 7.5 .3-1.7 .3 .6 .3 1.9 .3-.3 .3-1.5 .3-1.6 .3 2.2 .3-1.1 .3 .6 .3 3.7 .3-.8 .3 2.3 .3-2.2 .3 7.3 .3-8.7 .3-.7 .3 6.8 .3-5.7 .3 2.9 .3 2.9 .3-3.5 .3-.8 .3 4.4 .3-2.1 .3-2.8 .3-2.2 .3 2.7 .3-4.3 .3 2.6 .3-.8 .3 4.6 .3 1.6 .3-4.8 .3 .6 .3-2.2 .3-1 .3 3.1 .3 3.2 .3-.4 .3 .3 .3-2.9 .3-7.5 .3 11.3 .3 1.2 .3-1.5 .3-.2 .3 .6 .3 4.6 .3-7.4 .3 3.9 .3-2.6 .3-.6 .3-3 .3-1.1 .3-3 .3 5.1 .3-3.5 .3-3.6 .3 .8 .3-2.2 .3 8.5 .3-6.9 .3 .4 .3-5.2 .3-.3 .3 6.1 .3-5.2 .3 .7 .3 4.5 .3 .1 .3-5.5 .3-1.5 .3-1.5 .3-2.5 .3 7 .3-11.4 .3 3.1 .3-6.8 .3 1.5 .3 4.9 .3-.6 .3-1.1 .3-3 .3-2 .3-.2 .3-.3 .3 4.2 .3 .4 .3-4.1 .3-4 .3-2 .3 3.4 .3-2.4 .3-5.9 .3 10 .3-5.2 .3-1.5 .3-2.4 .3-.4 .3 5.5 .3-6.5 .3 3.1 .3 1.6 .3 3.8 .3-4.2 .3-2.2 .3-1.3 .3 4.4 .3 .7 .3-4.4 .3 3.7 .3-2 .3-4.4 .3 2.5 .3 6.6 .3 2.7 .3-2 .3-2.5 .3-1.2 .3 4.6 .3-.3 .3-6.2 .3 7.8 .3-4.4 .3 4.6 .3-.6 .3 .3 .3 .7 .3-1.8 .3-6.6 .3-.7 .3 6 .3-2.8 .3-7.7 .3-2.4 .3 8.7 .3 3.6 .3-5.4 .3-4.3 .3 1.1 .3-9.7 .3 4.7 .3 6.5 .3-.5 .3-9.9 .3 11.1 .3-2.1 .3 1.5 .3-3.7 .3 .9 .3-3.4 .3 4.8 .3 2.2 .3-5.9 .3 4.7 .3-2.7 .3 5.5 .3 .1 .3-10.7 .3 9.7 .3 2.2 .3-4.9 .3 1.7 .3 .9 .3-2.4 .3 4.5 .3 6.8 .3-2.2 .3 4.9 .3-.3 .3 2.2 .3-2.1 .3 3.7 .3 5.5 .3-.5 .3-2.6 .3-2.3 .3 .2 .3 4.5 .3 1.2 .3-7.3 .3 7.1 .3 .7 .3 .1 .3-2.6 .3 9.7 .3-4.6 .3-7.2 .3 2.4 .3 5.2 .3-.8 .3-1.1 .3-.4 .3-.5 .3-.6 .3-1.8 .3 5.4 .3-10.1 .3 6 .3 6.6 .3-6.7 .3-1.3 .3 10.3 .3-2.8 .3-4 .3-1.5 .3 1 .3-.6 .3 0 .3-2.1 .3 3.8 .3-4.2 .3-4.8 .3 1.2 .3 3.6 .3-3.9 .3-5.4 .3 12.6 .3-3.8 .3-3.7 .3-.5 .3 3.2 .3 2.7 .3-6.7 .3 3.5 .3-3.3 .3 3.3 .3-4.7 .3-2 .3 6.6 .3-.2 .3 3 .3-4.3 .3 7.1 .3-3.8 .3 5.2 .3-5.9 .3 6.5 .3-4.8 .3 1.1 .3 3 .3-8.7 .3 2.6 .3 10 .3-10.8 .3 3.8 .3 3.8 .3 3.4 .3-6.1 .3 2.5 .3-3.8 .3 2.9 .3 5.1 .3-1.9 .3-.8 .3 1.9 .3-.6 .3 .4 .3-1.4 .3-1.8 .3 5.8 .3-5.9 .3 7.4 .3 3.8 .3-1.9 .3 2.8 .3-11.1 .3 4.2 .3-3.7 .3 .1 .3-3.5 .3 1.3 .3 6.5 .3-.9 .3 1.2 .3-.8 .3-1.7 .3-5.8 .3 1.8 .3 2.2 .3 1.2 .3-6 .3-.9 .3-.3 .3 6.3 .3-3.8 .3-3.3 .3-1.8 .3 3.7 .3-7.2 .3 4.7 .3-1.1 .3 0 .3 2.6 .3 .7 .3 7 .3-7.9 .3 2.1 .3-4.9 .3-2.7 .3 9.3 .3 2.8 .3-9.6 .3 3.2 .3 4 .3-3.2 .3-8.1 .3 11.4 .3-3.6 .3 3 .3-5.4 .3 6.3 .3 .9 .3-5.4 .3 4.4 .3-3.2 .3 1 .3-.7 .3 2.2 .3-.1 .3 6.7 .3-3.9 .3-2.2 .3 8.9 .3-2.1 .3 2.2 .3-2.8 .3 3.1 .3-2 .3-2.3 .3 4 .3 .6 .3 .4 .3 2.6 .3-8.2 .3 6.9 .3-3.5 .3 1.9 .3 2.6 .3-1.1 .3-2.3 .3 4.9 .3-2.6 .3 3.4 .3 1.1 .3-5.1 .3-2.3 .3 4 .3 2.5 .3-1.5 .3-4.8 .3-1.6 .3 2.6 .3 0 .3 5.3 .3-1.7 .3 2.7 .3-3 .3 5.8 .3-5.3 .3 1.9 .3-3.1 .3 2.9 .3 2.2 .3-.9 .3 1.8 .3-6 .3 3.6 .3 4.2 .3-4.6 .3-1.2 .3-.1 .3-.8 .3 2.4 .3 4.2 .3-2.9 .3-1.4 .3-2.4 .3-.9 .3 11.6 .3-9.1 .3 2 .3-1.8 .3 2.3 .3-1.9 .3 1.9 .3 4.5 .3-7 .3 4.2 .3-1.9 .3 2.7 .3-4.5 .3 3.6 .3-4.5 .3-2.7 .3 1.7 .3 1.1 .3-.6 .3 2.6 .3 4.6 .3-7.3 .3 5.2 .3-1 .3-2.8 .3-.8 .3 4.4 .3 .2 .3-2.8 .3 .7 .3 .4 .3-4.3 .3 4.6 .3 .6 .3 4.7 .3-9.9 .3 1.3 .3 3 .3-2.2 .3 .6 .3 1.2 .3-1 .3 .8 .3 1.5 .3-6.7 .3 7 .3-9.1 .3 12.7 .3-2.6 .3-5 .3 5.2 .3-3.8 .3 1.8 .3 1 .3-1.4 .3-1.2 .3 1.9 .3-2.6 .3-.7 .3-1.9 .3-2.8 .3 10.8 .3-2.6 .3-7.1 .3 5.7 .3-.7 .3-7.8 .3 4.3 .3 2.3 .3 5.8 .3-2.1 .3 .5 .3-3.1 .3 2.1 .3-7.1 .3 5.7 .3 .3 .3-6.5 .3 4.8 .3 4 .3 1.2 .3-1.7 .3-6.9 .3 1.9 .3-1.5 .3 5.5 .3-6.7 .3-.8 .3-2 .3 5.7 .3 .6 .3-3.4 .3-.7 .3 1.7 .3 4.7 .3-8.8 .3 4 .3 .7 .3 .3 .3 2.7 .3-1.6 .3-2 .3 3.7 .3-1.3 .3-2.9 .3-.3 .3-4.8 .3 4 .3-3.1 .3-1.3 .3 2.5 .3-4.8 .3 2.5 .3 1 .3 2.5 .3-2.3 .3 2.1 .3 3.6 .3-2.6 .3-6.5 .3-2.2 .3 2.6 .3-.1 .3-3.6 .3 .7 .3-.2 .3 3.4 .3 6.4 .3 .7 .3-8.8 .3 1.6 .3-3 .3-.9 .3 4.8 .3 .3 .3-2.2 .3 3.9 .3-3.1 .3 4.5 .3-5.1 .3 4.3 .3-3.4 .3 1 .3 1.6 .3-6.2 .3 1.9 .3 2.2 .3-.7 .3 1.8 .3-3.4 .3-1.6 .3 3.9 .3 1.3 .3-3.4 .3 6.5 .3-1.6 .3 .6 .3-.2 .3-5.1 .3 9.6 .3-9 .3 3.6 .3 1.3 .3-1.2 .3-.3 .3-3.1 .3 1.4 .3 1.5 .3 4.2 .3-6.2 .3 4.5 .3-.7 .3-1 .3-1.9 .3 1.4 .3-4.9 .3 6 .3 .8 .3-2.6 .3 3.5 .3-.6 .3-3.2 .3 5.2 .3-4.3 .3 9.5 .3-10.8 .3 .8 .3 .6 .3 3 .3 3 .3-3.3 .3-1.5 .3 7.5 .3-2.7 .3-4.1 .3 .7 .3-4.5 .3 5.2 .3 5.4 .3-9.1 .3-.7 .3 5 .3-7.9 .3 12.1 .3-9.2 .3 2.6 .3 1.9 .3 4.4 .3-2.5 .3-7.3 .3 .8 .3 6.1 .3-7.3 .3 5.9 .3-1.7 .3 5.3 .3 1.4 .3-11.8 .3 9.5 .3 .7 .3-4.4 .3 .7 .3-1.9 .3 2.8 .3 2.5 .3 3.1 .3 .4 .3-5.4 .3-1.7 .3 6 .3-11.3 .3 3.8 .3 6.6 .3 5.1 .3-9.5 .3 2.9 .3-3.9 .3 3.4 .3 .1 .3-2.1 .3 3.7 .3-1.8 .3 2.2 .3-2.2 .3-3.2 .3 4.4 .3 2.3 .3-5.3 .3 6.8 .3-3 .3-2.7 .3 1 .3-1.7 .3-1.8 .3 5.5 .3-.4 .3-4.8 .3 .5 .3-.6 .3 2.5 .3 2 .3-7.3 .3 2.6 .3-1.5 .3 1.3 .3 2.4 .3-7.9 .3-4.3 .3 5.6 .3-5 .3 10.1 .3-8 .3 1 .3 1.4 .3-.4 .3-2.2 .3 1.1 .3 3 .3-4.1 .3 6.9 .3-4.7 .3-8.5 .3 10.8 .3-8.1 .3 7.2 .3 6.7 .3-3.2 .3-6.5 .3 1.7 .3 3.3 .3 5.2 .3-6.3 .3 6.5 .3-2 .3-.8 .3 .2 .3 6.3 .3-10 .3 1.3 .3 6.7 .3 .3 .3-7.2 .3 1.3 .3-.7 .3 5.6 .3-3.8 .3 6.7 .3-2 .3-1.5 .3-.2 .3 1.2 .3 1 .3-2.6 .3 .9 .3 1.7 .3-2.6 .3 3.4 .3-3.5 .3-2 .3 3.1 .3 4.8 .3-.5 .3-9.9 .3 6.2 .3-2.5 .3 .6 .3 0 .3 .4 .3-.9 .3 .8 .3 1.6 .3-4.5 .3-.1 .3 .4 .3 0 .3 5.6 .3-5.4 .3 3.3 .3 .5 .3 2.1 .3-2.1 .3 3.3 .3-3.6 .3 1.1 .3 1.6 .3-7.1 .3 6 .3 3.6 .3-4.5 .3-1.1 .3 6.9 .3-5.7 .3 3.6 .3-11.5 .3 7.9 .3-1.9 .3 2.9 .3 2.5 .3-4.2 .3-.3 .3-7.6 .3 10.9 .3 1.7 .3-3.7 .3-2 .3 2.7 .3 2.1 .3-1.2 .3 4.6 .3-8.5 .3-2.5 .3 5.9 .3 2.5 .3-5.6 .3 1.5 .3-2.1 .3-1.9 .3 1.6 .3-4.2 .3 7.5 .3 .6 .3 1.3 .3-5.5 .3 .6 .3-3.3 .3 .7 .3 7.5 .3 5.5 .3-11.8 .3 2.2 .3 4.2 .3-5.2 .3 4.1 .3-2.9 .3 0 .3 3.9 .3-3.7 .3-3.3 .3 6.7 .3-2.6 .3-1.8 .3-.8 .3 4.4 .3-4.2 .3 2.7 .3 2.8 .3-3.5 .3 3.8 .3-7.9 .3 6.3 .3-.2 .3 4.3 .3-6 .3 2.8 .3-3.4 .3-2.9 .3 .6 .3 .5 .3 4.8 .3-5 .3 2.6 .3 2.7 .3 1.1 .3-1 .3 1.8 .3-8.4 .3 2 .3 2.6 .3 2.5 .3-1.9 .3-4.1 .3 1.8 .3-4.7 .3 7.9 .3-8.3 .3 6.4 .3 2.7 .3-.6 .3-8 .3 5.8 .3-1.8 .3 .1 .3 6.2 .3-4.3 .3-5.5 .3 1.1 .3 5.7 .3-1.6 .3-4.3 .3-1.8 .3 3.6 .3 .3 .3 4 .3-4.6 .3 4.1 .3 1.7 .3-9 .3 3.2 .3 6.8 .3-6.4 .3 1.4 .3 3.1 .3-5.5 .3 1 .3-4 .3 7.1 .3-3.4 .3 .4 .3-7.1 .3 11.3 .3-.9 .3-4.8 .3 6.4 .3-11.8 .3 7.6 .3-5.3 .3 13.9 .3-16.7 .3 4.2 .3 1.4 .3 4.9 .3 .1 .3-1.5 .3-2.1 .3 7.6 .3-9.2 .3 3.2 .3 4.5 .3-9.6 .3 1.3 .3 6.1 .3-2.2 .3-5.7 .3 4.2 .3 6 .3-7 .3 3.3 .3-2.2 .3-2.7 .3 7.3 .3-2.2 .3 .7 .3-4.4 .3 .7 .3 .4 .3 .6 .3-2.6 .3-.6 .3 5.8 .3-7.8 .3 2 .3 .1 .3-.5 .3-2.3 .3 1.4 .3 5 .3-3.8 .3-1.3 .3 7.7 .3-9.7 .3 7.5 .3-2.2 .3-5.6 .3 3 .3 0 .3 5.4 .3-1.3 .3-3.8 .3-3 .3-1.7 .3 4.9 .3-4 .3 3.9 .3-.1 .3 1.8 .3 2 .3-2.9 .3 1.2 .3-2.1 .3 3.9 .3-.8 .3 2.5 .3-.7 .3-6.7 .3-2.4 .3 6.8 .3 1.6 .3-5.8 .3 6.9 .3-4.5 .3-.6 .3 1.4 .3-5.6 .3-.8 .3 4.2 .3-2.7 .3 3.7 .3 0 .3-7.9 .3 5.4 .3 4.2 .3-9.1 .3 6.3 .3-3.2 .3-2 .3 9.9 .3-.1 .3-4.9 .3-.2 .3 6 .3-.6 .3-3.9 .3 2.9 .3-2.5 .3-1.3 .3 2.9 .3-3.3 .3 3.3 .3-2.7 .3-.7 .3-.4 .3 3.3 .3 1.6 .3-1.7 .3-4.1 .3 4.7 .3-4.8 .3-.8 .3 3 .3 3.3 .3-.4 .3-.4 .3 2.6 .3-1.6 .3-4 .3 3.7 .3-3.4 .3 2.1 .3 .6 .3-2.2 .3-4.6 .3 4.2 .3-.6 .3 .5 .3-1.1 .3-2.4 .3-1.7 .3 7.1 .3 .2 .3-1.5 .3-1.5 .3 6.2 .3-4.3 .3-2.3 .3 2.3 .3-3.1 .3 2.3 .3-1.6 .3 .5 .3-1.7 .3-2 .3 2.8 .3 1.7 .3-6.8 .3 .9 .3-2 .3 5.9 .3-4.1 .3 2.9 .3-6.2 .3 4.3 .3-5.5 .3-.6 .3 2.1 .3-4 .3-1.7 .3 3.8 .3-3.9 .3 3.5 .3 3.5 .3-10.2 .3 .5 .3-3.7 .3 1.6 .3 6.4 .3 .1 .3 1.2 .3 2.1 .3-2.6 .3-1 .3 10.4 .3-1 .3 4.4 .3-2.3 .3 3.7 .3-3.1 .3 2.3 .3-.2 .3 1.8 .3 3.2 .3-2.4 .3-10.2 .3 7.9 .3 .3 .3 2.5 .3-2.1 .3-2.6 .3-.3 .3 1.4 .3-1.1 .3 6.7 .3-2.6 .3-1.7 .3 2.9 .3 3.7 .3-7.4 .3 .5 .3-.8 .3-3 .3 1.9 .3-.9 .3 4.4 .3 0 .3 1.3 .3-5.2 .3 5.6 .3-6.3 .3 2.6 .3 4.6 .3-.2 .3-.4 .3 3.2 .3-3.3 .3-4.1 .3 .1 .3-1.8 .3 3.2 .3-3.1 .3 .4 .3-1.1 .3-2.3 .3 13.2 .3-5 .3-9.4 .3 8 .3-3.2 .3-5 .3 6.1 .3 1.4 .3 1.1 .3 1.7 .3-6.2 .3 2.5 .3 2.3 .3-.4 .3-.5 .3-.9 .3 3.6 .3-7.9 .3-.7 .3 10.2 .3-4.2 .3 2.2 .3-2.8 .3-1.8 .3-.3 .3 1.9 .3-2 .3 1.3 .3 0 .3 2.8 .3-.1 .3 2.6 .3-7.3 .3 2.1 .3 3.1 .3-1.9 .3-8.8 .3 8.8 .3-1.2 .3-1.4 .3 .1 .3-.9 .3 5.9 .3-1.5 .3-1.5 .3 2.8 .3-.6 .3-5.6 .3-.7 .3 .1 .3 5.5 .3-2.4 .3 3.9 .3-2.2 .3-2.3 .3-3.4 .3 3.1 .3 7.8 .3-9.2 .3-.5 .3 1.9 .3 4.9 .3-4.4 .3-3.4 .3 1.5 .3 1.5 .3 .6 .3 2.9 .3 4.6 .3-3.6 .3-2.3 .3-2.1 .3-2.5 .3 4.3 .3 2.1 .3-1.5 .3-3 .3 2.4 .3-2.8 .3 .1 .3-.2 .3 .9 .3-.6 .3 3.4 .3-3.3 .3-.3 .3 3.5 .3-1.2 .3 1.3 .3-6 .3 6.4 .3-4.3 .3-3.4 .3 2.7 .3-3.5 .3 .6 .3 1.7 .3 4.1 .3-7.4 .3 5 .3-1.9 .3 5.5 .3-4.5 .3 1.1 .3 2.3 .3-8 .3 2.2 .3-3.8 .3 1.8 .3 3.4 .3-1.7 .3 1.5 .3-2.7 .3-1.1 .3 1.5 .3-2.6 .3-.9 .3-1.8 .3 4.3 .3 1.5 .3-5.4 .3 2.1 .3-5.9 .3 3.2"/>
<path d="M157 1176.3l.3 1.7 .3 6.4 .3-3.3 .3-7.7 .3 5.7 .3-1.9 .3 2.7 .3-5.8 .3 6.4 .3 .1 .3 4.7 .3-4.2 .3 .8 .3-6.7 .3 12.9 .3-14.1 .3 10.4 .3-4.8 .3-1.7 .3 .9 .3 0 .3 3.8 .3-1.6 .3 5.6 .3-11.2 .3 6.3 .3-2.9 .3 5.8 .3-9.7 .3 6.1 .3 2.1 .3-5.7 .3 8.5 .3-2.6 .3 3 .3-.1 .3-6.5 .3 .7 .3 2.2 .3 3.4 .3 .4 .3-5.2 .3 .5 .3-.6 .3 .9 .3 1.3 .3 .5 .3 7.6 .3-8.7 .3 .9 .3 2.6 .3-4.7 .3 2.1 .3 1.5 .3 2.7 .3-7.1 .3 9.4 .3-5.8 .3 1.9 .3 2.4 .3-.5 .3 1.5 .3-3 .3-.5 .3 1.2 .3-4.3 .3 7.7 .3-6.8 .3-1.5 .3 11.5 .3-7.4 .3-3.5 .3 10.5 .3-7.4 .3 4.9 .3-6.4 .3 2.1 .3-4.8 .3-.6 .3 3.3 .3 3.2 .3 3.1 .3 5.7 .3-11.8 .3 7.2 .3-5.5 .3 1.7 .3-4.5 .3 .2 .3 2.5 .3-1.3 .3 4.2 .3-2.3 .3 6.8 .3-3.7 .3 .2 .3 3.5 .3-2.1 .3-1.8 .3-.1 .3 0 .3 4.3 .3-.9 .3-1.4 .3 1.6 .3-4.5 .3 3.7 .3-6.5 .3 9.6 .3-4.2 .3 .4 .3 1.5 .3-2 .3-.7 .3 5 .3-3.6 .3-3.5 .3 4.8 .3-7.3 .3 11.7 .3-6.3 .3 .9 .3 7.7 .3-.3 .3-6.9 .3 1.8 .3 1.7 .3 2.1 .3-6.2 .3 1 .3 3.9 .3-3.3 .3 1.8 .3-.5 .3-5.9 .3 1 .3-6 .3 8.2 .3 5.6 .3-8.4 .3 8.2 .3-.7 .3-3.6 .3 .2 .3 .4 .3-3.2 .3 2 .3 .9 .3 2.4 .3 .7 .3-5.3 .3 5.5 .3-5.5 .3 2.2 .3 1.9 .3-1.3 .3-.3 .3 1.4 .3-2.8 .3-.3 .3 1.7 .3 4.1 .3-3.7 .3 7.1 .3-5.9 .3-9.7 .3 7.6 .3 7.4 .3-5.8 .3-1.5 .3-1.4 .3 7.7 .3-1.1 .3-1.1 .3-.8 .3 3.6 .3-2.1 .3-7.1 .3 7 .3-2 .3-.9 .3 3.1 .3-2.5 .3-9.2 .3 14.6 .3-1.7 .3-4 .3-.9 .3 2.2 .3-5.2 .3 5.6 .3-1.9 .3-.3 .3-2 .3 .9 .3 6.3 .3 .9 .3-2.9 .3-1.8 .3-2.9 .3 5.6 .3 3.2 .3-11.2 .3 9.8 .3-11.7 .3 6.5 .3 2.6 .3-6.1 .3-.5 .3 6 .3 2.5 .3-4.7 .3 6.4 .3-7.4 .3 9 .3-5.7 .3 .4 .3 1.4 .3-1 .3 5.4 .3 1.3 .3-5.8 .3-2.4 .3-3.5 .3 1.5 .3 2.7 .3-.3 .3 .2 .3 .2 .3 1.8 .3-6.4 .3 1.1 .3 7.6 .3-.9 .3-4.8 .3 6.4 .3-6.9 .3 1.6 .3-5.5 .3 9.4 .3-3 .3 3.9 .3-1.3 .3-2.1 .3 .3 .3 3.7 .3-4.8 .3 .1 .3 .8 .3 2.6 .3 .5 .3 3.5 .3-7 .3 4.8 .3-6.7 .3 4.4 .3-1.6 .3 5.7 .3-4 .3-3.7 .3 3.7 .3-.8 .3-2.3 .3 .1 .3-2.3 .3 12.3 .3-8.5 .3 3 .3-7.5 .3 .3 .3 3.3 .3 0 .3 3.4 .3-6.4 .3 5.5 .3 3.5 .3-8.6 .3 6.4 .3-6.6 .3 4.7 .3 .1 .3 4.8 .3-8.6 .3 3.1 .3 3.1 .3-7.8 .3 4.1 .3-3 .3 .6 .3 4.9 .3 .1 .3 6.5 .3-4.1 .3-.3 .3-5.2 .3-.4 .3 1.5 .3-8.5 .3 14 .3-8.3 .3-1.4 .3 2.2 .3 4.7 .3 1.3 .3-5.7 .3 2.9 .3-1.8 .3-3.3 .3 4.1 .3-.5 .3-5.5 .3 9.3 .3-9.4 .3 6.4 .3-4.6 .3 .9 .3 .4 .3 5 .3-7 .3 3.8 .3 6.2 .3-8 .3 2.4 .3 2.5 .3-4.5 .3 3.8 .3-4 .3 4.8 .3-2.2 .3-3.6 .3 8.4 .3-5.4 .3-.6 .3-2.3 .3 1.6 .3 1.4 .3 .9 .3 3.3 .3-8.6 .3 3.5 .3 5.5 .3-3.6 .3 .8 .3 4.2 .3-4.4 .3 .4 .3-1.8 .3 6.5 .3-2.6 .3-6.3 .3 4.6 .3-6.1 .3 8 .3-1.5 .3-3 .3-.8 .3-5 .3 9.2 .3-3.2 .3-.7 .3 3.7 .3-4.9 .3 .3 .3-.4 .3-2.4 .3 13.5 .3-9.3 .3-.6 .3 4.5 .3-12.5 .3 9.2 .3 .2 .3-3.6 .3 5.2 .3-8.9 .3 7.2 .3 3.2 .3-11.2 .3 2.7 .3 4.6 .3 .5 .3-2.3 .3 3.6 .3-.5 .3-5.7 .3 4.4 .3-4.2 .3-2.9 .3-1.2 .3 12.3 .3-4.2 .3 7.5 .3-12.3 .3 4 .3 2.5 .3-1.8 .3 2.4 .3-1.3 .3-2.7 .3-6.2 .3 5 .3 9.6 .3-3.4 .3 2.2 .3-7.1 .3 1.5 .3-2.5 .3 4.6 .3-1.2 .3 1.4 .3 4.8 .3-9.4 .3 5.7 .3-7.7 .3 9 .3-5.6 .3 1.4 .3 .7 .3 5.5 .3-6.1 .3-1.7 .3-2.5 .3 5.3 .3-4.1 .3 1.3 .3 1.7 .3 2.5 .3-5 .3 5 .3 3.9 .3-11.7 .3 10.3 .3 2.8 .3-9.9 .3 4.3 .3-7.2 .3 6.2 .3-2.4 .3 2.3 .3-4.5 .3 .4 .3 1.3 .3-1 .3 .4 .3 1.4 .3-3.3 .3 3.5 .3 2.3 .3-10.2 .3 9.1 .3-3.4 .3-1.4 .3-.8 .3 1.7 .3 .4 .3 3.9 .3-5.8 .3 8.3 .3-6.7 .3 5.4 .3 1.5 .3-8.4 .3 8.4 .3 4 .3-9.5 .3 3.8 .3-2.6 .3 .8 .3-.9 .3-1.1 .3 4.4 .3 .6 .3-3.2 .3 5.6 .3-1.6 .3-1.4 .3-5.1 .3 9.5 .3-2.1 .3-12.6 .3 3.8 .3 2.3 .3 5.1 .3 1.1 .3-5.6 .3 2 .3 1.6 .3-7.2 .3 6.8 .3-3.2 .3 1.7 .3-.8 .3-4.1 .3 .6 .3 3.8 .3 .3 .3-1.4 .3 4.8 .3-5.2 .3-3.1 .3 3.1 .3 .6 .3 .2 .3 4.7 .3-2.4 .3 2 .3-1.6 .3-2.9 .3 4.4 .3-4.7 .3 1.8 .3-4.6 .3 4.1 .3-1.6 .3 2.5 .3 5.3 .3 2 .3-4.9 .3-3.9 .3 3.1 .3-2.2 .3-3 .3 2 .3-.7 .3-1.4 .3 7.3 .3-7 .3 .1 .3 4.4 .3-5.1 .3-1.7 .3 1.1 .3 4.8 .3-.4 .3-.3 .3-2.8 .3-1.6 .3 6.6 .3-8.6 .3 4.5 .3-4.1 .3 3.3 .3 1 .3 5 .3-14.1 .3 14.6 .3-8.3 .3 4.3 .3 1.9 .3-5.8 .3 2.5 .3 2.1 .3-2.3 .3-2.3 .3 3.4 .3-.3 .3-5.9 .3 10.5 .3-4.2 .3-9.8 .3 5.8 .3 9.4 .3-.5 .3-4.9 .3-7.2 .3 5.3 .3 4.7 .3-2.4 .3-2.7 .3-1.6 .3 5.8 .3-3.9 .3 1.9 .3 .6 .3 4.2 .3-5.4 .3 .3 .3-7.6 .3 10.6 .3-.8 .3-3.4 .3-8.4 .3 6.3 .3 2.3 .3 7.4 .3-5.6 .3 .7 .3 .1 .3 1.9 .3-9.2 .3 1 .3-1.3 .3 3.3 .3-.3 .3 1.6 .3-4.2 .3 4.1 .3-3.6 .3 11 .3-9.9 .3 11.4 .3-3.4 .3-10.6 .3 8 .3-1.4 .3-8 .3 7.9 .3-2.6 .3 1.6 .3-4.5 .3 2.8 .3 1.8 .3-2.3 .3-1.6 .3 1.6 .3-3.1 .3 4.8 .3-10.8 .3 15.1 .3-5.4 .3 1.4 .3 1.4 .3-7.8 .3 13 .3-12.7 .3 5.9 .3-.6 .3 3.6 .3-4.9 .3-5.3 .3 6.4 .3-10.4 .3 8.4 .3-1.1 .3 7.5 .3-6.9 .3-.7 .3-1.2 .3-.4 .3 1.1 .3 4.2 .3-7.1 .3 4 .3-4.7 .3 4.8 .3 1.2 .3-5.3 .3 2.5 .3 2.4 .3 2.5 .3 .6 .3-4 .3-3.4 .3-2.4 .3 9 .3 2.2 .3-3.9 .3 4.5 .3-7.6 .3 .2 .3 7.2 .3-9.6 .3 6 .3-.9 .3-.9 .3 5.8 .3-9.8 .3 1.7 .3-6.3 .3 3.8 .3 2 .3 .4 .3 .7 .3 1.8 .3-3.7 .3-4.9 .3 7.9 .3 1 .3-6 .3 1.3 .3 9.6 .3-2.8 .3 .1 .3-1.6 .3-2 .3-2.5 .3 4 .3-2.9 .3-1 .3 1.6 .3-.4 .3 3.6 .3-7 .3 13 .3-13.3 .3 2.2 .3 5.1 .3-6.8 .3 1.3 .3 1.8 .3-9.9 .3 7.8 .3-1.8 .3 2.7 .3 2.7 .3 .5 .3 3.2 .3-.3 .3-1.6 .3-4.1 .3 4 .3-7.7 .3 3.3 .3 5.7 .3-2.5 .3-8.3 .3 3 .3 5.6 .3-1.2 .3 1.7 .3-10.8 .3 1.8 .3 3.8 .3-2.8 .3 3.5 .3 .1 .3 1.3 .3-1.9 .3 2.6 .3 .7 .3-2.4 .3-5.3 .3 9.5 .3-4.1 .3 .7 .3-1 .3-6.8 .3 8.2 .3-4.7 .3-2.2 .3 9.4 .3-6 .3 2.2 .3 2.2 .3 2.7 .3-13.1 .3 4 .3 5.4 .3-5.2 .3-7.4 .3 10.4 .3 .2 .3 2.1 .3-2.2 .3-2.6 .3 2.5 .3-1 .3-1.9 .3 2.9 .3 .3 .3-5.2 .3 7.7 .3-.8 .3-.3 .3-12.9 .3 10.3 .3-1 .3-3.4 .3 6 .3-8 .3 10.4 .3-3.3 .3-3.4 .3 7.3 .3-3.8 .3-.5 .3-6.3 .3 6.9 .3 3.4 .3-1.3 .3-9.1 .3 10.1 .3 .8 .3-3 .3-4.7 .3-4.3 .3 2.2 .3 1.2 .3 3.2 .3 1 .3-5 .3-3.5 .3 4.6 .3-3.5 .3 10.1 .3-9.9 .3 6.5 .3 1.2 .3-6.9 .3 7.5 .3-4.4 .3-2.6 .3-.6 .3 3.9 .3 3.7 .3-11.5 .3 9.6 .3-3 .3-2.4 .3 2.5 .3 .3 .3-.2 .3 3.3 .3-6.7 .3 11 .3-4.2 .3-5.7 .3-5.2 .3 7.3 .3-1.6 .3 4.4 .3-.1 .3 4.6 .3-8 .3 3.6 .3-4.8 .3 .1 .3 7.4 .3-6.5 .3 0 .3-1 .3 2.6 .3 1 .3-2.8 .3-4.1 .3 5.8 .3-4.6 .3 1.8 .3 2.2 .3 .1 .3-10.2 .3 15.8 .3-3.6 .3 4.4 .3 2.2 .3-13.7 .3 1.5 .3 3.1 .3 2.7 .3-5.8 .3 .7 .3 5.4 .3-7.8 .3 4.3 .3 3.4 .3-5.5 .3 4.1 .3-3.6 .3-5.9 .3 4 .3 1.3 .3-.6 .3 1.4 .3 1.4 .3-.5 .3-.5 .3-2.6 .3 .8 .3-.7 .3-.9 .3 7.8 .3-13.2 .3 8.5 .3-7.6 .3 4 .3 5.6 .3-4.4 .3 6.7 .3-9.6 .3 2.6 .3-1.5 .3 2.5 .3-1.4 .3-.3 .3 1.8 .3 4 .3-3.9 .3-.5 .3-1.5 .3-1.8 .3-3.1 .3 1.6 .3 4.3 .3-8 .3 10.3 .3-4.4 .3-2.2 .3 1.5 .3 4.8 .3-1.2 .3-.5 .3 6.1 .3 2.4 .3-14.9 .3 8.9 .3-6.8 .3-2.5 .3 3.5 .3 6.3 .3-5.5 .3-.7 .3 7.8 .3-3.7 .3-2.5 .3 7.9 .3-5.5 .3-5.1 .3-1.5 .3 2.7 .3 2.4 .3 3.2 .3-.5 .3-3 .3-5.5 .3 8.7 .3-3.5 .3-5.1 .3-.6 .3 6 .3 .4 .3 1.9 .3-8.6 .3 13.1 .3-15.8 .3 7.4 .3 5.7 .3-1.3 .3-8.5 .3 6.5 .3 2.5 .3-2.1 .3-7.4 .3 11.2 .3-14.1 .3 7 .3-4.8 .3 2.6 .3 .4 .3 3.4 .3-7.6 .3 6.2 .3 4.5 .3-5.2 .3 1.9 .3-.6 .3-5.1 .3 1.5 .3 1.7 .3 1.8 .3 6.6 .3-1.8 .3-9.1 .3 .1 .3-2.6 .3-5.7 .3 15.5 .3-3.4 .3-10.8 .3 8.4 .3 10 .3-8.1 .3 0 .3-1.4 .3-4.3 .3-1.8 .3 1.3 .3 4.2 .3-1.8 .3 4 .3 4.6 .3-5.2 .3 1 .3-5.3 .3-4.2 .3 15.1 .3-6.4 .3 1.9 .3-6.9 .3-5.9 .3 13.1 .3-15.4 .3 8.7 .3-1.8 .3 3.3 .3 2.4 .3 0 .3-13 .3 13.5 .3-12.9 .3 11.3 .3-5.1 .3-3.2 .3 2.6 .3-3.6 .3 5.7 .3 4.1 .3-.7 .3-3.5 .3 4.6 .3-2.8 .3 7.3 .3-7.4 .3-5.1 .3 1.2 .3-2.2 .3 2 .3 .5 .3 3.6 .3 .4 .3-3.4 .3 1.5 .3-5.3 .3 .7 .3-8.8 .3 7.5 .3 1.2 .3 13.7 .3-17.8 .3 6.3 .3-1.9 .3-5.8 .3 8.2 .3-1.2 .3-6.8 .3-4.1 .3 10.3 .3-6.4 .3 9.5 .3-4.5 .3 3.6 .3-3.9 .3 8.4 .3-4 .3 3.7 .3-6.5 .3-5.3 .3-1.9 .3 4.1 .3 3.5 .3-4.3 .3 14.1 .3-11.7 .3 2.4 .3-1.9 .3-6.3 .3 10.7 .3-2 .3 .9 .3-8.4 .3 4.3 .3-.4 .3 5.6 .3-12 .3 9.5 .3 2.7 .3-8 .3-1.9 .3 9.9 .3-5.1 .3 4 .3-1.8 .3 1.4 .3-6 .3-9.2 .3 12.7 .3-6.1 .3 6 .3-5.5 .3 10.1 .3-8.9 .3 4.9 .3 1.3 .3-5.7 .3 1.8 .3-1.7 .3-4.4 .3 11.2 .3-11.3 .3-3.2 .3 4.9 .3 2.9 .3-.4 .3-2 .3-.6 .3-8.1 .3 13 .3 5.1 .3-11.7 .3-5.2 .3 12 .3-4.4 .3-11.4 .3 8.4 .3-3.4 .3 1.3 .3 14.9 .3-4.8 .3-5.5 .3 .7 .3 7.3 .3-12.7 .3 8.7 .3-6.7 .3 7 .3-3 .3-4.7 .3 8.5 .3-2.5 .3 6.1 .3-10.7 .3 2.5 .3-4 .3 9 .3-9.5 .3 3.5 .3 6.2 .3-3.8 .3-1.2 .3-.2 .3 .3 .3 1.4 .3-4.6 .3-8.1 .3 15.7 .3-11.4 .3 13.7 .3-7.5 .3 10.3 .3-6.2 .3-3.6 .3 2.3 .3-11.1 .3 7.4 .3-2.7 .3 1.8 .3-9.9 .3-.8 .3 13.8 .3-3.3 .3-2.4 .3 1.6 .3-2.8 .3 .8 .3 5.5 .3-4.5 .3 4.4 .3-6.8 .3-5.3 .3 5.4 .3 2.4 .3-4.7 .3 3.4 .3-.6 .3 6.7 .3-.4 .3 1.1 .3-8.9 .3 5.2 .3 4.5 .3-5.4 .3-1.2 .3-3.4 .3 7.6 .3-3.2 .3 3.9 .3-5.5 .3 10.5 .3-10 .3-5.8 .3 6.8 .3 1.3 .3 3.7 .3-8.4 .3-.4 .3 1.3 .3-.6 .3-8.3 .3 13.5 .3 2.5 .3-9.6 .3-1.1 .3 4 .3-3.3 .3 7.6 .3-6.7 .3 5.8 .3-8.8 .3-.9 .3-.7 .3 .6 .3 8.8 .3 1.9 .3-3.3 .3 .3 .3-11.6 .3 15.8 .3-11.2 .3 12 .3 5.3 .3-11.3 .3 2.7 .3-.1 .3-9.2 .3 .8 .3 2.1 .3 4 .3 3.2 .3-3.5 .3 4.7 .3-7.7 .3-4.3 .3 6.8 .3-.4 .3-6.5 .3 11.6 .3-9.5 .3 1.1 .3 4.5 .3-6.2 .3 8 .3-1.1 .3 .3 .3-2.2 .3-2.3 .3-1.4 .3 5.1 .3 5 .3-2.8 .3-1.9 .3 2.9 .3 1.6 .3-12.3 .3 5.8 .3 5.9 .3-8.8 .3 .8 .3 5.2 .3-4 .3 6.8 .3-7.2 .3 4.3 .3 8.9 .3-6.3 .3-11.9 .3 1.5 .3 .1 .3 4.6 .3-6.4 .3 9.2 .3 5.5 .3-.7 .3-11 .3 2.3 .3-.1 .3-2.5 .3 11.9 .3-11.3 .3-2 .3 7 .3-.1 .3 5.7 .3 0 .3-8.1 .3-9 .3 13.1 .3 .7 .3 4.7 .3-15.9 .3 2 .3 12.8 .3 .4 .3-1.5 .3-6.2 .3 6.2 .3-8.6 .3-3.3 .3 5.7 .3 .8 .3 3.3 .3 1.4 .3-13.4 .3 9.7 .3 1 .3-8.2 .3 4.8 .3 1.6 .3 1.8 .3-6 .3 1.2 .3-2.3 .3 6.9 .3-3.1 .3-1.2 .3 5.9 .3-3.8 .3-4.7 .3 11 .3-.7 .3-2.3 .3-7 .3 10.2 .3-7.9 .3-6 .3 8.3 .3 9.1 .3-10.5 .3 5 .3 3.7 .3-5.5 .3-2.2 .3 1.6 .3 2.7 .3-5 .3 4.1 .3 1 .3-4.3 .3 5.2 .3-.6 .3-4.1 .3 .7 .3 1.5 .3-1.2 .3-.2 .3-3.7 .3 5.4 .3 3 .3-.4 .3-6.7 .3 6.5 .3 .3 .3-7 .3 6.8 .3-3.1 .3-.8 .3 2.9 .3-2 .3-9.2 .3 11.3 .3-6 .3 4.8 .3 3.7 .3-4.1 .3-.9 .3 2.8 .3 1.8 .3-6.1 .3 1.1 .3 5.3 .3 5.2 .3-7.3 .3 4.2 .3-7.4 .3 3.6 .3 .4 .3-6.1 .3 5.9 .3-.7 .3-10.7 .3 11.4 .3 1.9 .3-.2 .3 .5 .3-6.5 .3 1.9 .3 2.6 .3-3 .3 1.9 .3 7.9 .3-9.6 .3 2.6 .3 10.1 .3-8.9 .3-3.8 .3 5.9 .3-.2 .3-.1 .3-8.1 .3 9.1 .3 .5 .3 7.8 .3-6.1 .3-4.9 .3 3.5 .3 1.8 .3-3.6 .3 .6 .3 6.6 .3-3.9 .3 .2 .3-6.6 .3 6.5 .3-10.5 .3 14.4 .3-7.6 .3 5.2 .3 3.6 .3-11.2 .3 10.3 .3-4.1 .3 4.3 .3-6.7 .3-1.4 .3 9.1 .3-3.8 .3-1.6 .3-5.3 .3 11.3 .3-7.4 .3 .6 .3-2 .3 3.3 .3 2.7 .3-2.9 .3 0 .3-2 .3 9.4 .3 .6 .3-8.6 .3-2.5 .3 5.3 .3-8.5 .3 8.6 .3 .2 .3-.4 .3 6.6 .3 1.2 .3-6.2 .3-3.6 .3 6.4 .3 .6 .3-10.5 .3 2.3 .3 2.2 .3-6.3 .3 2.6 .3 12.6 .3-13.1 .3 9.7 .3-7.4 .3 8.3 .3-3 .3 2.7 .3-10.2 .3 7.7 .3-3.8 .3 6.1 .3-.1 .3-2.3 .3-1.3 .3 .6 .3 1.3 .3-3.3 .3 .4 .3-.8 .3-1.8 .3 9.6 .3-10.6 .3 12 .3-2.6 .3-10.8 .3-.5 .3 8.5 .3-4.8 .3 5.5 .3 3.8 .3-2.6 .3-2.5 .3 .3 .3 7.5 .3-8.1 .3 9.6 .3 1.5 .3-10.8 .3 3.1 .3 6.5 .3-10.7 .3 5.2 .3 2.9 .3-9.3 .3 6.5 .3-1 .3-2.8 .3 9.4 .3-7.4 .3 10.9 .3-6.9 .3-6.2 .3 4.4 .3-4.4 .3 7.1 .3-.6 .3-8.1 .3 3.6 .3 4 .3-1.7 .3-4.5 .3 9.3 .3 1.3 .3-12.5 .3 13.2 .3-15.5 .3 8.5 .3-2.2 .3 .6 .3 3.3 .3-5.8 .3 4.7 .3 8 .3-5.3 .3 4.7 .3-2.7 .3-10.8 .3 15 .3-3.9 .3-.8 .3-4.4 .3-.6 .3-2.2 .3 4.1 .3 1.2 .3-1.1 .3 .1 .3-7.7 .3 5.3 .3-.1 .3 4.9 .3-3.2 .3 .1 .3 2.4 .3-2.4 .3 .9 .3 6.1 .3-5.4 .3-3.1 .3 6.6 .3 .9 .3-.7 .3-8.3 .3 9.9 .3-3.8 .3 .4 .3-.1 .3 1.7 .3 .2 .3 4.3 .3-5.2 .3-1.3 .3 3.2 .3-3.1 .3 5.2 .3-4 .3 2.6 .3-5.3 .3 6.5 .3-1.5 .3-6.2 .3 2.1 .3 2 .3-5.8 .3 1 .3 6.7 .3 .2 .3 3.6 .3-11.1 .3 4 .3-7 .3 16 .3-12.8 .3 4.6 .3 9.2 .3-2.1 .3-9.6 .3 13.2 .3-7.5 .3-6.2 .3 5.5 .3 1.6 .3 0 .3-11.4 .3 16.6 .3-14.3 .3 5.8 .3 7 .3-4.3 .3-1.8 .3-2.3 .3 5 .3 3.4 .3-8 .3 4.2 .3-3.3 .3-.1 .3-6.9 .3 9.8 .3 2.9 .3-4.4 .3 5 .3-3.6 .3 4.5 .3-4.4 .3-2.1 .3-.5 .3 2.5 .3 .9 .3-4.4 .3 2.7 .3-4.8 .3 0 .3 8.2 .3-1.1 .3 2.2 .3-3 .3 .5 .3 6.5 .3-10.9 .3 4.7 .3 5.3 .3 1.9 .3-6 .3-2.7 .3-3.8 .3 3.7 .3 1.3 .3-.5 .3 2 .3 .3 .3-4.2 .3-1.6 .3 2.4 .3 3 .3 4.9 .3-13.2 .3 11 .3-5.5 .3 5.6 .3 3.2 .3-5.5 .3-6.6 .3 3 .3 3.2 .3-2.8 .3 1.1 .3-2.8 .3 2.3 .3-1.6 .3 5.9 .3-2.1 .3 1.7 .3-9.4 .3 4.8 .3-1.2 .3 1.3 .3-1.7 .3 .6 .3 9.2 .3-7.3 .3-3.8 .3 3.8 .3 10.1 .3-6.1 .3-6.4 .3 2.7 .3 .8 .3 .4 .3-7.3 .3 3.6 .3 3.1 .3-6.1 .3 6.1 .3 1 .3 2.8 .3 1.2 .3-4.9 .3 1.7 .3 1.8 .3 1.4 .3-3.7 .3-3.1 .3 5.3 .3 1 .3-2.7 .3 1.7 .3 4.1 .3-8.2 .3-.7 .3-1.4 .3 5.6 .3 2.4 .3-5.6 .3 9.1 .3-9.3 .3 3.4 .3-1.4 .3 5.8 .3-7.7 .3 8.9 .3-7 .3-4.5 .3 3.1 .3 1.6 .3 7.2 .3-8.3 .3 1.9 .3 8 .3-7.3 .3-3 .3-.3 .3-3.1 .3 7.4 .3 3.3 .3-6 .3-2.6 .3 5.1 .3-1 .3-.5 .3 2.3 .3-1.5 .3-1.5 .3 5.2 .3-10.8 .3 2.8 .3 3.2 .3-4 .3 10.9 .3-14 .3 11 .3-.5 .3-.8 .3 .3 .3-3.7 .3-.6 .3 8.2 .3-5.9 .3-5 .3 .9 .3-1.1 .3 6.8 .3 3.4 .3-5.5 .3 1.7 .3-2.4 .3 5.3 .3 0 .3 .2 .3 3.3 .3-11.3 .3 7.6 .3-8.8 .3 8.6 .3 .4 .3-.3 .3 .3 .3-3.4 .3-1.9 .3 5.3 .3-5.2 .3 5 .3-5.8 .3 4.5 .3-.2 .3-4.2 .3 2 .3 4.6 .3-3.3 .3 1.8 .3-3.9 .3 2.5 .3-5.9 .3 2.6 .3 7.5 .3-2.6 .3-1.9 .3 .4 .3-5.4 .3 6.5 .3-6 .3 1.8 .3 5.2 .3-5.2 .3 .8 .3 1.5 .3 .7 .3 4.5 .3-11.1 .3 4.8 .3 3.6 .3-3.9 .3 .3 .3-1.5 .3 1.9 .3 3.4 .3 2.2 .3-3.2 .3 3.7 .3-4.6 .3-6.3 .3 8.7 .3-10 .3 7.1 .3 .2 .3-4.1 .3 3.4 .3-1.2 .3 2.5 .3-1.6 .3 3.3 .3-3.5 .3 3.5 .3-2.1 .3 .9 .3-.5 .3-2.1 .3 5.8 .3-1.9 .3-10.2 .3 3.7 .3 10.5 .3-7 .3 10.8 .3-8.2 .3 .1 .3-3.3 .3 .9 .3 1.4 .3 2.7 .3-2.8 .3-.5 .3-3.3 .3 1.8 .3 .2 .3 1.1 .3-2.1 .3-1.2 .3 2.8 .3-7.7 .3 3.5 .3 2.5 .3 4.3 .3-3.8 .3-1.4 .3 6.3 .3-2.8 .3 5.3 .3-5.5 .3-1.8 .3 1.3 .3 7.7 .3-.8 .3-4.9 .3 3.2 .3-8.6 .3 9.4 .3-3.2 .3-1.5 .3 .4 .3 .9 .3-2.5 .3 .2 .3-2.9 .3 9.9 .3-8.8 .3 2.6 .3 4.2 .3 .7 .3 .7 .3-7.2 .3 .5 .3 1.3 .3-6.3 .3 9.7 .3-9 .3 5.4 .3 3.6 .3-.2 .3-4.6 .3 4.8 .3 .6 .3-9.8 .3 5.1 .3 3.3 .3-.8 .3-2.3 .3 .3 .3 8.7 .3-9.5 .3 5 .3-7.9 .3 6.1 .3 1.8 .3-5.1 .3-.7 .3 8.8 .3-7.2 .3 4.4 .3-8.8 .3 11.3 .3-13.1 .3 3.8 .3 1.2 .3 2 .3 .9 .3 5.1 .3 1.7 .3-.6 .3-3.8 .3-2.1 .3-8.1 .3 7.1 .3-1.8 .3 4.3 .3-5.8 .3 .7 .3 .3 .3 5 .3-1.7 .3-4.3 .3-2.5 .3 4.2 .3-.3 .3 .3 .3 2.3 .3 2.3 .3 .2 .3-5.2 .3-.3 .3 8.1 .3-6.2 .3 3.4 .3-1.8 .3 .7 .3 4.3 .3-6.5 .3 4.8 .3-2 .3-2.4 .3-1.1 .3-.2 .3 6 .3-.6 .3-6.5 .3 4.4 .3-7.8 .3 6.6 .3 7.2 .3-11.6 .3 5.4 .3-3.3 .3 2.5 .3-4.1 .3 4.5 .3-9 .3 7.4 .3-.2 .3 .8 .3 7.6 .3-11.4 .3 1.7 .3-2.4 .3 6.6 .3-1.7 .3-4.2 .3 7.5 .3-2.3 .3 4.1 .3-2.4 .3-2.4 .3-3.1 .3-4.8 .3 5.5 .3 6.3 .3-4.9 .3-2.1 .3 3.9 .3 1.8 .3 7.4 .3-13.5 .3 2.4 .3-2.8 .3 1.5 .3 5.9 .3-3.6 .3-4.8 .3 10.1 .3 1.6 .3-3.5 .3-6.4 .3-.3 .3 8.5 .3-8.3 .3 1.7 .3-3.3 .3 12.2 .3-9.3 .3 1.8 .3-2.1 .3 .2 .3-1.8 .3 8.2 .3-6.5 .3 7.7 .3-9.9 .3 6.4 .3 1.7 .3-7.7 .3 5.1 .3-3 .3-1.9 .3 2.4 .3-5.3 .3 5.7 .3-4.5 .3 7.9 .3 3.1 .3-.4 .3-7.8 .3 2.2 .3 7.6 .3-2.5 .3-2.4 .3-10 .3 6.5 .3 9.2 .3-6.3 .3-3.4 .3 1.9 .3 8.4 .3-4 .3-9.4 .3 .5 .3 4.3 .3 4.5 .3-7.5 .3 .7 .3-7.3 .3 7 .3 4.4 .3 0 .3-7.6 .3 8.2 .3-6 .3-2.2 .3 7 .3-7.9 .3 4.2 .3-1.5 .3 2.6 .3 1.3 .3-2.5 .3-1.5 .3 1.2 .3-7 .3 8.4 .3 8 .3-6.3 .3 3 .3-4.2 .3 .1 .3 1.6 .3 .8 .3-.2 .3-5.4 .3 3.1 .3-5.6 .3 9.3 .3-3.9 .3-1 .3-3.6 .3 6.4 .3 1.9 .3-1.8 .3 2.1 .3-6.9 .3 6.2 .3-3.4 .3-9.4 .3 10.4 .3-4.7 .3 3.1 .3-1.9 .3-.8 .3 7.1 .3-5.9 .3 2.7 .3 1.9 .3-4 .3-3.2 .3 4.8 .3-.6 .3-3 .3 3.8 .3 4.3 .3-1.1 .3 2.1 .3-.6 .3-4.4 .3-.7 .3-4.1 .3 8.4 .3-6.5 .3 4.3 .3 4 .3-5.8 .3-5.9 .3 1.6 .3 2.5 .3 6.3 .3-6.2 .3 .7 .3-3.5 .3 5.2 .3-.9 .3 2.6 .3-6.5 .3 5.7 .3-7.5 .3 2.7 .3 .4 .3 1.3 .3 2.2 .3-10.1 .3 8.3 .3-1.2 .3-3.5 .3 3.8 .3 2.8 .3-3.3 .3-.1 .3 4.3 .3-5.3 .3 6.7 .3-2.4 .3 .1 .3 .7 .3 2.4 .3-7.2 .3 6.9 .3-7.5 .3 4.7 .3 .9 .3-1.7 .3-4.6 .3-.4 .3 .5 .3 3.9 .3 .9 .3 1.4 .3-7.7 .3 6.9 .3 2.7 .3-3.2 .3-.6 .3 3.1 .3 2.9 .3-.3 .3 .2 .3-10.3 .3 10.1 .3-6.4 .3 4.3 .3-5.2 .3 3.6 .3-3.4 .3 1.1 .3 8.2 .3-11.5 .3 8.2 .3-3.4 .3-4.2 .3 9 .3-4.7 .3-2.1 .3 3.4 .3-4.2 .3 9.2 .3-11.6 .3 3.7 .3-5.4 .3 8.3 .3 2.2 .3 .5 .3 2.4 .3-5.7 .3-1.6 .3 5.2 .3-5.6 .3 3.6 .3-2.9 .3-.9 .3 2.6 .3 4.4 .3-.7 .3-2.8 .3-10.1 .3 9.8 .3 1.5 .3 .6 .3-4.5 .3 6.4 .3-2.4 .3-8.2 .3 9.9 .3 3.3 .3-4.9 .3-3.9 .3 9.7 .3-2.9 .3-10.4 .3 10.7 .3-2.3 .3-.4 .3-7.5 .3 .4 .3 6.9 .3 6.5 .3-6.4 .3-.2 .3-2.6 .3 .9 .3 5.3 .3-6.6 .3 9.8 .3-5.1 .3-.6 .3-1.6 .3-2.2 .3 1.8 .3-4.4 .3 5.6 .3-7.2 .3 15.2 .3-8.4 .3-5.4 .3 6.6 .3-.5 .3-2.4 .3 3 .3-3.9 .3 2.5 .3-.1 .3 2.5 .3-3.8 .3 3.2 .3-10.4 .3 13.4 .3-3.3 .3 1.4 .3-2.9 .3 4.3 .3-3.4 .3 1 .3-.4 .3-2.3 .3-1.3 .3 5.4 .3 .4 .3-2.5 .3 4.9 .3-4.1 .3 1.4 .3 2.3 .3-1.4 .3-3.3 .3-3.3 .3 1.3 .3-1 .3 6.8 .3-12.5 .3 17.1 .3-10.7 .3 7.3 .3-2.8 .3 .9 .3-6.7 .3 8.6 .3-4.1 .3 2.7 .3-5.7 .3 3.3 .3-2.4 .3 3.8 .3 1.4 .3-3.3 .3 2.5 .3 .3 .3-2.1 .3-.7 .3-6.1 .3 11 .3-3.2 .3-1.5 .3 1.7 .3-2.6 .3 .8 .3 3 .3-7.4 .3 4.5 .3 2 .3-6.6 .3 1.8 .3 8.7 .3 3.5 .3-6.9 .3 1.4 .3-5.6 .3 8.2 .3-5.2 .3 .6 .3 1.2 .3-3.5 .3-.5 .3 2.5 .3-3.8 .3 1.8 .3-7.3 .3 5.8 .3 5.4 .3 2.4 .3-1.8 .3-5.3 .3 3.4 .3-3.7 .3-.4 .3 7.5 .3-4.9 .3 .2 .3 1.9 .3 2.7 .3-2.9 .3-1.3 .3 2.2 .3-1.5 .3-.8 .3-6.9 .3 4.9 .3 2.8 .3-3.2 .3 10.6 .3 1.6 .3-2.1 .3-9.4 .3 5.1 .3-.2 .3-.2 .3-7.1 .3 9.3 .3 2.8 .3-3.2 .3 4.8 .3-8.8 .3 3.7 .3 2.2 .3-8 .3 2.9 .3-2.2 .3 6 .3-7.4 .3 5.3 .3-3 .3 5.2 .3-5.1 .3 1.3 .3 1.6 .3-3.7 .3 1.2 .3 .7 .3-.9 .3 2.7 .3-3.7 .3 3.1 .3-1.4 .3-1.3 .3-1.7 .3-2.9 .3 4.3 .3 4.5 .3-3.2 .3 6.7 .3-9.1 .3 2.2 .3-4.4 .3 9.9 .3-9 .3 6.5 .3-.6 .3 8.4 .3-4.6 .3-1.9 .3-2.3 .3 6.3 .3-8.1 .3-3.1 .3 7.7 .3-3.4 .3-2.3 .3 3.8 .3 .6 .3-7.4 .3 9.1 .3 3.8 .3-8.7 .3-4 .3 6.5 .3-1.4 .3 3.3 .3 .5 .3-3.7 .3 6 .3-12.6 .3 4.5 .3 3.3 .3 .8 .3-1.8 .3 2 .3-6.3 .3-3.7 .3 11.5 .3 1.8 .3-4.8 .3-4.2 .3 1.7 .3 4.8 .3-1.4 .3 4 .3 1.3 .3-1.5 .3-5.3 .3 4.7 .3-2 .3-1.1 .3-.1 .3-.9 .3-3.4 .3 5 .3-4.1 .3 2.6 .3 3.1 .3 0 .3-9.6 .3 4.2 .3-1.5 .3 5 .3-3.7 .3 6.2 .3-5.1 .3 3.3 .3-5.2 .3 .9 .3 1.7 .3 2.6 .3-9.1 .3 7.8 .3-5.6 .3 5.9 .3-7.2 .3 5 .3 5.9 .3 1 .3-9 .3 9.9 .3-7.8 .3 1.7 .3 1.7 .3-1.4 .3 .9 .3-.6 .3 2.4 .3-2.3 .3-2.4 .3-2.1 .3-.1 .3 3.5 .3 2.9 .3-1.5 .3-2.2 .3 2.7 .3-3.7 .3 2.5 .3 1.3 .3-3 .3 6.2 .3-.8 .3-5.1 .3 3.3 .3-1.5 .3 .4 .3 0 .3 3.7 .3-3.6 .3 0 .3 2.3 .3-.1 .3 3 .3-9.2 .3 5.4 .3-9 .3 6.8 .3-4.8 .3-.1 .3 4.3 .3-3.4 .3 2.8 .3-8.4 .3 14.4 .3-14.4 .3 7 .3 8.5 .3-11 .3 11.1 .3-2.2 .3-4.2 .3-1 .3 .3 .3 2 .3 2.5 .3 1.3 .3-12.4 .3 10.7 .3-.9 .3-6.6 .3 7.6 .3 .2 .3-.1 .3-3.5 .3 3.1 .3 1.5 .3-6.7 .3 .5 .3-.3 .3 6.4 .3-4.2 .3-2.7 .3-1.1 .3-.9 .3 5.4 .3 2.2 .3 1.6 .3-8.2 .3 .1 .3 .1 .3 .3 .3-2.4 .3 11 .3-3.9 .3-3.5 .3-7.4 .3 14.1 .3-2.1 .3-2.4 .3 2.1 .3-5 .3 4.8 .3-4.3 .3 3.6 .3-2.2 .3-4.2 .3 .9 .3 7.7 .3-.3 .3-4.2 .3-1.9 .3 .9 .3 3 .3-6.3 .3 8.4 .3-6.4 .3-1.1 .3 3.9 .3 7 .3-9.4 .3 1.2 .3-2.9 .3 5.1 .3 .1 .3-1 .3-1.4 .3 2.7 .3 1.6 .3-4.5 .3 .7 .3-1.4 .3 .3 .3 6.3 .3-7.9 .3 4.2 .3 3.1 .3-5.6 .3 3.9 .3 .6 .3-7.9 .3 8.7 .3-7.1 .3 4.1 .3-6 .3-.3 .3 4.9 .3 6.7 .3 3.4 .3 .6 .3-4.8 .3-.6 .3-1.5 .3-.4 .3-3.7 .3-.3 .3 3.2 .3 .1 .3-3.9 .3-2 .3 1.6 .3 12.3 .3-12.2 .3 7.8 .3-.8 .3-.5 .3-6.1 .3 9.5 .3-6.2 .3-3.3 .3-.4 .3 2.1 .3 8.2 .3-12.4 .3 2.2 .3 2.5 .3 1.8 .3-5.7 .3 .3 .3 1.5 .3 4.5 .3-3.1 .3-.2 .3 1.6 .3-.4 .3 3.1 .3-6.1 .3 2.7 .3-2.4 .3 5 .3 .3 .3-3.8 .3 5.1 .3-4.9 .3 5.7 .3-6.4 .3-.2 .3-3.8 .3 1.7 .3 2.3 .3-6.3 .3 7.6 .3 3.2 .3-1.1 .3-1.3 .3 1.7 .3-4.4 .3 .3 .3 4.8 .3-3.6 .3 4.1 .3-5.3 .3 4.2 .3 2.1 .3-4.8 .3 6.4 .3-.4 .3-14.5 .3 18.4 .3-15.4 .3 14.8 .3-12.2 .3-4.4 .3 2.7 .3 6.6 .3-5.3 .3 1.6 .3 6.5 .3-8.1 .3 5.5 .3 2.8 .3-11.3 .3 2.5 .3 5 .3-.8 .3 1.1 .3-8.3 .3 4.2 .3 4.5 .3 .7 .3 2.5 .3-6 .3-1.2 .3-.9 .3 .2 .3-4.1 .3 13.6 .3-7.8 .3-.9 .3 .2 .3 4.4 .3-1.7 .3-3.2 .3 6.5 .3-2.7 .3-1.6 .3 .6 .3 4.3 .3-1.7 .3-2.9 .3 4.1 .3-11.6 .3 10.5 .3-5.7 .3 .8 .3 1.4 .3 7.7 .3-7.4 .3 .1 .3 2.7 .3-9.5 .3 6.5 .3 3.4 .3-6.1 .3 5.7 .3-4.9 .3-2.7 .3 8.7 .3-2.9 .3 2.5 .3-2.1 .3-4.5 .3 7.6 .3-2.1 .3 0 .3-2.9 .3-2.6 .3 9.3 .3-2.4 .3-2.1 .3-2.8 .3 7 .3-7.9 .3 .3 .3 10.5 .3-5.5 .3 1.1 .3-.7 .3 5.1 .3-6.2 .3 .3 .3-4.9 .3 3.3 .3-5.7 .3 4.2 .3 1.3 .3 2.6 .3 2.3 .3-7.3 .3-1.4 .3 4.8 .3-4.1 .3 9.3 .3-1.6 .3-8.1 .3 4.3 .3 3.9 .3-8 .3 1.6 .3 1.4 .3 5.2 .3-3.2 .3-2.6 .3 2.1 .3-1.1 .3 .5 .3 1.1 .3-.9 .3 1.5 .3-2.3 .3-1.1 .3-.1 .3-4.7 .3 4 .3 8.2 .3-6.7 .3 2.1 .3 1.2 .3-4.9 .3 .5 .3 3.1 .3-5.2 .3 6.5 .3-.8 .3-1.6 .3 .1 .3 1.7 .3-2.2 .3-9.4 .3 10.8 .3-5.2 .3 1.6 .3 .2 .3 .1 .3-4.6 .3-.8 .3 6.6 .3 .4 .3 1.4 .3-6.1 .3 3.5 .3 3.9 .3-4.1 .3-.8 .3 9.4 .3-13.3 .3 3.1 .3-1.1 .3 2.2 .3 11.2 .3-13.2 .3 2.8 .3-1 .3-.8 .3 5.7 .3-4.6 .3 5.5 .3 1.3 .3-6.9 .3 6.8 .3-9.3 .3 5.5 .3 2.5 .3-7.4 .3 3.5 .3 1.9 .3 .4 .3-.8 .3 5.9 .3-7.7 .3 4.8 .3 3.3 .3-9.8 .3 .7 .3-2.3 .3 6.3 .3 2.6 .3-11.4 .3 2.9 .3 1.1 .3 10.2 .3-9.3 .3 2.7 .3-5.7 .3 7.5 .3-7 .3 3.6 .3-3.5 .3 3.4 .3-.3 .3 1.4 .3-.1 .3 5.8 .3-9.2 .3 7.4 .3-3.6 .3-1.8 .3 1.7 .3-.2 .3 2.2 .3-.2 .3-.7 .3-1.3 .3-6.6 .3 8.8 .3 .9 .3-2.7 .3-.2 .3-4.2 .3 4 .3 2.1 .3-7.8 .3 3 .3-.2 .3 6.3 .3-6.1 .3-4.9 .3 7 .3 4.2 .3-5.3 .3-1 .3 2.3 .3 5.2 .3-7 .3 0 .3 2.4 .3-4.2 .3-3.3 .3 6.5 .3-1.8 .3 2.6 .3-.8 .3 1.3 .3-5.7 .3 5 .3-4.4 .3 4.4 .3-2.8 .3 7.6 .3-9.2 .3-5 .3 8.6 .3-2.2 .3-1.6 .3 4 .3 5.1 .3-6.5 .3-1.9 .3 7.5 .3-1.1 .3-3.9 .3-2.1 .3 4.5 .3-5 .3 .2 .3-.7 .3 4.8 .3 3.4 .3-5.2 .3 6.1 .3-13.3 .3 6.8 .3-5.9 .3 9.2 .3 1.3 .3-10.9 .3 3.6 .3 2.9 .3-5.5 .3 2.1 .3-.5 .3 3.8 .3-3 .3-1.4 .3 1.1 .3 2.4 .3 .7 .3-1 .3 4.9 .3-5.6 .3 1.7 .3 1.7 .3-3.3 .3 5.9 .3-2 .3 .1 .3-5.9 .3 2.6 .3 2.5 .3 1.7 .3-5.9 .3 .4 .3-2.8 .3-.7 .3 9.2 .3-3.9 .3 2 .3 1.9 .3-3.9 .3 .5 .3-4 .3 1.5 .3 3.6 .3 3.4 .3-1.3 .3-6 .3-.3 .3 5.2 .3-.8 .3 .2 .3-.9 .3 3.5 .3-3.4 .3 4.1 .3-3.2 .3-1.8 .3-4 .3 5.1 .3 2 .3-2.5 .3-4 .3-3.1 .3 5.5 .3 7.1 .3-10 .3 2.2 .3 2.3 .3 2.7 .3-6.7 .3 3.5 .3 .9 .3-5.1 .3 5.5 .3-5 .3 4.2 .3 1.6 .3-1.9 .3-4.6 .3 6.8 .3 .1 .3-2 .3 2.3 .3-4.4 .3-1.3 .3 2.3 .3 2.3 .3 1.5 .3-5.5 .3 3.1 .3-.1 .3-2.3 .3-5.3 .3 1.1 .3 9.2 .3-8.5 .3-1 .3 1.2 .3 3.9 .3 5.6 .3-3.1 .3-2.9 .3 .5 .3 2.7 .3-1.4 .3-6.2 .3 10.3 .3-1 .3-6.8 .3 2.9 .3 2.4 .3-.5 .3-2.1 .3 1.4 .3 6.1 .3-7.3 .3 4.5 .3-2.5 .3-4.8 .3 6.2 .3-.9 .3 2.8 .3 1.6 .3-1.9 .3-2.5 .3 .8 .3 1.1 .3-5.7 .3-.6 .3 6.2 .3-6.6 .3 3 .3 7.1 .3-3 .3 1.2 .3-4.4 .3 4.1 .3-6.8 .3 .1 .3 2.2 .3-1.8 .3 6.9 .3-5 .3-3.5 .3 7.2 .3-.6 .3 1.6 .3-8.1 .3 1.1 .3-4.8 .3 9.1 .3-1.6 .3-1.6 .3 6.6 .3-7.3 .3 .9 .3-1.3 .3-.5 .3 3.4 .3-.5 .3-.6 .3-2.6 .3-.8 .3 2.6 .3 1.9 .3-2.8 .3 1.5 .3 .3 .3-2 .3-2 .3 4.7 .3 6.1 .3-3.8 .3-2 .3-2 .3 .2 .3 6 .3-7.6 .3 10.1 .3-5.9 .3 1 .3-2.3 .3 4.6 .3 0 .3-5.8 .3 8.9 .3-5.6 .3-5.8 .3 6.8 .3-.5 .3-.5 .3 2.4 .3 .8 .3-7.9 .3 3.4 .3 .2 .3 .7 .3-6.4 .3 7.1 .3-.6 .3 6.4 .3-9.6 .3 1.3 .3 3.2 .3-1.6 .3 3.1 .3 1.2 .3-7.3 .3 3.5 .3 1.9 .3-4.9 .3 10.4 .3-6.7 .3-.5 .3-5.8 .3 2.9 .3-4.6 .3 9.3 .3-5.1 .3 3 .3 1 .3-.6 .3-2.1 .3 4 .3-6.5 .3-2.6 .3 1.4 .3 7.7 .3 2.3 .3-7.3 .3 .5 .3 3.3 .3-6.1 .3 2.9 .3-3.3 .3 5.2 .3-9.3 .3 3.8 .3-.8 .3 5.8 .3 1.9 .3-1.8 .3 7.3 .3-7 .3-3.5 .3 1.7 .3 4 .3-.7 .3 5.9 .3-6.8 .3-3.9 .3-.6 .3 6.6 .3-11.7 .3 10.3 .3 1.6 .3-4.5 .3 2.4 .3 3.8 .3 .6 .3-.3 .3-1.4 .3-4 .3-3.6 .3-3.2 .3 13.6 .3-2.6 .3-8.1 .3 8.3 .3-5.3 .3-.3 .3-2.4 .3 11.5 .3-12.1 .3 .9 .3 6.4 .3 .5 .3-1.1 .3-5.4 .3 2.9 .3-2.3 .3 1.3 .3 8.1 .3-5.4 .3 1.8 .3-5.9 .3 1.3 .3 3.5 .3 2.6 .3-4.7 .3 5.8 .3 3.2 .3-14.8 .3 6.4 .3 2.3 .3-3.1 .3 6.7 .3-5.5 .3 .8 .3-6.8 .3 9.1 .3-4.7 .3 2.7 .3-2.4 .3-1.6 .3 1.9 .3-3.9 .3 3.6 .3 4.8 .3-.6 .3-6.7 .3 6.3 .3-4.3 .3-.9 .3 4.4 .3 .4 .3-4.7 .3 5.5 .3-3.3 .3 7.6 .3-12.8 .3 4.4 .3-.1 .3-2 .3-1.8 .3 9.1 .3-3.3 .3-5.9 .3 3 .3 .6 .3 2.5 .3-4.7 .3 8.7 .3-5.1 .3 5 .3-3.1 .3-2.8 .3 .3 .3 2 .3-.8 .3 .4 .3 1.8 .3 1.6 .3-7.9 .3-2.2 .3 2.5 .3 7.6 .3-5 .3-1.5 .3 3.4 .3 1.4 .3-6.5 .3 .4 .3 3.3 .3-.2 .3-2.2 .3 10.6 .3-3.6 .3-4.9 .3 2.9 .3-6.6 .3 7.5 .3-3.9 .3-1.8 .3-2.4 .3 7.7 .3-2.6 .3-2.3 .3 5.6 .3-4.4 .3 1.8 .3-2.6 .3 3.1 .3-5.5 .3 2.6 .3 1.6 .3-3 .3 .9 .3 4.5 .3-4.3 .3 5.5 .3-2.2 .3-1.4 .3-5.4 .3 10.6 .3-.2 .3-4 .3-.6 .3-.2 .3-1.7 .3 .6 .3 2.3 .3-6.7 .3 5.1 .3 1.6 .3-7.6 .3 3.8 .3-3.1 .3 .4 .3 6.9 .3-6.1 .3 13.4 .3-9.9 .3-2.3 .3 1.9 .3 .9 .3 1.1 .3 .1 .3 0 .3 2.7 .3 .4 .3-3.9 .3 1 .3-3.9 .3 .5 .3 .8 .3 6.1 .3-7.2 .3 3.2 .3-.3 .3 2.4 .3-4.9 .3 .8 .3 5.1 .3-2.9 .3-2.7 .3 6 .3-3.7 .3-2.2 .3 5 .3 3 .3-7.6 .3-2 .3-4.8 .3 14.6 .3-8.3 .3 .9 .3-2.5 .3 2.9 .3-3 .3 9 .3-2.9 .3-4.3 .3-2.4 .3 6.3 .3-5 .3 7.4 .3-3.5 .3-1.1 .3-4 .3 5 .3-5.4 .3 8.6 .3-10.9 .3 5.6 .3 9.5 .3-10 .3 4.3 .3 1.2 .3-2.5 .3-1.6 .3 4 .3 .1 .3-5.6 .3 7.5 .3-1 .3-8.1 .3 5.4 .3 .2 .3-1.4 .3-2.7 .3-2.1 .3 6 .3-7.3 .3 3.5 .3-4.7 .3 4.3 .3 3 .3-5.5 .3 7.6 .3 .6 .3-1.8 .3 .8 .3 2.9 .3-2.5 .3-8.5 .3 5.3 .3-2.3 .3 3 .3-6 .3 6.1 .3-1.1 .3 2.7 .3-5.2 .3 2.5 .3-6.5 .3 6.8 .3 .4 .3-4.5 .3 4.6 .3-4.7 .3 6.3 .3-4.5 .3 1.4 .3 7.2 .3-3.8 .3 3.3 .3-1.6 .3-3.9 .3 5.7 .3-4.4 .3-1 .3-1.4 .3-2.6 .3 6 .3-2.7 .3 2.4 .3-2 .3 2.5 .3-4.1 .3 2.9 .3 2.7 .3 1 .3-4.5 .3-3.2 .3 8.4 .3-.8 .3-6.5 .3 6.8 .3-2.6 .3-5 .3 3.7 .3-4.8 .3 3 .3-.1 .3 1.2 .3 4 .3-8.9 .3-4.7 .3 12.1 .3-3.4 .3 4.3 .3-.3 .3 2.8 .3-12.5 .3 12.1 .3-5.5 .3-1.5 .3 7.1 .3-1.2 .3-9 .3 2.6 .3 7.2 .3-9.8 .3 6.1 .3 .5 .3-2.4 .3-1.2 .3 4.6 .3-3.5 .3-2.6 .3 5.5 .3-7.4 .3 3.6 .3 3.1 .3-6.4 .3 10 .3-3.9 .3-1.4 .3-3.4 .3 4.2 .3-1.8 .3 2.4 .3-3.2 .3 2.9 .3-6.1 .3-.2 .3 2.5 .3-4.3 .3 6 .3 1 .3-6.1 .3 5.1 .3-1.6 .3-.2 .3 6.7 .3-5.6 .3 1.1 .3-2 .3 .4 .3 1.3 .3 .5 .3-.9 .3 4.4 .3-4.4 .3 .6 .3 6.2 .3-5.1 .3 2.1 .3-.5 .3-3.7 .3 5.9 .3-3.6 .3-.3 .3-.2 .3 1 .3 1.5 .3-10.2 .3 12 .3-11.7 .3 2.8 .3 6.4 .3-2.8 .3 2.9 .3-6.4 .3 4.2 .3 1.8 .3-4.8 .3 .3 .3 3 .3 1.3 .3-10.3 .3 7.3 .3 2.2 .3 4 .3-8.9 .3 4.3 .3-4.1 .3 .4 .3 1.2 .3 7.8 .3-3.8 .3 1.5 .3-3.7 .3 4.2 .3-3.7 .3 2.5 .3-7.6 .3 2.1 .3 5.3 .3 5.2 .3-.9 .3-10.1 .3 2.9 .3-.3 .3 9.6 .3-11.2 .3 3.3 .3 3.4 .3-1.8 .3-6.8 .3 11.3 .3-14.2 .3 8.1 .3-2.3 .3-3.5 .3 3.6 .3-.1 .3-2.7 .3 2.1 .3 1.2 .3 1.3 .3-8.2 .3 5.7 .3 2.1 .3 3.3 .3 .4 .3-10.1 .3 4.1 .3 2.9 .3 1.8 .3 3.4 .3-7.1 .3-3.3 .3 4.6 .3 .7 .3-3.1 .3-1 .3 5.4 .3-6.7 .3 2.5 .3 3.1 .3-.5 .3-.4 .3-3.5 .3-5.8 .3 6 .3 5.3 .3 .8 .3 2.4 .3-3.6 .3 3.1 .3-5.1 .3 1.7 .3 5.9 .3-9.8 .3 .5 .3 6.1 .3-1.1 .3-8.9 .3 10.5 .3-7.3 .3 .2 .3 6 .3-1.8 .3 .2 .3 3.1 .3-1.6 .3-12.3 .3 9.9 .3 1.5 .3-2.5 .3-.9 .3 1.7 .3 0 .3-1 .3-.3 .3-3.3 .3 4.1 .3-2.8 .3 5.3 .3-4.7 .3 .4 .3-3.2 .3 3.6 .3 2.9 .3-6 .3 8 .3-3.7 .3-1.1 .3 3.3 .3-1.4 .3-7.9 .3 10.2 .3-1.4 .3-2.3 .3-8.7 .3 0 .3 2.5 .3 9.2 .3 .5 .3-3 .3-.5 .3-7.8 .3 7.7 .3-3.1 .3 2.6 .3-2.9 .3 6.3 .3-3.8 .3 2.3 .3-1.4 .3-2.3 .3-2.8 .3 .9 .3 1.2 .3 3.5 .3 6.7 .3-5.6 .3-1.7 .3 3.5 .3-7.1 .3 5 .3 0 .3-8.8 .3 8.8 .3-3.1 .3 1.7 .3-.6 .3 1.4 .3-3.2 .3 5.8 .3 .4 .3-6.9 .3 4.3 .3-1.6 .3 5.3 .3-7.2 .3 3.2 .3-1.2 .3-4.3 .3 8.7 .3-2.8 .3-5.2 .3 7.2 .3 .5 .3-8.8 .3 4.5 .3-.1 .3 .2 .3 .4 .3-1.1 .3-4.7 .3 6.2 .3-4.7 .3 2.5 .3 3.9 .3 4.8 .3-1.7 .3-7.2 .3 1.8 .3 5.5 .3-2.8 .3 1.1 .3-5.8 .3 4.8 .3 .4 .3 2.5 .3 1.4 .3-8.4 .3 7.2 .3-5.8 .3 1.3 .3 4.7 .3-4.3 .3 1.2 .3 3.9 .3 2.1 .3-5.4 .3-5.9 .3 4.1 .3-2.7 .3 .6 .3 2.5 .3-2.2 .3 .8 .3-.4 .3-.2 .3-6.1 .3 5.6 .3 .3 .3 5.9 .3-2.5 .3-1.9 .3-3 .3 3.7 .3-6.8 .3 7.4 .3-4.8 .3 .1 .3 6.4 .3-4 .3-.6 .3-3.6 .3 8.7 .3-13.3 .3 10.5 .3-.7 .3 .6 .3-3.7 .3-1.5 .3 9.8 .3-4.5 .3 1.6 .3-8.9 .3 9.2 .3 1.7 .3-2.3 .3-8.8 .3 1.8 .3-4.7 .3 9.6 .3 2.6 .3-2.5 .3-2.7 .3-1.6 .3 6.1 .3-6.4 .3 10.2 .3-4.7 .3 3 .3-4.3 .3-1.4 .3 2.7 .3-4.6 .3 2 .3 .4 .3-2.9 .3 5 .3-5.6 .3-2.9 .3 5.5 .3 .6 .3-.7 .3 1 .3 .6 .3 .5 .3-.9 .3-.3 .3-5.4 .3 7.3 .3 1.9 .3-4.9 .3-1.4 .3 5.9 .3-5.2 .3 2.9 .3 1.1 .3 2.2 .3 5.1 .3-9.6 .3-8.2 .3 9.4 .3-3.1 .3 5 .3-1 .3 1.9 .3-3.3 .3 3.3 .3-4.9 .3 4.4 .3-6.5 .3 .6 .3 2.8 .3 2.6 .3-5.7 .3 3.4 .3 2.2 .3 .2 .3-6.4 .3 10.5 .3-7.8 .3 2.7 .3 3.9 .3-8 .3-4 .3 10.9 .3-9.2 .3 5.5 .3-3.6 .3 9.8 .3-5.4 .3 4.9 .3-4.3 .3-3.8 .3 5.1 .3-6.7 .3 1.5 .3 5.2 .3-.5 .3-6 .3 2.8 .3-.2 .3-3.8 .3 8.5 .3-8.4 .3 4 .3 .3 .3 .3 .3-9.1 .3 9.4 .3-2.7 .3 6.8 .3-9.9 .3 8.7 .3-1.5 .3-4.8 .3 3.6 .3 1.6 .3-6.9 .3-1.6 .3 4.9 .3 3.6 .3-1.1 .3-.9 .3-2.4 .3 .4 .3 4.8 .3-1.2 .3 4 .3-3.5 .3-1.7 .3-1.9 .3 1.3 .3 5.4 .3-7 .3 .6 .3 2.1 .3 .7 .3 3 .3-5.1 .3 8.1 .3-7.4 .3 .6 .3 .2 .3 3.9 .3-1.6 .3-2.5 .3-4.4 .3-1 .3 5.6 .3 0 .3-1.5 .3 1.3 .3-3.3 .3 3.3 .3 3.7 .3-2.9 .3-1.3 .3 .3 .3 2.8 .3-5.6 .3 .7 .3-1.2 .3-3.5 .3 10.6 .3-2 .3-5.2 .3 9.1 .3-8.9 .3 4 .3-4.1 .3 7.3 .3-2.9 .3 .6 .3-.1 .3 5.7 .3-15.8 .3 6.5 .3 1.8 .3 1.6 .3-2.2 .3 .3 .3 3.1 .3 .2 .3-5.1 .3 6.3 .3-4.1 .3 .7 .3 6.5 .3-2.1 .3-11.9 .3 9.3 .3 .8 .3-2.2 .3-3.4 .3 7.3 .3-6.9 .3 1.7 .3-2.6 .3 1.8 .3-4.5 .3 9.2 .3-6.2 .3 2.3 .3-1.5 .3 6.6 .3 2.1 .3-5.7 .3-1 .3 .2 .3-4.2 .3-.1 .3 1.3 .3 2.3 .3-2.6 .3 1.3 .3 1.1 .3 2 .3-1.7 .3-2.6 .3 1.9 .3-4.4 .3 8.5 .3-1.4 .3-1 .3-7.6 .3 4.8 .3 1.6 .3-1.8 .3 3.7 .3-7.5 .3 7 .3 2.1 .3-5.7 .3-.2 .3-2 .3 5.8 .3-2.6"/>
</g>
<rect x="897" y="20" width="42" height="1254.5" fill="rgb(128,128,128)" fill-opacity="0.25"/>
<rect x="1041.6" y="20" width="42" height="1254.5" fill="rgb(128,128,128)" fill-opacity="0.25"/>
<g stroke="#000" stroke-width="3.5" fill="none">
<rect x="156.6" y="17.8" width="1205.6" height="1258.6"/>
<path d="M156.8 1276.3V1288.5M266.4 1276.3V1298.5M376 1276.3V1288.5M485.5 1276.3V1298.5M595.1 1276.3V1288.5M704.7 1276.3V1298.5M814.3 1276.3V1288.5M923.9 1276.3V1298.5M1033.5 1276.3V1288.5M1143 1276.3V1298.5M1252.6 1276.3V1288.5M1362.2 1276.3V1298.5"/>
</g>
<g font-size="50" text-anchor="middle">
<text x="266.4" y="1350">10</text>
<text x="485.5" y="1350">20</text>
<text x="704.7" y="1350">30</text>
<text x="923.9" y="1350">40</text>
<text x="1143" y="1350">50</text>
<text x="1362.2" y="1350">60</text>
</g>
<text x="597" y="1434.2" font-size="61">Degree (2<tspan dx="6" font-family="Liberation Serif" font-style="italic">θ</tspan><tspan dx="-2">)</tspan></text>
<text transform="translate(59.8 795) rotate(-90)" font-size="62" textLength="222" lengthAdjust="spacingAndGlyphs">Intensity</text>
<g font-size="78">
<text x="1243" y="288.6">(a<tspan dx="8">)</tspan></text>
<text x="1243" y="668.2">(b<tspan dx="8">)</tspan></text>
<text x="1243" y="933.3">(c<tspan dx="8">)</tspan></text>
<text x="1243" y="1182.4">(d<tspan dx="8">)</tspan></text>
</g>
<g font-size="78" font-weight="bold" text-anchor="middle">
<text x="917.6" y="257">*</text>
<text x="1062" y="300">*</text>
<text x="919.7" y="676">*</text>
<text x="1062" y="689">*</text>
<text x="920.3" y="958">*</text>
<text x="1062" y="942">*</text>
<text x="917.6" y="1212">*</text>
<text x="1059.4" y="1215">*</text>
<text x="1115.7" y="103">*</text>
</g>
<text x="1137.8" y="86.2" font-size="63" font-weight="bold">Pt (fcc)</text>
</g>
</svg>
</body></html>
